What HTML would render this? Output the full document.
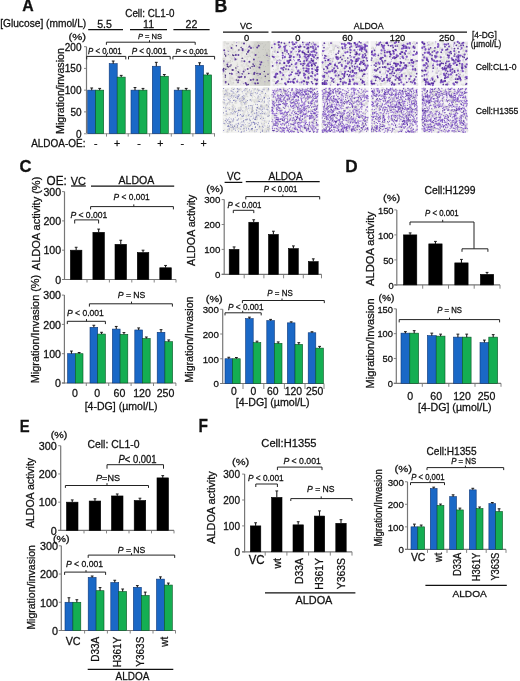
<!DOCTYPE html>
<html><head><meta charset="utf-8"><title>ALDOA figure</title>
<style>
html,body{margin:0;padding:0;background:#fff;}
body{width:520px;height:681px;overflow:hidden;}
svg{display:block;font-family:"Liberation Sans",Arial,sans-serif;filter:blur(0.3px);}
text{stroke:#111;stroke-width:0.28px;}
</style></head><body>
<svg width="520" height="681" viewBox="0 0 520 681" fill="#111">
<rect x="222.6" y="41.2" width="47.8" height="44.6" fill="#ecebe9"/>
<defs><linearGradient id="gvc" x1="0" x2="1" y1="0" y2="0"><stop offset="0" stop-color="#c9cac2" stop-opacity="0"/><stop offset="0.35" stop-color="#c9cac2" stop-opacity="0.7"/><stop offset="1" stop-color="#c9cac2" stop-opacity="0.8"/></linearGradient></defs>
<rect x="248.9" y="41.2" width="21.5" height="44.6" fill="url(#gvc)"/>
<path d="M230.1 61.6h0M259.1 72.4h0M257.3 60.6h0M260.4 64.9h0M227.0 61.6h0M225.5 82.2h0M267.2 56.4h0M237.7 75.1h0M232.8 49.6h0M232.1 56.9h0M252.4 83.5h0M233.1 83.2h0M249.1 80.8h0M261.3 48.8h0M253.4 47.3h0M223.6 59.0h0M259.2 66.4h0M232.2 78.2h0M265.7 52.1h0M244.1 69.5h0M265.2 47.4h0M249.0 83.7h0M251.6 72.9h0M259.3 63.8h0M236.7 67.4h0M247.8 56.7h0M262.9 57.6h0M245.7 74.8h0M261.1 80.4h0M253.5 52.8h0M262.6 81.2h0M256.5 75.0h0M247.1 63.2h0M250.3 48.3h0M254.7 79.1h0M230.9 74.5h0M256.1 47.1h0M225.7 67.6h0M233.5 55.3h0M252.1 70.0h0M258.0 66.4h0M238.8 42.4h0M228.6 50.2h0M247.7 73.0h0M233.0 58.7h0M266.7 59.2h0M256.4 68.6h0M253.9 62.5h0M248.6 72.2h0M230.8 76.4h0M263.8 43.9h0M232.5 52.6h0M227.7 47.9h0M253.1 47.2h0M226.4 82.8h0M242.0 65.3h0M245.3 56.7h0M244.4 50.3h0M250.2 52.8h0M230.0 50.9h0M242.5 82.1h0M251.0 84.3h0M241.9 53.2h0M256.3 50.1h0M269.6 58.8h0M235.9 53.6h0M237.4 82.4h0M269.3 66.0h0M234.1 42.3h0M227.0 54.8h0M253.1 69.0h0M262.9 77.4h0M239.7 71.0h0M243.9 73.4h0M231.9 84.1h0M224.4 68.6h0M239.7 76.5h0M230.0 80.4h0M223.4 73.7h0M255.9 63.8h0M231.4 58.4h0M244.0 51.1h0M230.8 78.3h0M248.8 53.6h0M252.3 69.2h0M229.6 67.2h0M250.4 46.7h0M237.3 79.2h0M250.2 51.5h0M241.6 61.7h0M256.2 79.1h0M227.4 43.9h0M243.8 42.8h0M230.5 46.5h0M227.4 68.9h0M227.7 66.4h0M268.1 48.0h0M258.5 67.1h0M231.2 82.9h0M257.5 58.3h0M264.5 46.4h0M262.0 78.3h0M228.7 81.4h0M259.7 81.4h0M236.4 73.8h0M259.5 56.9h0M224.9 42.5h0M246.8 65.6h0M229.1 69.2h0M225.7 62.6h0M247.0 50.7h0M225.5 80.9h0M262.9 67.3h0M224.7 64.6h0M268.0 75.0h0M255.2 43.6h0M250.1 52.0h0M269.1 42.4h0M233.6 79.9h0M228.9 54.9h0M237.5 80.0h0M255.6 82.2h0M232.2 45.7h0M239.2 75.0h0M252.0 82.3h0M256.4 45.4h0M237.9 50.7h0M235.7 70.7h0M243.9 74.6h0M224.0 81.2h0M230.8 74.0h0M262.5 43.7h0M248.5 84.0h0" stroke="#d0d0cc" stroke-width="2.8" stroke-linecap="round" stroke-opacity="0.45" fill="none"/>
<path d="M223.6 63.4h0M243.0 58.4h0M232.3 49.7h0M235.6 51.3h0M236.9 80.9h0M267.3 53.1h0M224.6 53.4h0M263.0 49.5h0M254.0 45.9h0M239.7 49.2h0M251.9 57.9h0M259.2 64.3h0M242.0 42.8h0M262.2 43.6h0M246.4 84.6h0M260.0 57.3h0M266.4 53.1h0M250.3 66.8h0M256.8 54.4h0M241.8 55.9h0M265.9 73.8h0M239.1 75.3h0M252.0 52.6h0M246.5 46.1h0M233.1 45.2h0M227.0 68.5h0M261.8 78.0h0M233.5 82.8h0M238.8 71.8h0M250.9 62.5h0M255.3 80.4h0M255.6 63.9h0M263.3 74.1h0M240.7 84.2h0M242.0 43.6h0M268.0 82.6h0M248.1 74.3h0M255.6 46.2h0M260.2 69.0h0M268.1 62.6h0M236.2 75.2h0M249.0 79.6h0M225.3 71.5h0M265.5 49.8h0M227.5 63.1h0M253.6 69.2h0M247.9 56.5h0M256.3 84.6h0M246.8 59.0h0M268.3 49.6h0M249.4 78.2h0M260.0 74.2h0M254.9 61.3h0M268.1 42.0h0M243.0 61.4h0M256.6 54.3h0M232.5 61.2h0M252.8 64.7h0M263.9 62.3h0M232.8 69.6h0M241.4 43.0h0M241.9 46.7h0M253.0 80.9h0M257.3 83.3h0M229.9 78.0h0M258.7 52.3h0M245.3 49.4h0M237.7 64.6h0M241.3 58.7h0M256.3 71.2h0M228.7 66.6h0M259.4 43.3h0M258.0 42.8h0M243.2 58.4h0M224.2 45.1h0M254.4 53.4h0M247.4 48.9h0M251.9 82.3h0M258.2 57.7h0M267.7 57.0h0M236.2 60.1h0M269.0 58.6h0M236.8 65.4h0M252.8 74.7h0M256.2 71.0h0M242.4 60.8h0M268.8 63.3h0M258.6 57.4h0M223.8 58.8h0M247.5 59.1h0M233.0 48.9h0M225.6 72.4h0M247.8 77.1h0M263.4 74.4h0M260.2 80.9h0M265.7 77.3h0M264.9 56.9h0M269.5 80.5h0M261.0 78.6h0M257.9 66.7h0M247.3 82.1h0M236.6 69.8h0M266.6 53.4h0M230.6 55.3h0M243.8 63.8h0M234.1 52.3h0M230.1 62.2h0M229.9 57.1h0M231.3 69.2h0M252.1 51.8h0M269.7 54.2h0M265.4 54.8h0M249.3 67.4h0M250.1 56.5h0M260.0 68.8h0M249.3 62.7h0M236.4 59.5h0M257.4 72.6h0M269.5 73.3h0M269.3 56.1h0M236.1 85.0h0M243.1 67.0h0M263.6 47.3h0M228.8 62.1h0M232.6 44.6h0M256.3 65.7h0M244.4 69.5h0M237.5 59.0h0M238.8 69.7h0M244.6 66.9h0M248.8 66.5h0M225.4 75.6h0M265.5 44.9h0M257.8 66.6h0M257.7 42.6h0M224.9 65.4h0M249.0 46.4h0M259.3 46.1h0M264.7 76.3h0M256.9 78.9h0M236.8 68.3h0M224.3 74.3h0M231.7 44.1h0M258.6 44.5h0M253.1 83.4h0M248.4 65.6h0M258.6 74.0h0M246.5 44.1h0M269.0 73.4h0M245.5 70.7h0M235.0 52.0h0M225.1 59.0h0M249.6 46.3h0M231.9 58.7h0M223.3 76.9h0M230.8 81.1h0M249.8 55.3h0M226.6 69.1h0M226.0 56.3h0M269.6 77.7h0M256.2 67.1h0M252.0 74.1h0M264.0 46.1h0M264.9 84.1h0M250.3 56.2h0M225.7 56.8h0M225.0 71.2h0M250.9 73.5h0M263.6 55.5h0M258.1 73.8h0M249.2 44.6h0M263.4 65.7h0M244.9 78.7h0M228.7 43.4h0M254.2 72.8h0M247.9 66.0h0M259.1 77.5h0M253.4 73.6h0M246.9 49.0h0M260.4 44.0h0M231.1 66.6h0M240.3 80.3h0M237.2 63.1h0M232.1 78.3h0M240.0 72.9h0M257.4 61.3h0M228.6 83.6h0M225.0 77.6h0M230.6 60.5h0M243.9 60.3h0M250.6 71.1h0M254.8 44.8h0M240.5 50.1h0M268.2 65.2h0M269.2 51.0h0M255.1 64.4h0M238.6 50.1h0M251.3 80.3h0M246.2 64.2h0M267.2 53.1h0M239.7 80.0h0M227.0 43.5h0M254.1 62.7h0M265.4 66.5h0M236.2 70.5h0M243.9 69.0h0M232.5 44.7h0M265.5 78.3h0M230.3 46.5h0M261.7 72.5h0M244.1 78.6h0M261.2 77.5h0M265.7 76.9h0" stroke="#a8a8a4" stroke-width="0.9" stroke-linecap="round" stroke-opacity="0.5" fill="none"/>
<path d="M223.4 69.5h0M243.6 71.6h0M255.3 83.5h0M241.4 76.7h0M239.6 77.2h0M235.5 59.2h0M246.9 84.8h0M238.3 80.4h0M253.3 79.4h0M231.5 48.0h0M257.9 83.2h0M257.2 47.4h0M247.7 69.0h0M242.4 49.1h0M238.4 54.9h0M244.4 61.3h0M242.6 50.3h0M245.8 83.5h0M225.7 82.0h0M254.1 73.9h0M254.5 72.8h0M250.8 80.1h0M235.8 55.0h0M247.9 52.1h0M251.0 48.1h0M244.9 77.0h0M260.4 64.6h0M254.2 65.9h0M258.7 45.8h0M249.4 61.7h0M249.5 46.6h0M223.5 70.7h0M224.2 50.2h0M260.1 74.1h0M255.5 55.1h0M244.0 43.4h0M259.4 67.6h0M245.6 83.0h0M261.4 62.3h0M248.8 50.5h0M227.3 64.6h0M257.2 80.0h0M231.7 73.7h0M232.9 70.1h0M253.9 59.4h0" stroke="#4e2a90" stroke-width="2.0" stroke-linecap="round" stroke-opacity="0.9" fill="none"/>
<path d="M225.4 75.2h0M238.6 72.5h0M224.8 54.2h0M223.9 60.9h0M229.9 66.2h0M241.1 47.4h0M227.4 66.3h0M267.0 55.2h0M242.1 73.7h0M228.3 66.9h0M246.6 54.1h0M248.3 84.6h0M225.6 56.1h0M236.3 80.0h0M250.3 67.9h0M232.6 54.9h0M268.0 74.2h0M229.8 73.5h0M238.2 77.1h0M236.4 45.8h0M264.3 71.6h0M235.8 68.1h0M253.2 64.2h0M257.0 73.5h0M233.7 55.6h0M238.0 82.4h0M225.7 69.2h0M232.1 69.9h0M238.1 71.8h0M265.3 76.2h0M225.4 76.9h0M242.2 58.3h0M228.6 84.3h0M252.1 66.4h0M238.9 50.1h0M223.8 68.6h0M231.0 65.1h0M225.6 55.7h0M269.0 80.7h0M248.7 73.6h0" stroke="#3a1f70" stroke-width="1.5" stroke-linecap="round" stroke-opacity="0.9" fill="none"/>
<path d="M258.1 75.2h0M228.5 51.5h0M228.5 54.5h0M243.5 49.0h0M254.3 82.8h0M234.9 60.1h0M225.4 83.2h0M237.8 82.0h0M231.6 73.3h0M234.6 57.9h0M259.8 61.4h0M252.8 63.6h0M236.2 54.9h0M268.0 60.8h0M249.4 73.6h0M253.2 47.8h0M239.8 73.7h0M223.6 71.9h0M259.9 61.6h0M242.6 74.4h0M237.9 66.4h0M227.9 51.0h0M232.6 74.3h0M248.3 47.4h0M237.0 73.2h0M228.1 62.7h0M223.8 61.9h0M258.5 73.3h0M243.4 83.6h0M241.7 60.9h0M264.9 81.8h0M245.6 69.9h0M269.2 56.4h0M236.7 42.6h0M224.8 52.4h0" stroke="#7a58b8" stroke-width="1.1" stroke-linecap="round" stroke-opacity="0.7" fill="none"/>
<rect x="271.0" y="41.2" width="47.8" height="44.6" fill="#f3f2f4"/>
<path d="M298.7 50.3h0M316.5 81.8h0M293.4 70.6h0M281.7 51.5h0M285.1 71.8h0M281.6 83.9h0M275.0 50.2h0M275.8 75.2h0M288.7 62.3h0M286.8 69.4h0M290.4 50.9h0M291.7 55.0h0M276.8 77.5h0M303.3 70.6h0M312.6 58.9h0M289.3 60.2h0M290.5 70.8h0M272.0 61.9h0M296.5 56.8h0M272.7 72.3h0M272.1 66.3h0M278.8 43.4h0M280.1 44.7h0M278.7 71.5h0M305.5 57.6h0M302.0 62.4h0M294.8 79.7h0M286.1 79.5h0M303.8 71.4h0M272.0 45.5h0M273.2 56.8h0M315.6 79.7h0M310.6 47.0h0M304.4 75.4h0M309.2 76.1h0M278.2 49.6h0M308.5 73.8h0M313.1 61.2h0M313.0 47.9h0M316.1 80.1h0M287.4 44.8h0M297.2 71.7h0M288.0 44.4h0M284.6 77.5h0M275.9 82.4h0M283.3 50.7h0M276.9 84.3h0M313.5 55.7h0M276.1 70.1h0M312.9 42.4h0M301.1 78.9h0M293.0 66.5h0M309.0 52.2h0M284.4 70.4h0M297.3 65.0h0M287.2 82.4h0M285.1 71.2h0M313.2 59.2h0M274.2 51.4h0M274.8 48.3h0M277.3 56.7h0M288.9 61.2h0M302.6 71.1h0M303.6 57.6h0M302.5 65.7h0M277.6 65.5h0M286.5 71.1h0M305.8 52.3h0M291.9 61.6h0M285.5 43.6h0M274.0 84.8h0M306.0 60.9h0M302.6 53.5h0M304.7 83.0h0M307.6 62.0h0M317.3 81.7h0M274.4 59.7h0M292.7 53.7h0M300.3 48.1h0M306.4 79.0h0M274.6 71.8h0M284.0 69.5h0M303.8 84.1h0M308.7 56.5h0M305.6 48.2h0M304.8 59.9h0M284.0 52.2h0M281.8 76.3h0M276.2 51.9h0M280.6 48.7h0M305.6 67.3h0M302.5 80.8h0M292.5 43.5h0M280.5 64.2h0M304.9 81.6h0M295.4 51.7h0M299.2 82.3h0M287.2 82.1h0M313.6 66.8h0M294.0 47.5h0M276.8 43.7h0M300.1 72.7h0M317.8 67.9h0M317.8 59.3h0M277.9 44.5h0M285.1 64.8h0M317.5 54.7h0M282.6 73.1h0M289.7 66.0h0M278.7 78.8h0M314.4 74.5h0M315.1 56.3h0M273.2 55.1h0M313.4 62.2h0M281.0 48.4h0M279.3 60.9h0M314.7 80.1h0M306.9 74.6h0M280.6 75.5h0M282.1 64.6h0M273.3 80.5h0M277.7 67.5h0M302.4 69.7h0M303.4 57.9h0M308.5 82.4h0M300.3 84.2h0M311.1 44.3h0M302.9 45.9h0M302.4 57.9h0M311.3 43.8h0M315.6 43.8h0M274.3 42.0h0M277.5 84.5h0" stroke="#d0d0cc" stroke-width="2.8" stroke-linecap="round" stroke-opacity="0.45" fill="none"/>
<path d="M310.5 81.5h0M280.3 71.6h0M308.6 73.3h0M284.2 83.8h0M305.5 71.5h0M284.9 59.1h0M306.9 64.2h0M294.3 81.6h0M291.2 79.0h0M273.9 64.8h0M304.8 42.4h0M304.0 54.3h0M300.7 68.8h0M278.0 82.7h0M283.0 47.8h0M292.2 44.7h0M276.4 74.8h0M276.2 65.3h0M312.8 61.5h0M309.5 77.8h0M279.3 45.2h0M308.1 79.3h0M311.3 72.8h0M295.4 83.3h0M306.0 74.9h0M314.0 44.3h0M306.1 67.1h0M272.3 52.9h0M304.9 64.8h0M297.8 54.3h0M298.0 79.9h0M317.2 65.8h0M305.6 45.7h0M278.2 66.1h0M310.0 47.1h0M278.5 63.5h0M285.9 48.0h0M279.1 60.2h0M308.5 49.3h0M309.1 45.1h0M283.3 70.8h0M272.0 55.8h0M278.9 51.9h0M312.8 48.8h0M305.1 81.2h0M283.1 79.2h0M286.6 75.3h0M298.7 57.0h0M312.8 72.0h0M286.5 66.7h0M285.4 54.2h0M315.2 84.0h0M279.0 81.5h0M304.8 42.4h0M276.7 60.7h0M312.9 79.6h0M283.3 61.1h0M314.6 51.0h0M276.6 59.8h0M303.3 79.6h0M312.4 42.4h0M279.8 47.4h0M299.3 59.4h0M314.5 68.5h0M300.2 71.6h0M281.2 80.6h0M311.7 77.4h0M308.0 49.4h0M274.2 57.7h0M305.0 50.6h0M312.0 78.9h0M304.0 62.8h0M278.7 76.9h0M279.7 63.3h0M306.9 69.4h0M282.6 79.9h0M286.6 60.1h0M292.0 72.2h0M273.5 69.5h0M294.3 76.5h0M288.7 66.6h0M316.6 44.4h0M308.5 62.1h0M285.6 53.8h0M281.8 78.3h0M281.1 83.5h0M295.7 54.2h0M308.0 67.0h0M312.7 48.1h0M303.8 43.1h0M280.2 59.8h0M286.2 54.1h0M298.1 74.2h0M291.0 63.9h0M308.0 51.7h0M318.0 42.9h0M288.9 77.6h0M282.6 56.2h0M279.6 84.0h0M312.4 45.4h0M296.7 48.5h0M272.5 51.4h0M304.3 64.7h0M285.0 67.0h0M275.5 56.7h0M276.3 77.5h0M289.5 72.8h0M287.3 59.8h0M298.4 53.1h0M297.1 75.3h0M275.1 50.5h0M272.6 63.0h0M276.8 64.4h0M279.2 64.6h0M284.8 74.3h0M309.5 83.3h0M293.2 80.3h0M311.7 56.4h0M317.2 83.3h0M279.0 74.4h0M303.6 68.5h0M304.7 53.9h0M310.4 73.1h0M280.2 83.6h0M305.7 44.3h0M273.2 49.2h0M302.4 73.1h0M314.9 80.1h0M281.2 50.3h0M275.6 58.7h0M291.3 58.3h0M309.8 68.4h0M309.0 79.2h0M307.2 64.1h0M290.7 65.1h0M293.0 70.8h0M311.2 71.1h0M283.5 66.3h0M292.8 47.2h0M276.6 61.4h0M315.4 72.3h0M274.3 81.5h0M305.3 68.0h0M272.0 55.3h0M287.2 62.7h0M277.4 69.1h0M300.1 69.6h0M294.6 66.0h0M276.9 77.6h0M312.0 78.7h0M307.3 52.4h0M285.3 44.1h0M308.1 79.0h0M315.2 67.8h0M308.8 78.4h0M277.3 44.9h0M312.4 83.8h0M304.9 68.7h0M290.1 79.0h0M284.9 44.2h0M309.0 44.5h0M304.9 70.0h0M276.8 60.8h0M284.3 76.8h0M307.8 56.1h0M278.9 56.7h0M292.1 68.1h0M315.7 55.8h0M278.6 69.0h0M291.4 73.9h0M302.4 65.5h0M309.6 50.4h0M308.0 49.8h0M293.9 65.9h0M296.9 46.7h0M293.0 54.0h0M284.5 60.1h0M290.9 50.8h0M303.5 82.1h0M315.7 49.7h0M282.5 59.5h0M299.3 71.8h0M299.0 63.2h0M318.0 83.4h0M309.0 52.8h0M307.3 43.5h0M315.7 72.2h0M314.6 60.2h0M304.7 52.7h0M314.6 49.6h0M272.1 54.0h0M302.5 65.1h0M309.2 71.4h0M307.9 82.6h0M274.8 46.5h0M285.1 47.7h0M297.3 73.0h0M280.1 63.3h0M283.2 42.6h0M284.0 53.4h0M303.6 83.8h0M274.8 63.1h0M293.2 69.0h0M278.6 83.2h0M284.5 66.9h0M290.6 66.2h0M312.6 68.6h0M287.5 83.0h0M279.9 83.3h0M303.0 52.5h0M317.4 79.3h0M295.3 76.8h0M276.1 53.8h0" stroke="#a8a8a4" stroke-width="0.9" stroke-linecap="round" stroke-opacity="0.5" fill="none"/>
<path d="M293.9 82.7h0M317.7 67.0h0M308.0 47.6h0M299.2 47.2h0M308.8 66.2h0M311.6 65.6h0M307.1 84.1h0M295.8 47.0h0M293.2 44.4h0M298.0 71.4h0M284.9 49.1h0M289.9 55.7h0M306.7 68.5h0M290.4 81.9h0M286.8 50.5h0M308.2 44.4h0M316.5 52.8h0M312.7 60.8h0M310.6 62.6h0M312.1 68.8h0M281.3 68.3h0M291.2 52.0h0M312.5 54.8h0M301.6 82.3h0M284.3 62.9h0M292.4 42.3h0M308.7 69.0h0M316.2 84.3h0M282.3 68.3h0M300.9 64.1h0M313.5 63.6h0M308.5 78.2h0M279.1 47.5h0M273.8 57.1h0M313.0 51.4h0M276.8 62.7h0M284.8 57.2h0M304.2 61.2h0M306.1 57.5h0M300.1 46.4h0M276.6 73.5h0M317.3 74.0h0M314.9 44.7h0M304.4 47.0h0M291.0 74.5h0M308.3 63.9h0M305.0 74.5h0M316.9 69.3h0M318.1 46.5h0M303.5 68.3h0M288.1 81.7h0M275.9 74.2h0M289.6 66.1h0M309.7 62.3h0M292.6 81.5h0M305.5 54.5h0M306.5 44.6h0M275.6 76.0h0M282.8 55.5h0M299.9 57.0h0M289.3 75.5h0M296.3 67.3h0M308.2 69.0h0M302.4 51.8h0M312.3 71.8h0M297.6 54.7h0M312.8 46.7h0M296.3 42.6h0M283.2 75.2h0M307.3 71.7h0M310.3 55.0h0M274.7 44.2h0M308.7 56.5h0M293.4 48.9h0M304.5 63.6h0M295.4 47.0h0M278.4 42.3h0M307.9 64.8h0M295.8 73.5h0M308.4 71.1h0M298.4 70.6h0M312.7 55.9h0M276.9 82.2h0M304.1 75.2h0M303.6 81.0h0M284.2 46.8h0M305.1 77.7h0M304.7 56.4h0M296.4 63.0h0M280.2 46.6h0M299.5 73.3h0M299.7 50.9h0M317.2 79.6h0M287.5 61.2h0M314.0 57.2h0M286.6 65.8h0M295.6 64.2h0M297.2 81.7h0M293.8 57.1h0M313.4 48.1h0M305.8 71.1h0M289.1 62.2h0M285.1 83.4h0M315.2 75.4h0M306.9 65.5h0M298.2 60.0h0M307.2 59.3h0M284.7 47.5h0M311.4 51.8h0M280.5 72.7h0" stroke="#6a38b8" stroke-width="2.2" stroke-linecap="round" stroke-opacity="0.85" fill="none"/>
<path d="M309.0 73.0h0M308.3 51.2h0M306.6 82.1h0M316.8 71.2h0M293.4 79.4h0M308.3 52.2h0M315.6 55.1h0M311.3 58.8h0M316.0 62.9h0M312.6 83.5h0M313.0 61.5h0M282.6 52.9h0M279.2 42.0h0M317.3 71.5h0M304.7 53.7h0M291.3 56.0h0M308.6 55.0h0M288.5 69.4h0M288.5 53.8h0M314.7 51.8h0M311.8 64.5h0M285.4 46.0h0M280.1 71.5h0M289.4 42.4h0M310.9 46.9h0M310.8 76.0h0M306.6 60.6h0M317.9 57.7h0M306.9 54.5h0M279.9 63.0h0M300.2 61.3h0M283.9 67.4h0M317.0 83.7h0M303.8 52.6h0M308.0 82.3h0M285.9 69.0h0M284.3 63.2h0M291.7 64.3h0M315.9 49.5h0M300.7 46.5h0M271.8 47.6h0M299.2 59.5h0M302.6 52.3h0M293.4 82.3h0M317.0 69.7h0M317.2 57.9h0M304.0 73.3h0M282.7 57.8h0M288.2 63.1h0M315.6 70.2h0M283.2 69.8h0M315.9 48.1h0M292.1 48.0h0M275.4 77.4h0M284.4 43.3h0M311.8 76.2h0M310.1 54.0h0M290.3 57.4h0M289.1 60.5h0M278.8 44.9h0M307.1 48.7h0M306.6 70.9h0M278.0 80.9h0M277.5 73.8h0M316.8 80.5h0M307.3 48.6h0M315.2 65.5h0M289.4 57.3h0M302.8 42.4h0M303.2 63.7h0M288.3 81.9h0M316.1 83.5h0M297.1 73.6h0M274.3 76.8h0M315.1 79.4h0M311.3 60.5h0M317.9 69.8h0M303.0 65.5h0M294.9 78.7h0M275.8 83.3h0M309.5 42.6h0M307.9 56.6h0M298.9 51.7h0M298.7 47.1h0M289.2 79.0h0M281.4 42.7h0M304.3 81.3h0M313.1 60.3h0M281.8 79.1h0M294.7 44.2h0M277.8 52.2h0M308.2 77.0h0M290.5 60.2h0M317.0 67.5h0M290.5 59.9h0M272.6 56.5h0M284.9 50.9h0M308.7 47.9h0M272.7 65.9h0M312.5 73.3h0M311.7 81.9h0M298.5 75.3h0M314.7 64.2h0M311.9 65.6h0M299.7 55.1h0M285.9 84.4h0M292.0 72.2h0M314.1 50.1h0M287.1 52.0h0M300.0 72.3h0" stroke="#4c2496" stroke-width="1.7" stroke-linecap="round" stroke-opacity="0.9" fill="none"/>
<path d="M314.1 69.4h0M300.0 44.7h0M311.2 72.4h0M298.1 61.7h0M303.1 44.4h0M293.7 59.5h0M309.3 61.2h0M298.3 71.6h0M314.1 62.4h0M294.4 60.7h0M314.6 78.5h0M286.5 45.4h0M309.7 62.4h0M317.4 66.4h0M292.7 50.8h0M314.1 51.9h0M305.2 58.8h0M313.6 44.1h0M296.3 51.5h0M316.5 59.5h0M316.7 69.4h0M291.9 69.3h0M307.0 46.8h0M299.7 82.7h0M307.3 58.7h0M311.2 72.3h0M277.7 60.4h0M316.7 45.1h0M303.1 50.4h0M307.9 60.7h0M308.6 58.3h0M300.5 56.5h0M311.9 63.5h0M307.6 71.8h0M309.0 45.9h0M311.5 76.2h0M298.7 49.4h0M282.3 73.2h0M315.2 58.5h0M313.7 46.6h0M312.9 77.6h0M290.7 53.1h0M304.3 61.3h0M291.0 57.5h0M297.4 80.2h0M297.6 45.8h0M312.1 51.8h0M274.8 51.8h0M307.2 42.6h0M311.8 43.6h0M308.7 49.7h0M314.3 54.7h0M313.0 47.8h0M300.6 50.4h0M285.3 56.2h0M303.6 84.2h0M280.9 60.7h0M303.6 70.3h0M279.3 59.9h0M315.9 70.3h0M313.5 42.7h0M315.2 46.4h0M313.3 46.7h0M296.7 69.0h0M289.7 46.3h0M289.6 59.3h0M292.5 42.7h0M308.1 79.1h0M311.7 44.0h0M303.8 75.9h0" stroke="#8a66c8" stroke-width="1.2" stroke-linecap="round" stroke-opacity="0.75" fill="none"/>
<rect x="321.5" y="41.2" width="47.3" height="44.6" fill="#f3f2f4"/>
<path d="M329.0 68.5h0M330.0 72.7h0M350.1 58.5h0M350.5 66.4h0M324.2 64.8h0M350.6 64.3h0M362.6 73.7h0M339.5 51.7h0M328.1 76.9h0M353.9 68.2h0M342.5 63.5h0M332.4 64.8h0M328.9 68.7h0M351.1 70.9h0M333.5 45.9h0M337.5 71.6h0M345.6 74.2h0M342.0 59.1h0M363.9 49.1h0M331.7 67.3h0M351.2 60.6h0M347.8 60.9h0M352.9 80.3h0M360.1 69.5h0M343.8 82.8h0M342.7 68.9h0M362.1 71.4h0M340.1 74.0h0M349.8 81.4h0M350.8 65.0h0M366.9 64.7h0M340.5 82.4h0M365.5 49.3h0M325.5 79.0h0M362.7 58.5h0M333.9 71.5h0M365.4 51.1h0M342.8 70.5h0M332.3 59.8h0M328.8 62.6h0M332.8 45.4h0M340.1 48.4h0M327.7 48.4h0M341.4 55.6h0M355.6 59.8h0M333.4 50.0h0M335.8 74.0h0M331.5 62.0h0M359.2 77.7h0M343.4 78.3h0M351.7 51.7h0M326.5 49.2h0M358.5 58.7h0M360.6 83.7h0M364.4 62.2h0M322.5 53.8h0M332.2 69.9h0M354.4 81.7h0M354.6 83.4h0M351.5 62.4h0M360.6 53.7h0M357.9 73.3h0M362.0 44.5h0M330.9 82.9h0M328.7 61.4h0M349.8 62.7h0M362.6 83.2h0M337.9 47.7h0M364.2 61.5h0M333.6 47.9h0M322.6 67.1h0M335.1 65.9h0M364.6 62.8h0M366.0 44.8h0M357.0 74.5h0M366.2 43.2h0M345.5 65.9h0M349.7 62.3h0M334.7 80.9h0M362.5 72.2h0M366.2 65.8h0M325.8 71.9h0M327.0 74.3h0M352.0 50.8h0M329.2 44.8h0M330.3 84.2h0M332.7 80.1h0M328.4 56.5h0M343.9 57.4h0M366.5 52.3h0M344.4 50.8h0M327.2 71.7h0M337.8 62.9h0M354.0 45.7h0M324.7 71.6h0M367.8 42.7h0M343.0 84.9h0M360.4 84.6h0M346.5 83.9h0M324.8 62.3h0M361.1 58.8h0M342.4 61.3h0M339.6 77.0h0M366.9 51.9h0M337.0 76.6h0M356.3 77.1h0M353.5 81.4h0M361.0 69.3h0M335.2 45.6h0M361.7 79.0h0M363.1 53.3h0M356.1 82.1h0M331.7 42.9h0M330.2 51.4h0M353.4 77.4h0M359.8 71.7h0M367.1 83.9h0M342.4 81.7h0M355.2 52.5h0M349.1 49.3h0M340.6 77.0h0M322.7 65.1h0M342.2 54.1h0M325.2 64.5h0M337.5 46.1h0M340.6 71.2h0M325.9 75.8h0M326.0 62.2h0M339.0 78.9h0M363.2 73.7h0M335.7 55.9h0" stroke="#d0d0cc" stroke-width="2.8" stroke-linecap="round" stroke-opacity="0.45" fill="none"/>
<path d="M360.1 63.9h0M351.4 73.2h0M331.0 58.5h0M366.0 56.2h0M361.1 48.6h0M322.8 63.6h0M335.2 67.6h0M357.5 43.6h0M345.1 58.0h0M363.8 78.4h0M362.8 73.9h0M338.1 68.7h0M347.2 57.8h0M335.5 69.9h0M363.3 52.3h0M338.5 48.7h0M339.0 58.7h0M326.5 69.8h0M338.0 76.8h0M333.3 73.6h0M367.2 49.2h0M339.2 83.9h0M340.7 56.1h0M329.2 77.7h0M337.2 79.9h0M347.8 49.7h0M367.8 80.8h0M356.6 67.9h0M356.8 82.8h0M331.3 52.3h0M357.2 59.9h0M367.4 77.9h0M346.1 48.8h0M350.3 67.9h0M348.8 75.5h0M344.1 80.5h0M349.5 48.8h0M359.9 49.2h0M363.8 81.9h0M331.2 50.6h0M354.4 61.6h0M339.4 74.3h0M337.6 47.5h0M347.5 79.8h0M366.3 46.5h0M356.4 55.9h0M366.8 58.8h0M326.9 56.2h0M345.9 49.5h0M357.5 56.1h0M356.3 51.9h0M344.7 70.4h0M331.7 54.4h0M360.7 58.9h0M338.2 68.6h0M353.9 79.2h0M348.1 78.8h0M363.2 81.9h0M364.4 71.9h0M354.1 58.7h0M327.1 81.8h0M341.2 56.5h0M347.4 74.6h0M360.3 46.8h0M358.2 82.6h0M367.1 82.6h0M348.5 80.3h0M349.3 78.6h0M367.6 58.1h0M327.9 74.3h0M365.3 81.0h0M343.4 61.3h0M327.9 78.7h0M334.7 47.2h0M326.9 82.1h0M341.3 76.2h0M325.4 62.7h0M356.4 75.2h0M330.9 62.7h0M359.5 81.4h0M326.5 67.3h0M363.0 68.7h0M358.2 54.7h0M344.8 42.5h0M358.8 66.2h0M330.5 82.6h0M331.9 43.4h0M355.5 45.4h0M352.4 47.8h0M323.2 73.7h0M350.4 70.4h0M354.7 72.9h0M330.3 60.2h0M349.4 79.3h0M351.8 63.0h0M359.8 78.4h0M333.7 49.8h0M322.5 79.6h0M331.9 66.9h0M346.3 70.3h0M365.3 70.3h0M330.1 60.5h0M330.7 58.4h0M356.2 70.1h0M351.0 79.2h0M368.0 52.8h0M354.4 69.8h0M323.4 84.7h0M340.5 71.0h0M332.7 60.2h0M327.6 83.7h0M324.1 45.0h0M355.6 66.8h0M337.0 82.5h0M354.3 61.3h0M354.9 82.4h0M362.2 57.6h0M357.7 51.4h0M339.9 84.8h0M355.9 59.2h0M347.2 60.8h0M354.7 64.5h0M343.0 60.0h0M362.6 76.9h0M333.3 59.1h0M363.5 73.4h0M349.8 69.1h0M331.4 66.4h0M356.5 61.0h0M341.0 60.5h0M349.7 51.4h0M359.9 44.7h0M357.7 64.6h0M333.7 52.8h0M334.6 48.9h0M367.8 53.9h0M326.1 70.3h0M367.0 54.3h0M332.8 67.2h0M337.2 61.8h0M348.5 85.0h0M339.5 57.6h0M354.7 66.5h0M362.4 60.7h0M351.4 63.9h0M349.9 63.0h0M329.7 47.2h0M340.4 85.1h0M345.6 63.5h0M342.8 75.4h0M338.5 58.8h0M337.6 66.6h0M344.2 68.0h0M365.2 56.7h0M350.9 84.8h0M356.3 78.3h0M359.5 50.4h0M351.3 56.8h0M338.5 47.4h0M358.1 81.8h0M361.8 60.7h0M364.4 76.6h0M350.5 76.6h0M357.9 42.4h0M350.7 70.0h0M338.7 76.8h0M356.1 45.8h0M340.0 42.3h0M339.4 46.7h0M322.3 54.8h0M355.1 49.5h0M366.7 50.0h0M360.3 53.6h0M362.4 63.8h0M360.8 61.1h0M335.0 80.2h0M323.1 47.4h0M328.6 66.1h0M357.1 52.5h0M348.9 78.7h0M322.4 74.9h0M328.5 43.1h0M344.8 58.6h0M340.3 69.4h0M322.9 68.0h0M328.9 82.7h0M343.9 51.1h0M346.3 59.7h0M325.5 74.8h0M342.0 78.3h0M357.0 77.6h0M365.9 54.7h0M348.1 66.6h0M350.6 74.1h0M357.3 70.0h0M349.9 65.3h0M328.7 53.6h0M327.7 67.7h0M350.0 51.6h0M339.6 79.3h0M329.4 65.1h0M345.7 62.2h0M335.3 83.0h0M348.0 63.6h0M325.7 43.5h0M343.8 53.3h0M353.6 72.5h0M325.0 58.3h0M336.5 69.9h0M348.2 79.1h0" stroke="#a8a8a4" stroke-width="0.9" stroke-linecap="round" stroke-opacity="0.5" fill="none"/>
<path d="M355.9 61.0h0M351.1 60.0h0M367.0 46.0h0M347.7 63.3h0M328.4 65.2h0M326.9 73.1h0M364.6 44.5h0M328.1 60.2h0M365.3 45.2h0M360.7 47.3h0M336.7 58.3h0M362.5 56.6h0M365.2 65.4h0M344.5 82.3h0M332.3 71.1h0M345.0 46.1h0M361.3 49.5h0M366.4 58.0h0M350.1 81.4h0M334.8 72.3h0M367.7 65.7h0M357.1 60.9h0M350.4 49.9h0M323.2 76.6h0M354.7 83.4h0M326.0 83.1h0M349.4 43.2h0M360.5 48.6h0M359.9 49.8h0M358.1 58.7h0M354.7 73.1h0M349.8 68.5h0M344.2 44.1h0M360.7 63.4h0M354.1 57.3h0M351.6 76.4h0M333.0 79.4h0M332.6 70.0h0M362.8 47.3h0M364.9 70.2h0M345.7 44.8h0M357.3 84.0h0M353.6 75.7h0M359.8 46.2h0M366.2 50.7h0M347.5 51.9h0M358.9 58.5h0M341.9 43.8h0M345.4 52.6h0M362.7 57.5h0M351.3 46.3h0M336.9 66.3h0M348.2 43.2h0M345.6 66.3h0M323.3 83.3h0M335.0 64.7h0M326.5 84.0h0M356.9 83.7h0M359.9 70.8h0M352.8 79.5h0M337.6 59.2h0M364.1 63.5h0M344.7 68.3h0M350.4 72.1h0M338.3 58.5h0M342.3 47.4h0M362.1 70.9h0M344.1 74.8h0M345.1 71.9h0M337.9 84.6h0M355.0 43.2h0M325.1 83.9h0M341.6 64.8h0M358.2 46.4h0M364.7 49.4h0M355.8 44.7h0M347.9 63.6h0M340.8 79.4h0M357.8 60.4h0M357.2 66.7h0M361.4 47.3h0M354.2 84.1h0M355.2 68.5h0M330.1 71.5h0M328.9 71.7h0M354.4 50.3h0M359.3 54.3h0M357.3 44.5h0M335.7 75.6h0M334.1 68.3h0M364.8 47.9h0M362.9 55.0h0M345.9 82.8h0M361.0 61.9h0M324.6 58.2h0M349.8 84.0h0M331.2 78.1h0M353.1 70.8h0M330.5 64.1h0M357.0 53.7h0M344.2 75.6h0M322.6 62.3h0M353.2 79.6h0M366.6 67.7h0M363.9 82.0h0M352.3 61.2h0M343.0 84.0h0M324.2 77.0h0M323.0 51.1h0M362.4 82.8h0" stroke="#6a38b8" stroke-width="2.2" stroke-linecap="round" stroke-opacity="0.85" fill="none"/>
<path d="M323.9 69.2h0M361.7 51.0h0M337.7 84.5h0M340.3 78.8h0M352.3 70.4h0M354.6 66.5h0M345.3 60.8h0M336.1 54.3h0M344.4 76.4h0M338.2 53.1h0M367.2 60.7h0M348.3 71.2h0M349.9 47.4h0M337.7 68.0h0M336.2 56.9h0M356.7 53.3h0M342.7 48.6h0M359.7 64.2h0M356.3 59.2h0M336.4 57.3h0M337.8 57.1h0M324.1 75.7h0M349.7 74.9h0M364.6 84.4h0M338.5 75.2h0M349.5 81.7h0M366.6 51.9h0M366.3 68.8h0M325.9 56.1h0M363.9 69.9h0M364.4 57.2h0M356.1 52.0h0M338.8 63.0h0M343.0 82.3h0M327.3 67.0h0M365.0 53.8h0M342.2 73.9h0M324.2 75.5h0M352.7 72.1h0M333.7 82.1h0M351.7 63.0h0M335.1 65.4h0M363.7 74.5h0M340.5 57.3h0M327.1 80.5h0M328.7 59.6h0M361.9 48.3h0M351.2 43.8h0M359.4 67.8h0M360.9 42.8h0M362.5 81.6h0M322.4 82.9h0M340.1 62.3h0M324.3 43.2h0M365.1 46.4h0M335.2 70.8h0M331.0 43.1h0M356.3 61.6h0M344.6 73.6h0M363.4 64.2h0M362.3 48.6h0M362.6 80.6h0M336.0 71.1h0M361.5 70.2h0M326.1 66.5h0M355.5 63.4h0M325.0 80.9h0M342.0 59.3h0M360.8 79.4h0M324.9 72.5h0M355.3 54.3h0M363.4 60.7h0M348.8 76.4h0M343.0 78.1h0M327.5 68.4h0M342.0 66.1h0M354.3 42.9h0M345.1 48.1h0M324.4 84.2h0M356.5 47.2h0M347.4 74.5h0M324.4 82.1h0M359.3 41.9h0M349.7 79.8h0M356.4 72.9h0M349.2 62.0h0M350.1 55.6h0M362.4 48.9h0M362.6 76.0h0M332.0 81.0h0M324.0 47.6h0M348.7 84.1h0M325.4 60.5h0M322.5 84.1h0M329.8 63.5h0M343.3 55.5h0M349.7 67.7h0M362.5 62.3h0M347.8 58.0h0M338.8 51.1h0M359.1 69.3h0M346.5 66.4h0M365.6 55.4h0M364.7 74.2h0M352.2 66.1h0M356.5 54.4h0M350.4 52.6h0M324.9 55.7h0M340.6 81.5h0M349.8 43.8h0" stroke="#4c2496" stroke-width="1.7" stroke-linecap="round" stroke-opacity="0.9" fill="none"/>
<path d="M324.7 72.4h0M346.5 66.9h0M364.5 60.9h0M338.1 59.0h0M367.2 73.8h0M353.9 64.9h0M330.0 60.8h0M341.5 72.0h0M346.2 71.3h0M343.9 55.7h0M322.8 45.2h0M322.4 80.3h0M350.2 63.0h0M344.5 77.4h0M349.9 61.1h0M326.8 58.3h0M338.0 76.7h0M357.7 49.7h0M366.4 59.4h0M343.2 73.6h0M323.4 79.1h0M322.5 55.4h0M351.8 56.7h0M339.5 75.3h0M363.8 58.1h0M332.8 61.6h0M364.0 73.5h0M352.5 67.2h0M350.9 57.4h0M355.3 56.2h0M366.6 45.5h0M335.5 63.0h0M339.6 84.4h0M330.8 63.2h0M351.5 75.6h0M335.9 46.0h0M324.6 50.7h0M367.2 42.1h0M363.9 47.8h0M334.5 78.3h0M351.4 64.8h0M326.7 67.0h0M355.6 47.0h0M323.5 71.0h0M356.0 72.7h0M337.3 73.1h0M360.3 47.2h0M359.3 55.2h0M346.9 47.6h0M357.8 43.3h0M360.9 45.6h0M326.3 82.3h0M360.7 65.0h0M335.1 64.7h0M329.9 58.5h0M337.0 58.1h0M351.5 50.1h0M359.0 67.6h0M358.8 55.0h0M322.2 75.7h0M337.8 47.5h0M355.8 74.5h0M330.5 84.9h0M328.6 76.1h0M333.1 58.1h0M343.4 82.6h0M361.8 45.4h0M339.9 71.8h0M322.4 63.1h0M347.7 61.2h0" stroke="#8a66c8" stroke-width="1.2" stroke-linecap="round" stroke-opacity="0.75" fill="none"/>
<rect x="370.5" y="41.2" width="47.5" height="44.6" fill="#f3f2f4"/>
<path d="M416.3 61.6h0M404.3 73.6h0M381.1 45.3h0M399.0 47.2h0M388.8 80.3h0M411.4 47.0h0M375.0 51.5h0M409.4 43.0h0M381.6 46.5h0M377.1 64.5h0M379.7 59.6h0M405.0 73.1h0M390.3 75.9h0M397.6 77.6h0M382.7 57.8h0M398.0 82.8h0M399.7 62.4h0M382.8 54.1h0M381.1 84.5h0M412.1 80.5h0M395.6 72.5h0M384.9 62.7h0M377.9 60.1h0M382.8 46.2h0M413.6 46.1h0M408.7 72.1h0M375.4 62.9h0M417.1 84.5h0M397.2 75.2h0M403.9 54.5h0M396.6 67.7h0M389.4 77.3h0M391.7 74.3h0M374.2 61.1h0M373.2 69.8h0M411.4 65.4h0M397.3 68.8h0M381.8 58.6h0M397.9 69.8h0M388.7 62.5h0M386.4 65.8h0M402.4 56.1h0M402.8 78.6h0M395.9 84.3h0M385.5 81.6h0M379.6 57.6h0M408.9 43.3h0M399.5 79.5h0M414.7 71.4h0M387.1 56.3h0M400.3 44.8h0M372.5 80.0h0M400.1 48.9h0M391.0 54.4h0M411.3 54.3h0M404.6 74.0h0M385.9 52.8h0M395.2 59.2h0M398.6 56.1h0M407.8 60.1h0M377.5 75.4h0M412.5 71.3h0M396.4 79.6h0M414.2 42.3h0M393.7 42.7h0M386.6 52.3h0M392.5 71.2h0M410.9 53.2h0M371.7 85.1h0M407.3 65.7h0M376.4 44.2h0M414.3 64.8h0M410.8 75.8h0M405.8 76.7h0M382.9 52.5h0M391.2 75.1h0M407.8 74.6h0M397.9 62.5h0M380.2 70.7h0M401.3 64.1h0M404.7 84.2h0M414.7 46.5h0M384.5 68.4h0M403.0 54.2h0M414.1 61.8h0M406.5 44.2h0M384.1 42.9h0M407.7 64.4h0M415.1 68.1h0M386.2 57.3h0M388.5 50.5h0M376.2 70.0h0M385.7 61.5h0M403.9 53.7h0M391.5 55.9h0M386.1 70.7h0M375.7 59.2h0M376.3 70.8h0M384.9 83.6h0M393.5 70.5h0M395.3 77.3h0M403.5 69.6h0M372.7 48.0h0M405.8 59.7h0M416.2 69.4h0M409.2 74.1h0M415.6 70.3h0M414.4 60.3h0M383.5 46.7h0M382.8 80.5h0M401.5 43.8h0M372.5 61.8h0M396.3 57.5h0M372.1 53.2h0M411.6 73.2h0M408.9 53.5h0M402.0 50.4h0M385.1 83.2h0M381.0 54.5h0M381.2 79.4h0M402.9 67.4h0M410.4 61.9h0M413.4 75.5h0M385.0 52.1h0M396.0 61.2h0M407.6 70.1h0M405.4 68.0h0M383.4 74.0h0M416.4 69.4h0M404.0 52.0h0M376.6 61.3h0M398.6 73.3h0" stroke="#d0d0cc" stroke-width="2.8" stroke-linecap="round" stroke-opacity="0.45" fill="none"/>
<path d="M393.1 65.4h0M375.3 44.0h0M376.8 55.7h0M382.4 48.1h0M386.8 56.5h0M409.2 82.3h0M417.0 73.8h0M371.7 52.2h0M417.3 72.0h0M410.7 50.5h0M382.3 46.1h0M395.4 57.7h0M392.9 47.9h0M372.4 58.6h0M413.9 70.1h0M397.6 44.6h0M391.2 57.8h0M400.3 59.3h0M408.2 53.8h0M404.8 42.1h0M377.9 76.3h0M410.5 55.0h0M380.3 83.4h0M398.5 45.8h0M416.8 66.4h0M385.0 63.8h0M388.2 66.8h0M390.3 58.1h0M404.9 55.1h0M409.5 74.2h0M414.7 48.6h0M410.9 72.7h0M379.6 81.3h0M394.4 49.6h0M380.9 85.1h0M408.2 52.0h0M412.3 43.5h0M403.3 69.2h0M411.3 81.1h0M404.9 78.3h0M392.6 82.2h0M391.0 73.3h0M405.8 59.4h0M409.0 72.9h0M378.5 67.3h0M393.6 67.6h0M372.5 72.2h0M389.5 73.7h0M382.3 42.8h0M392.7 69.5h0M407.1 65.3h0M411.8 49.0h0M376.9 59.3h0M401.5 75.0h0M374.2 67.7h0M387.3 64.7h0M375.7 48.9h0M400.6 56.6h0M416.2 63.8h0M387.3 50.0h0M395.5 64.0h0M383.0 83.8h0M394.6 75.3h0M402.7 77.9h0M376.0 83.5h0M398.8 49.0h0M398.6 44.4h0M390.7 46.1h0M373.4 61.4h0M409.9 74.7h0M414.3 75.6h0M399.7 67.9h0M415.4 47.5h0M395.2 65.4h0M371.9 79.7h0M402.5 56.6h0M407.8 62.5h0M404.7 65.6h0M410.9 63.7h0M375.4 74.9h0M381.8 66.6h0M414.2 73.2h0M374.4 78.1h0M415.7 62.0h0M382.9 61.9h0M395.7 43.9h0M410.3 69.7h0M389.7 77.1h0M379.2 80.3h0M410.8 62.4h0M376.4 61.3h0M376.1 65.6h0M377.8 64.4h0M390.1 55.9h0M398.1 65.0h0M411.9 61.2h0M397.7 73.3h0M378.8 65.1h0M379.5 63.3h0M394.7 81.0h0M415.6 55.1h0M410.6 58.0h0M382.7 67.7h0M385.1 82.8h0M412.8 43.3h0M416.6 80.3h0M377.5 70.4h0M396.9 48.8h0M403.7 42.3h0M387.1 63.8h0M408.2 59.5h0M384.5 62.2h0M396.1 59.2h0M375.7 78.2h0M380.7 50.0h0M381.2 83.6h0M374.8 68.8h0M397.6 51.7h0M407.3 49.6h0M376.5 43.1h0M401.7 44.2h0M399.6 70.3h0M375.9 83.7h0M377.5 56.0h0M408.1 53.4h0M407.1 72.0h0M406.2 58.1h0M383.9 62.2h0M399.9 42.9h0M375.4 53.7h0M373.6 74.5h0M416.0 64.2h0M386.5 60.3h0M411.6 73.1h0M396.9 69.4h0M413.3 68.7h0M380.9 80.3h0M373.2 47.9h0M380.1 58.4h0M397.7 77.6h0M382.9 79.7h0M417.1 79.6h0M408.7 66.4h0M392.1 48.7h0M388.9 51.6h0M387.8 44.9h0M415.6 60.0h0M375.5 47.4h0M391.8 45.3h0M402.2 55.2h0M400.7 56.6h0M389.1 80.0h0M392.3 81.3h0M402.4 74.2h0M405.0 66.1h0M385.7 71.3h0M372.9 52.6h0M408.3 78.4h0M372.2 75.7h0M391.9 51.1h0M413.5 66.8h0M382.6 81.5h0M374.2 72.4h0M404.7 73.8h0M393.0 54.9h0M381.3 74.7h0M394.3 43.1h0M403.2 73.4h0M407.7 62.5h0M402.6 68.1h0M407.7 53.5h0M381.3 78.2h0M383.2 42.8h0M402.6 75.8h0M411.1 84.4h0M374.7 82.7h0M384.3 47.7h0M384.2 45.8h0M371.5 48.3h0M396.9 44.6h0M406.2 42.0h0M381.3 49.1h0M376.6 41.9h0M394.7 44.9h0M376.6 42.0h0M409.6 48.8h0M390.1 75.3h0M377.9 57.5h0M409.6 69.3h0M377.4 64.4h0M409.7 65.2h0M383.8 51.1h0M412.9 58.8h0M380.2 53.8h0M398.7 78.9h0M401.6 68.2h0M387.4 52.0h0M402.3 57.4h0M385.0 74.0h0M413.6 78.5h0M376.8 74.8h0M396.1 44.8h0M408.5 65.4h0M393.4 44.8h0M396.8 62.7h0M409.3 81.1h0M377.3 81.1h0M389.4 42.6h0M405.9 76.9h0M407.8 48.5h0M405.2 82.1h0" stroke="#a8a8a4" stroke-width="0.9" stroke-linecap="round" stroke-opacity="0.5" fill="none"/>
<path d="M401.7 74.9h0M394.1 84.8h0M415.2 83.6h0M404.9 65.6h0M391.4 73.3h0M392.3 45.6h0M399.6 69.1h0M387.0 75.3h0M372.1 54.4h0M397.8 55.9h0M412.4 82.5h0M416.8 53.6h0M413.5 47.4h0M379.3 43.3h0M398.2 70.0h0M372.2 83.9h0M402.0 48.6h0M385.1 56.0h0M403.4 48.2h0M412.8 69.4h0M392.9 58.0h0M410.7 76.3h0M382.5 46.2h0M401.3 70.5h0M405.6 46.3h0M388.5 79.2h0M413.8 80.8h0M402.4 69.3h0M383.1 47.2h0M406.7 56.7h0M388.1 71.4h0M399.3 69.8h0M384.2 45.6h0M398.1 64.2h0M403.6 45.4h0M411.9 60.0h0M400.9 63.0h0M415.4 70.1h0M391.3 67.0h0M389.2 51.8h0M398.5 70.1h0M373.9 55.4h0M406.8 56.8h0M412.8 66.3h0M378.5 62.7h0M406.0 50.9h0M413.1 63.0h0M409.3 48.1h0M387.2 52.2h0M393.8 53.7h0M392.6 69.6h0M397.2 64.2h0M383.7 48.4h0M400.5 79.9h0M396.1 63.8h0M386.4 43.1h0M384.6 50.6h0M403.6 84.6h0M384.8 55.3h0M379.5 63.8h0M384.0 78.8h0M400.5 54.0h0M409.3 63.0h0M382.3 81.0h0M396.6 65.7h0M374.7 54.3h0M413.6 55.0h0M401.3 82.3h0M401.4 76.1h0M374.4 76.5h0M390.7 54.6h0M409.9 43.1h0M396.3 70.5h0M412.0 62.5h0M376.0 63.4h0M395.8 76.3h0M393.3 67.9h0M387.1 42.5h0M381.6 50.4h0M411.2 60.2h0M385.6 67.3h0M387.8 63.8h0M405.5 48.0h0M389.1 68.6h0M400.1 65.7h0M402.5 56.9h0M381.1 57.9h0M393.6 53.4h0M395.9 50.2h0M407.6 43.8h0M403.3 58.1h0M404.7 53.1h0M380.4 58.9h0M405.7 68.1h0M389.6 80.8h0M416.0 54.0h0M393.1 50.8h0M394.1 57.0h0M375.2 54.3h0M374.8 70.1h0M394.9 43.0h0M403.6 67.9h0M396.1 42.2h0M371.4 81.4h0M397.2 78.0h0M396.7 55.4h0M372.1 51.3h0M401.4 52.1h0M409.4 78.9h0M402.6 56.6h0" stroke="#6a38b8" stroke-width="2.2" stroke-linecap="round" stroke-opacity="0.85" fill="none"/>
<path d="M381.1 58.8h0M379.6 67.5h0M403.8 46.5h0M413.6 46.4h0M376.2 77.6h0M400.1 53.7h0M393.3 75.5h0M412.0 60.2h0M398.7 42.1h0M413.7 61.8h0M373.3 83.7h0M371.7 52.2h0M381.7 44.7h0M402.4 52.2h0M400.5 61.8h0M384.7 52.6h0M374.5 50.3h0M382.8 57.5h0M382.9 63.8h0M410.8 81.8h0M384.7 66.9h0M375.6 80.3h0M403.9 62.9h0M394.8 58.3h0M416.6 73.7h0M395.5 57.6h0M386.5 77.4h0M416.0 76.8h0M385.1 60.7h0M395.9 66.2h0M371.8 58.0h0M415.2 68.8h0M393.2 47.4h0M377.1 44.7h0M392.4 71.7h0M414.1 51.3h0M397.7 68.9h0M380.0 78.9h0M396.3 70.3h0M394.7 84.0h0M390.0 51.6h0M406.8 82.3h0M377.4 76.9h0M399.1 83.7h0M375.8 76.3h0M390.1 78.4h0M371.5 83.2h0M377.8 68.9h0M376.1 70.8h0M382.0 60.7h0M382.8 62.1h0M405.3 54.1h0M386.9 77.2h0M414.8 82.8h0M399.5 76.8h0M405.6 65.2h0M391.7 84.7h0M392.0 82.4h0M392.8 83.4h0M374.4 83.7h0M384.0 80.2h0M394.2 73.2h0M406.2 75.9h0M399.1 80.1h0M402.4 45.5h0M380.4 42.3h0M398.8 78.7h0M390.6 54.2h0M387.4 43.3h0M378.7 77.6h0M393.9 63.3h0M390.1 64.3h0M388.4 45.3h0M414.7 79.7h0M393.8 51.6h0M406.5 66.4h0M386.3 43.1h0M396.6 57.1h0M375.9 66.2h0M389.8 52.7h0M389.9 73.5h0M374.3 65.0h0M386.8 43.2h0M395.4 46.0h0M395.4 63.9h0M416.9 43.0h0M382.8 67.2h0M389.9 56.6h0M406.8 47.9h0M416.8 52.2h0M397.3 46.0h0M417.0 60.9h0M387.5 80.6h0M389.9 69.7h0M376.5 70.3h0M371.5 60.0h0M395.2 49.5h0M414.7 79.0h0M390.6 45.8h0M406.4 65.4h0M395.5 79.8h0M394.8 63.1h0M414.7 48.0h0M378.8 44.8h0M380.0 72.1h0M378.4 55.3h0M387.9 64.5h0M401.6 62.6h0M399.5 77.4h0M406.8 47.1h0" stroke="#4c2496" stroke-width="1.7" stroke-linecap="round" stroke-opacity="0.9" fill="none"/>
<path d="M392.7 65.8h0M392.4 75.1h0M375.5 56.2h0M394.5 72.6h0M381.6 53.7h0M408.3 47.5h0M375.4 70.8h0M405.7 59.1h0M387.4 68.3h0M384.4 62.0h0M384.4 60.7h0M376.5 45.7h0M390.1 83.0h0M400.5 58.5h0M391.1 61.5h0M387.1 82.0h0M410.5 44.6h0M400.6 71.9h0M379.8 77.7h0M399.9 58.1h0M396.7 54.2h0M378.3 54.0h0M374.8 54.5h0M396.7 74.6h0M395.0 79.3h0M402.2 76.4h0M415.0 46.9h0M399.8 72.6h0M414.2 84.4h0M385.5 72.8h0M405.6 76.0h0M387.0 74.7h0M377.7 85.0h0M408.6 81.0h0M380.9 78.6h0M408.8 46.7h0M398.5 77.1h0M405.7 79.0h0M415.2 44.1h0M391.4 59.7h0M394.0 62.4h0M399.0 74.9h0M412.6 54.9h0M410.9 65.2h0M381.4 76.7h0M400.7 78.0h0M384.7 56.3h0M375.7 69.5h0M410.1 51.8h0M394.0 68.4h0M381.5 53.7h0M391.1 42.1h0M380.8 42.4h0M404.9 64.8h0M391.3 77.0h0M409.8 44.2h0M400.8 65.8h0M380.8 53.2h0M390.2 62.7h0M415.6 61.2h0M387.5 79.0h0M409.3 53.5h0M380.2 73.0h0M415.5 83.4h0M373.9 49.0h0M380.5 62.0h0M380.5 67.0h0M403.8 44.2h0M371.3 65.4h0M386.8 70.6h0" stroke="#8a66c8" stroke-width="1.2" stroke-linecap="round" stroke-opacity="0.75" fill="none"/>
<rect x="421.2" y="41.2" width="46.8" height="44.6" fill="#f3f2f4"/>
<path d="M465.5 79.6h0M455.1 51.7h0M436.9 72.7h0M458.5 42.6h0M429.5 80.6h0M427.3 70.2h0M436.9 69.8h0M461.0 67.0h0M439.7 55.8h0M450.1 69.0h0M440.5 62.0h0M446.2 53.1h0M430.1 66.5h0M426.5 67.7h0M458.3 77.7h0M433.4 59.8h0M463.8 57.0h0M466.9 50.5h0M460.1 43.7h0M452.2 76.7h0M446.8 69.2h0M463.4 84.9h0M430.0 64.5h0M423.7 58.3h0M428.5 48.8h0M450.3 45.5h0M428.9 42.3h0M458.8 52.4h0M425.2 68.7h0M454.5 69.1h0M446.8 65.0h0M454.6 55.3h0M460.2 71.9h0M460.9 80.4h0M460.0 64.3h0M445.6 73.6h0M448.2 43.1h0M463.5 50.5h0M443.9 61.4h0M426.1 66.9h0M448.7 77.0h0M449.7 55.1h0M447.5 83.3h0M450.8 78.4h0M422.4 71.7h0M431.5 48.9h0M436.9 49.6h0M425.8 51.0h0M432.4 52.7h0M458.2 45.5h0M431.0 44.3h0M444.9 51.8h0M446.0 52.2h0M430.8 63.0h0M425.2 80.1h0M447.4 59.0h0M446.9 82.8h0M444.3 58.9h0M431.7 58.3h0M457.0 68.4h0M434.4 80.7h0M428.0 57.3h0M457.1 81.4h0M442.7 42.4h0M447.4 60.3h0M423.2 57.0h0M461.9 43.5h0M430.0 49.1h0M458.1 55.2h0M453.0 71.1h0M422.4 60.8h0M427.3 76.4h0M444.1 57.8h0M458.8 77.4h0M425.0 46.0h0M436.6 55.4h0M441.9 60.4h0M466.0 70.9h0M465.5 68.6h0M432.5 66.4h0M429.2 67.1h0M428.4 82.1h0M435.7 80.5h0M431.9 50.9h0M433.1 77.5h0M459.5 74.1h0M448.0 48.2h0M432.7 43.3h0M464.1 47.4h0M454.4 41.9h0M434.8 68.0h0M430.2 44.9h0M462.6 54.3h0M422.2 72.3h0M466.8 65.5h0M423.5 59.9h0M449.6 52.5h0M440.8 73.9h0M451.8 77.8h0M465.0 64.3h0M466.4 47.0h0M445.4 71.1h0M464.1 62.2h0M441.7 80.4h0M443.3 44.4h0M442.4 53.6h0M451.7 77.2h0M424.0 55.6h0M462.7 76.9h0M457.5 58.7h0M465.2 78.5h0M459.1 65.4h0M451.0 47.6h0M423.5 42.5h0M424.4 63.9h0M464.8 66.8h0M457.7 74.5h0M464.8 53.8h0M444.5 81.8h0M436.9 72.1h0M440.6 48.5h0M431.1 57.4h0M423.2 80.0h0M438.0 52.3h0M458.2 42.1h0M456.5 61.3h0M426.0 59.1h0M466.7 43.6h0M434.8 49.6h0M448.8 50.5h0" stroke="#d0d0cc" stroke-width="2.8" stroke-linecap="round" stroke-opacity="0.45" fill="none"/>
<path d="M460.4 57.6h0M465.0 47.1h0M432.3 43.1h0M423.9 49.8h0M448.6 65.7h0M454.9 52.0h0M449.1 84.4h0M436.5 52.1h0M430.3 83.6h0M450.8 63.2h0M444.4 45.3h0M432.1 72.1h0M433.3 64.1h0M463.0 49.8h0M443.3 74.8h0M455.7 77.6h0M463.2 66.8h0M432.1 63.9h0M464.0 50.5h0M435.2 50.4h0M461.8 46.1h0M428.8 68.2h0M455.0 60.1h0M455.9 72.4h0M439.6 45.1h0M453.3 68.7h0M465.4 72.2h0M424.7 50.3h0M435.9 73.3h0M435.9 52.0h0M430.4 53.6h0M444.5 72.5h0M460.4 46.2h0M447.0 83.9h0M439.9 47.3h0M451.6 77.5h0M423.7 45.6h0M435.8 57.6h0M427.1 45.6h0M441.0 83.2h0M447.6 53.9h0M465.4 54.1h0M428.3 47.3h0M423.0 81.5h0M446.1 84.3h0M446.4 45.0h0M438.7 56.8h0M429.1 45.4h0M453.2 79.5h0M464.3 52.2h0M449.9 52.9h0M460.2 81.3h0M422.4 50.1h0M461.3 84.3h0M460.4 44.7h0M449.1 75.2h0M447.8 65.4h0M457.1 44.5h0M447.7 83.9h0M446.9 57.5h0M428.1 80.4h0M452.3 83.2h0M465.7 71.8h0M460.7 77.2h0M455.6 59.9h0M452.6 75.7h0M434.0 75.9h0M449.3 58.3h0M441.6 81.6h0M424.9 43.8h0M444.5 46.5h0M460.7 81.6h0M438.1 57.1h0M451.9 80.1h0M450.9 80.5h0M437.4 62.1h0M453.1 74.0h0M439.3 57.2h0M460.3 70.7h0M446.1 52.8h0M438.5 45.6h0M433.0 45.8h0M432.1 68.8h0M447.2 78.6h0M447.6 56.6h0M437.7 77.8h0M422.8 48.9h0M442.1 48.2h0M440.0 48.7h0M449.9 79.3h0M439.7 75.3h0M422.0 46.6h0M428.6 75.8h0M434.4 66.6h0M461.2 66.3h0M440.3 65.6h0M451.8 67.6h0M446.6 47.8h0M466.0 73.3h0M461.8 76.0h0M431.9 61.1h0M449.0 49.5h0M459.0 63.1h0M448.4 81.5h0M436.3 56.5h0M448.9 46.3h0M433.5 50.9h0M466.0 69.5h0M458.1 69.4h0M436.4 57.9h0M465.0 68.4h0M449.5 60.4h0M462.9 51.7h0M461.7 72.1h0M455.1 84.8h0M444.1 64.9h0M440.8 71.0h0M460.5 75.0h0M432.4 76.9h0M423.4 69.8h0M429.8 55.7h0M447.7 48.0h0M454.6 70.5h0M457.2 62.6h0M460.1 74.1h0M446.7 70.3h0M433.5 67.6h0M434.8 48.0h0M449.3 81.9h0M443.2 49.0h0M451.0 50.3h0M451.3 73.8h0M431.4 54.8h0M442.1 70.5h0M453.4 83.1h0M449.2 82.1h0M431.6 52.8h0M466.0 75.9h0M439.7 44.6h0M433.4 59.5h0M422.8 68.0h0M463.4 56.5h0M437.6 54.0h0M440.1 68.1h0M435.3 43.9h0M424.9 81.8h0M451.8 47.5h0M440.8 74.4h0M439.2 70.3h0M467.2 57.5h0M442.4 48.3h0M453.7 62.6h0M446.3 55.2h0M450.2 67.8h0M463.5 75.0h0M425.6 47.3h0M439.4 50.2h0M430.1 49.6h0M460.1 46.3h0M457.7 62.2h0M455.3 61.8h0M432.2 59.0h0M463.2 75.2h0M451.5 59.7h0M455.7 48.4h0M443.0 57.4h0M440.9 77.1h0M429.2 54.1h0M447.5 54.7h0M462.9 61.0h0M422.1 53.9h0M434.5 59.7h0M421.9 82.1h0M441.1 72.3h0M442.8 61.8h0M435.7 80.8h0M428.6 64.2h0M434.4 55.3h0M426.4 83.1h0M436.0 72.3h0M455.7 81.5h0M442.2 62.9h0M459.4 65.7h0M432.5 57.4h0M463.1 55.4h0M449.3 75.3h0M458.3 68.7h0M457.1 84.3h0M444.0 56.7h0M439.9 74.1h0M430.7 78.6h0M433.9 48.6h0M455.0 55.7h0M456.3 50.6h0M434.1 62.2h0M454.3 65.4h0M465.3 82.2h0M427.7 78.2h0M467.3 54.4h0M440.7 66.0h0M466.6 52.8h0M435.4 79.3h0M435.1 82.0h0M442.8 84.9h0M436.0 57.2h0M456.6 76.6h0M454.1 53.2h0M445.9 73.6h0" stroke="#a8a8a4" stroke-width="0.9" stroke-linecap="round" stroke-opacity="0.5" fill="none"/>
<path d="M452.3 72.6h0M459.7 60.8h0M446.4 44.6h0M435.3 57.1h0M460.2 55.7h0M450.9 74.6h0M465.9 67.2h0M425.9 82.7h0M437.6 52.1h0M437.5 64.7h0M462.4 67.7h0M436.6 56.6h0M443.9 73.8h0M455.3 62.7h0M428.9 49.4h0M466.3 51.2h0M455.9 59.7h0M428.3 84.1h0M438.1 44.1h0M424.1 65.2h0M466.7 64.3h0M462.4 43.5h0M436.6 52.8h0M426.2 63.1h0M450.9 74.4h0M458.4 59.1h0M424.2 57.4h0M434.4 51.0h0M424.3 46.8h0M466.7 77.0h0M422.3 47.9h0M464.6 54.6h0M462.2 64.2h0M424.0 43.9h0M436.3 61.5h0M448.7 57.2h0M430.3 84.5h0M458.1 57.3h0M426.4 74.5h0M458.2 79.1h0M454.2 84.6h0M425.0 65.3h0M432.8 85.1h0M432.4 59.8h0M429.9 54.0h0M453.5 83.7h0M424.5 79.7h0M465.6 77.3h0M451.8 58.3h0M443.4 81.5h0M448.3 65.9h0M450.3 71.1h0M437.9 46.9h0M446.9 61.6h0M456.6 56.6h0M442.8 81.9h0M448.6 74.5h0M449.5 52.5h0M440.6 63.8h0M438.3 46.0h0M442.2 49.9h0M430.3 54.4h0M443.0 69.3h0M458.4 55.3h0M462.8 71.2h0M434.2 60.9h0M461.6 48.1h0M444.7 67.4h0M424.9 70.3h0M428.0 82.3h0M427.6 52.7h0M445.7 70.3h0M450.7 69.6h0M428.6 52.9h0M425.5 49.2h0M459.1 76.7h0M460.6 79.8h0M453.6 63.7h0M457.9 70.7h0M449.6 64.0h0M445.7 77.6h0M444.6 44.3h0M433.0 65.5h0M449.1 46.5h0M457.7 41.9h0M445.0 69.0h0M440.8 82.3h0M422.8 60.3h0M422.3 42.2h0M426.8 58.4h0M450.3 67.1h0M432.4 78.7h0M444.3 74.9h0M457.0 64.9h0M459.9 77.7h0M441.4 81.1h0M427.6 60.2h0M427.0 79.3h0M426.5 67.9h0M447.9 77.1h0M423.6 65.4h0M454.2 51.0h0M457.8 60.9h0M447.3 84.6h0M440.8 57.3h0M444.6 81.0h0M433.1 83.4h0M424.8 52.8h0M437.5 61.2h0M429.6 83.9h0" stroke="#6a38b8" stroke-width="2.2" stroke-linecap="round" stroke-opacity="0.85" fill="none"/>
<path d="M432.1 55.4h0M465.9 84.3h0M439.9 65.8h0M456.3 45.3h0M445.8 77.3h0M458.6 56.9h0M445.3 80.9h0M458.9 51.9h0M467.2 58.3h0M454.0 60.9h0M424.5 79.1h0M444.4 68.5h0M447.7 55.2h0M432.4 52.0h0M446.4 68.6h0M454.8 54.1h0M465.9 59.6h0M424.7 80.2h0M443.3 63.5h0M450.9 65.5h0M422.6 42.8h0M446.0 49.9h0M424.5 43.7h0M448.3 43.8h0M457.2 82.6h0M450.8 51.6h0M445.8 65.3h0M457.3 79.2h0M433.2 83.3h0M452.5 69.2h0M459.3 43.2h0M466.5 83.7h0M454.5 43.0h0M459.7 63.4h0M429.1 84.2h0M451.2 53.4h0M441.4 79.8h0M454.2 56.0h0M449.3 67.4h0M456.5 65.1h0M466.2 59.3h0M435.0 47.8h0M449.3 65.0h0M449.1 55.4h0M460.3 78.5h0M445.2 77.1h0M430.6 47.8h0M422.8 70.9h0M461.0 45.4h0M426.9 59.9h0M443.3 84.4h0M425.7 70.8h0M424.3 74.9h0M453.2 59.6h0M446.5 73.4h0M454.7 72.1h0M455.6 82.2h0M454.4 48.7h0M462.1 65.9h0M425.6 84.6h0M461.9 67.9h0M422.9 54.8h0M454.6 70.8h0M466.8 46.7h0M446.0 84.6h0M447.5 49.2h0M465.1 66.1h0M422.7 70.6h0M439.5 64.7h0M445.0 46.7h0M442.4 67.9h0M448.6 66.8h0M427.0 64.0h0M456.7 74.9h0M431.8 58.7h0M445.8 63.2h0M441.2 52.2h0M432.6 79.8h0M458.0 48.4h0M441.7 63.2h0M466.8 78.5h0M455.5 79.1h0M448.9 61.4h0M435.0 55.8h0M452.3 59.9h0M434.4 81.4h0M447.7 71.4h0M437.4 76.0h0M445.4 75.3h0M462.2 68.8h0M421.9 70.4h0M462.6 56.6h0M444.8 78.4h0M431.7 83.2h0M437.8 77.4h0M427.9 66.1h0M426.0 81.2h0M447.2 67.0h0M441.2 80.7h0M433.2 68.2h0M463.2 42.6h0M428.3 61.6h0M422.1 76.0h0M456.9 82.7h0M464.2 57.4h0M440.1 61.1h0M463.3 45.4h0M429.1 52.1h0M440.0 64.7h0M458.3 61.3h0" stroke="#4c2496" stroke-width="1.7" stroke-linecap="round" stroke-opacity="0.9" fill="none"/>
<path d="M430.7 80.2h0M453.6 46.0h0M464.7 42.8h0M450.1 52.4h0M436.9 61.0h0M436.2 55.1h0M440.7 56.8h0M426.0 57.0h0M454.1 83.8h0M431.5 78.1h0M453.9 44.6h0M428.8 44.6h0M463.7 71.5h0M429.3 53.8h0M463.9 68.3h0M422.0 59.6h0M456.2 78.2h0M448.0 68.1h0M422.9 46.8h0M449.2 67.2h0M447.7 52.0h0M435.6 58.2h0M436.1 53.7h0M447.8 83.0h0M448.6 58.4h0M463.1 59.9h0M451.9 48.8h0M435.7 41.9h0M459.0 58.2h0M460.3 49.6h0M441.5 68.6h0M461.0 49.5h0M432.7 71.2h0M446.0 54.1h0M463.1 65.1h0M459.8 43.4h0M465.9 50.0h0M430.4 80.3h0M428.3 72.0h0M455.7 75.1h0M424.1 76.6h0M447.1 50.4h0M453.2 71.2h0M460.0 74.5h0M433.5 63.9h0M438.8 71.1h0M458.5 73.4h0M437.1 73.0h0M461.5 43.6h0M427.4 42.8h0M454.8 62.0h0M448.2 57.4h0M456.4 53.0h0M461.5 55.3h0M445.9 75.5h0M437.3 68.0h0M448.4 75.4h0M459.1 46.3h0M461.1 70.3h0M430.4 83.1h0M452.0 70.0h0M461.7 48.1h0M445.6 77.3h0M431.7 77.9h0M427.9 45.0h0M425.4 50.4h0M427.7 73.1h0M457.0 81.5h0M465.2 79.4h0M457.8 82.2h0" stroke="#8a66c8" stroke-width="1.2" stroke-linecap="round" stroke-opacity="0.75" fill="none"/>
<rect x="222.6" y="87.5" width="47.8" height="45.5" fill="#f3f3f1"/>
<path d="M266.6 105.3h0M261.4 99.1h0M245.7 100.3h0M248.4 91.5h0M242.6 102.1h0M225.2 124.2h0M265.6 94.8h0M252.6 111.5h0M243.0 114.2h0M254.0 100.4h0M240.1 110.6h0M269.4 129.2h0M259.4 108.4h0M265.5 131.4h0M264.3 96.8h0M242.4 98.2h0M244.2 125.9h0M246.3 102.7h0M230.9 94.4h0M261.5 130.2h0M264.5 88.4h0M235.7 94.4h0M244.8 97.1h0M245.9 108.1h0M252.6 110.9h0M246.6 90.2h0M267.0 107.0h0M263.7 102.5h0M227.5 131.9h0M246.2 95.7h0M268.0 129.1h0M228.4 130.1h0M229.4 93.9h0M230.2 126.8h0M251.4 112.7h0M255.7 101.2h0M226.1 91.7h0M234.3 114.0h0M226.7 90.2h0M232.6 88.7h0M225.9 94.2h0M228.9 102.9h0M262.7 117.7h0M223.6 91.3h0M238.9 108.5h0M244.4 112.0h0M256.8 116.2h0M234.8 100.2h0M269.4 111.3h0M265.8 129.1h0M260.9 115.8h0M257.6 101.0h0M232.9 105.4h0M232.0 96.2h0M228.5 96.0h0M224.1 94.2h0M257.4 90.4h0M256.1 119.4h0M231.1 109.2h0M251.3 129.7h0M251.6 94.2h0M225.9 95.9h0M229.7 124.2h0M262.6 92.9h0M259.1 128.0h0M233.6 110.4h0M234.1 106.9h0M258.8 97.1h0M246.6 115.9h0M263.6 130.6h0M265.2 105.9h0M239.4 128.3h0M263.3 123.8h0M251.6 130.3h0M229.4 96.4h0M258.6 100.3h0M252.6 113.8h0M251.9 99.9h0M268.0 113.0h0M223.5 102.2h0M247.4 126.4h0M251.6 130.0h0M238.5 90.6h0M244.2 128.5h0M248.4 125.7h0M262.0 127.8h0M246.5 89.3h0M249.8 92.5h0M240.8 98.5h0M240.0 109.2h0M255.1 130.4h0M262.7 124.4h0M230.6 113.7h0M241.0 107.5h0M227.3 108.3h0M267.9 126.9h0M261.7 92.5h0M262.4 106.0h0M239.2 110.1h0M238.2 99.5h0M265.2 114.1h0M244.6 111.6h0M226.6 92.3h0M224.8 103.9h0M264.0 89.9h0M236.9 126.9h0M232.5 110.6h0M265.1 121.8h0M241.5 101.5h0M236.0 102.7h0M269.0 113.8h0M243.7 129.5h0M241.5 98.5h0M247.2 93.2h0M266.9 88.3h0M240.7 89.6h0M233.3 126.6h0M230.4 122.4h0M253.9 90.4h0M267.9 90.4h0M261.8 130.3h0M242.0 104.9h0M240.9 118.7h0M252.5 95.3h0M229.5 95.1h0M227.1 92.4h0M246.2 94.0h0M254.8 101.9h0M267.3 91.1h0M252.1 108.2h0M257.8 89.4h0M231.9 129.5h0M245.0 104.0h0M227.3 114.0h0M268.2 115.6h0" stroke="#d0d0cc" stroke-width="2.8" stroke-linecap="round" stroke-opacity="0.45" fill="none"/>
<path d="M267.7 116.3h0M224.1 115.4h0M249.2 131.5h0M260.1 119.2h0M229.5 107.5h0M258.5 112.0h0M250.4 91.9h0M248.0 92.1h0M224.3 120.5h0M242.4 97.2h0M244.9 91.7h0M252.4 130.8h0M260.4 126.8h0M254.6 130.4h0M242.8 93.2h0M231.6 88.6h0M232.9 93.3h0M230.9 121.6h0M240.7 102.9h0M228.8 122.0h0M235.2 127.4h0M227.9 88.8h0M261.5 109.7h0M262.7 119.3h0M256.0 99.7h0M253.6 92.7h0M265.6 126.0h0M252.7 93.3h0M233.3 108.3h0M229.2 130.8h0M266.2 109.5h0M234.4 110.6h0M269.3 108.0h0M257.7 108.2h0M229.5 101.5h0M243.1 118.4h0M241.3 98.0h0M227.3 129.5h0M262.4 107.0h0M258.2 106.4h0M235.8 91.5h0M252.4 88.5h0M265.1 95.0h0M266.2 105.6h0M254.7 96.5h0M232.8 122.2h0M248.6 112.8h0M240.0 115.3h0M268.8 130.7h0M263.9 112.3h0M243.5 125.7h0M261.6 105.2h0M247.3 88.4h0M252.6 110.7h0M229.3 129.9h0M256.4 110.2h0M261.8 112.9h0M246.9 89.0h0M256.0 109.7h0M247.7 113.8h0M257.5 119.1h0M254.9 132.2h0M241.9 131.3h0M227.6 125.9h0M251.1 109.2h0M235.3 94.9h0M241.0 109.6h0M223.6 119.2h0M263.7 113.7h0M256.0 93.1h0M239.0 89.3h0M268.8 129.7h0M244.3 98.3h0M252.1 121.9h0M232.4 98.6h0M260.7 118.5h0M230.3 102.5h0M261.0 114.8h0M269.6 128.8h0M243.7 129.1h0M225.3 115.4h0M268.2 96.4h0M260.5 105.8h0M225.0 108.7h0M261.4 107.1h0M226.6 100.2h0M245.2 120.7h0M227.9 114.6h0M237.7 110.7h0M267.4 125.4h0M225.8 120.6h0M247.7 110.0h0M267.0 121.1h0M226.1 116.1h0M265.1 96.1h0M246.1 89.4h0M258.1 98.9h0M251.3 110.9h0M261.9 105.3h0M225.9 106.5h0M267.0 109.4h0M229.8 104.4h0M233.6 109.0h0M264.1 132.2h0M257.7 122.4h0M239.8 124.4h0M252.2 109.1h0M252.6 97.3h0M223.5 112.5h0M261.9 101.4h0M260.3 99.2h0M242.5 110.5h0M250.1 108.1h0M234.3 125.3h0M255.6 97.8h0M266.1 132.1h0M234.0 119.4h0M243.2 107.7h0M268.1 95.4h0M233.3 97.6h0M231.9 130.7h0M230.0 114.7h0M252.6 126.9h0M257.3 113.1h0M265.3 118.0h0M257.6 88.9h0M240.0 94.6h0M232.7 127.1h0M246.2 115.7h0M227.4 114.4h0M237.6 129.3h0M246.2 104.1h0M227.2 104.6h0M257.0 98.8h0M266.4 122.6h0M224.7 95.3h0M242.7 100.1h0M257.7 89.6h0M230.2 122.1h0M257.1 117.9h0M249.9 126.2h0M264.6 121.2h0M257.9 125.9h0M257.3 124.5h0M261.0 126.4h0M262.8 113.2h0M267.7 108.1h0M227.5 103.0h0M264.5 100.2h0M238.2 97.9h0M232.7 111.2h0M241.7 100.9h0M247.7 109.0h0M240.7 88.8h0M261.6 119.7h0M233.8 97.4h0M234.5 129.1h0M233.1 105.3h0M243.4 98.2h0M228.9 108.3h0M247.3 122.7h0M243.1 101.3h0M249.1 118.8h0M262.0 93.3h0M261.6 96.9h0M247.8 96.7h0M250.3 105.5h0M223.4 88.5h0M229.4 110.1h0M223.7 121.4h0M249.2 116.9h0M224.8 129.3h0M269.4 115.8h0M261.4 109.1h0M233.6 93.4h0M253.2 110.5h0M259.5 112.0h0M233.9 128.4h0M255.3 116.3h0M232.8 93.7h0M268.3 130.0h0M246.2 110.0h0M246.3 101.5h0M260.1 129.1h0M245.4 106.9h0M226.9 92.5h0M241.3 102.5h0M246.2 117.9h0M269.3 98.4h0M255.7 124.5h0M243.2 121.4h0M229.3 93.6h0M263.8 125.1h0M238.2 111.6h0M238.8 128.5h0M252.5 105.7h0M253.6 104.9h0M250.0 126.0h0M225.7 89.6h0M269.1 127.4h0M259.6 127.1h0M266.5 97.0h0M267.8 128.1h0M231.8 131.2h0M246.6 108.2h0M250.2 121.6h0M227.0 95.4h0M249.4 110.1h0M254.5 101.9h0M269.0 128.3h0M234.9 102.9h0M267.6 129.5h0M267.8 105.7h0M253.8 88.8h0M261.2 122.2h0M247.0 119.8h0M228.1 89.7h0" stroke="#a8a8a4" stroke-width="0.9" stroke-linecap="round" stroke-opacity="0.5" fill="none"/>
<path d="M258.8 115.3h0M234.4 126.4h0M250.2 99.9h0M255.4 127.4h0M246.6 119.8h0M239.2 95.2h0M262.6 126.3h0M256.6 116.8h0M244.0 131.6h0M232.6 126.8h0M257.4 107.5h0M226.5 111.1h0M223.7 130.5h0M232.3 121.0h0M251.3 95.7h0M234.0 95.8h0M263.9 98.0h0M226.5 121.9h0M237.1 96.0h0M252.5 128.5h0M252.2 129.1h0M237.4 127.0h0M249.7 119.2h0M249.2 126.1h0M228.5 126.4h0M250.7 125.1h0M257.9 97.9h0M243.2 115.6h0M255.6 119.3h0M247.2 119.1h0M224.1 102.8h0M223.5 112.9h0M237.5 113.9h0M237.8 92.0h0M250.3 95.1h0M251.2 116.3h0M230.7 122.2h0M262.0 91.2h0M244.3 98.8h0M237.2 88.8h0M268.2 89.7h0M254.7 123.3h0M227.1 103.9h0M232.9 91.8h0M254.5 124.4h0M234.7 111.6h0M260.2 109.1h0M241.1 132.3h0M242.2 96.5h0M244.0 128.4h0M237.4 91.4h0M264.4 102.0h0M227.9 123.5h0M251.1 93.5h0M263.2 127.2h0M246.4 130.2h0M255.8 119.5h0M256.8 107.7h0M245.3 102.1h0M242.0 124.8h0M236.1 111.4h0M238.7 96.5h0M225.9 111.2h0M255.1 89.0h0M253.4 122.4h0M254.6 119.4h0M269.7 126.0h0M260.9 106.2h0M262.3 111.4h0M259.5 101.5h0M249.1 123.4h0M238.0 96.9h0M252.5 107.1h0M259.6 126.7h0M256.2 123.3h0M237.5 88.8h0M256.2 113.2h0M257.0 115.0h0M234.9 125.9h0M224.0 97.0h0M249.6 89.9h0M248.7 115.6h0M238.3 94.9h0M250.2 105.7h0M245.8 88.5h0M245.3 119.6h0M248.6 128.4h0M267.9 98.8h0M263.1 89.3h0M267.5 109.8h0M240.8 129.2h0M243.7 116.1h0M269.3 98.2h0M237.0 120.2h0M260.7 118.4h0M259.1 108.8h0M248.4 105.9h0M232.1 102.7h0M232.1 124.9h0M241.3 126.7h0M243.3 121.8h0M225.8 93.9h0M269.2 121.2h0M268.0 127.4h0M231.8 91.1h0M237.1 97.1h0M262.6 100.1h0M251.6 128.5h0M231.0 90.9h0M225.7 107.9h0M242.6 116.6h0M237.8 120.0h0M266.8 131.1h0M262.6 130.7h0M228.4 125.4h0M229.0 126.7h0M233.7 129.1h0M254.3 113.2h0M229.2 121.5h0M251.4 112.1h0M244.0 95.9h0M237.7 125.6h0M229.3 123.0h0M248.9 129.3h0M233.3 120.9h0M256.6 110.2h0M233.8 89.5h0M262.4 109.2h0M235.6 108.9h0M264.3 113.7h0M235.7 101.2h0M263.7 118.4h0M254.3 122.6h0M238.5 118.9h0M243.7 120.5h0M242.2 91.7h0M252.3 109.0h0M239.0 89.2h0M251.8 105.7h0M241.7 131.8h0M241.7 116.0h0M253.6 118.1h0M262.2 91.7h0M227.6 126.3h0M225.6 120.7h0M255.2 118.1h0M240.2 101.0h0M250.4 120.4h0M264.4 97.4h0M233.6 100.5h0M243.7 99.7h0M233.4 118.9h0M255.8 117.3h0M257.9 124.7h0M237.3 115.6h0M264.1 108.0h0M244.0 102.5h0M266.8 104.9h0M237.5 98.4h0M260.7 113.6h0M230.5 124.8h0M228.5 99.3h0M232.3 113.9h0M251.3 122.8h0M238.7 110.5h0M247.4 100.5h0M223.7 88.5h0M256.7 112.3h0M251.3 129.6h0M255.5 126.8h0M258.2 96.1h0M237.6 115.3h0M235.5 97.3h0M268.1 116.4h0M223.9 99.5h0M265.6 93.4h0M229.4 128.9h0M232.9 109.2h0M230.3 100.9h0M224.1 123.5h0M269.2 100.9h0M239.3 110.3h0M226.2 119.0h0M255.2 92.6h0M238.6 131.2h0M238.1 123.7h0M231.1 112.8h0M231.1 127.4h0M256.9 129.7h0M235.5 112.2h0M252.3 111.2h0M246.1 106.9h0M262.3 113.7h0M255.8 104.3h0M223.7 107.4h0M244.9 90.2h0M236.1 124.2h0M250.2 99.9h0M231.7 95.7h0M268.5 106.2h0M234.1 100.4h0M258.3 101.2h0M268.5 88.4h0M258.7 90.8h0M257.7 108.0h0M261.0 106.9h0M264.3 98.0h0M238.3 123.9h0M257.5 93.1h0M238.4 110.2h0M258.5 122.8h0M262.3 131.4h0M226.2 114.0h0M233.2 127.6h0M240.8 126.3h0M227.4 120.3h0M240.5 114.5h0M249.0 114.6h0M224.8 94.5h0M246.4 128.2h0M268.4 123.3h0M244.8 103.8h0M253.0 122.6h0M257.6 104.7h0M260.6 132.3h0M260.0 94.4h0M241.9 122.0h0M229.2 109.5h0M243.2 97.9h0M235.4 130.2h0" stroke="#5a5aa8" stroke-width="1.0" stroke-linecap="round" stroke-opacity="0.8" fill="none"/>
<path d="M247.2 119.4h0M246.6 106.5h0M236.8 98.1h0M233.8 112.7h0M254.5 113.7h0M240.6 110.7h0M260.9 102.0h0M259.6 126.0h0M244.6 89.2h0M244.6 130.6h0M236.9 127.9h0M268.9 89.6h0M226.2 91.2h0M230.1 96.5h0M229.1 119.8h0M233.9 96.5h0M226.2 105.5h0M224.9 123.2h0M247.6 111.8h0M236.6 100.7h0M232.9 107.6h0M244.4 122.8h0M262.6 129.4h0M251.4 124.3h0M227.8 98.2h0M239.0 89.4h0M225.0 100.5h0M244.0 114.3h0M242.0 125.4h0M236.7 92.5h0M233.8 92.5h0M243.0 110.9h0M249.8 130.9h0M267.9 101.9h0M264.7 109.1h0M233.2 89.6h0M240.0 98.6h0M252.3 119.0h0M257.9 89.6h0M245.8 93.7h0M227.8 95.1h0M268.3 115.2h0M256.1 113.9h0M239.0 115.1h0M268.5 103.0h0M238.1 112.5h0M252.8 93.3h0M266.3 109.2h0M251.9 123.9h0M249.4 120.4h0M252.3 114.9h0M257.5 129.6h0M253.6 121.8h0M259.1 113.7h0M227.8 93.0h0M226.4 90.9h0M251.3 90.7h0M227.2 94.3h0M264.4 123.7h0M259.6 90.1h0M257.0 113.0h0M261.4 123.6h0M242.2 111.1h0M229.6 99.4h0M240.2 123.1h0M223.7 123.0h0M261.5 113.0h0M246.8 101.8h0M254.2 131.4h0M231.4 119.3h0M238.4 91.0h0M233.2 113.0h0M243.0 124.4h0M261.8 101.8h0M256.9 116.9h0M268.4 109.8h0M263.0 120.6h0M260.8 95.9h0M262.9 107.1h0M257.5 124.7h0M229.6 117.5h0M247.5 91.6h0M259.1 101.5h0M254.5 123.8h0M263.0 109.1h0M233.2 119.5h0M242.9 98.5h0M265.2 112.2h0M228.5 118.9h0M256.6 131.4h0M243.7 90.4h0M240.7 107.9h0M256.3 93.9h0M268.2 130.2h0M241.8 100.1h0M245.9 109.8h0M229.6 93.8h0M224.3 100.1h0M230.2 98.5h0M235.3 117.3h0M251.6 101.1h0M255.1 127.4h0M261.4 117.1h0M223.4 88.6h0M269.4 115.5h0M257.2 110.3h0M227.9 119.6h0M257.9 115.2h0M250.6 116.7h0M225.4 90.5h0M250.8 125.4h0M259.2 116.8h0M241.2 109.2h0M248.9 107.9h0M268.6 107.2h0M259.8 99.3h0M235.2 128.3h0M229.7 100.4h0M242.5 100.5h0M229.0 102.7h0M258.9 111.6h0M248.7 108.4h0M250.6 94.3h0M266.1 114.0h0M232.2 106.5h0M253.3 116.1h0M242.9 124.7h0M264.8 120.3h0M238.6 123.0h0M237.4 116.0h0M264.3 101.2h0M240.0 110.4h0M232.2 94.9h0M245.5 124.5h0M255.6 123.3h0M255.1 88.8h0M234.1 93.3h0M264.6 125.8h0M239.6 99.2h0M243.6 125.1h0M228.3 128.9h0M260.8 104.9h0M234.4 88.4h0M261.2 110.5h0M268.8 131.6h0M227.3 131.2h0M264.5 89.3h0M251.6 91.8h0M245.2 127.0h0M231.2 125.3h0M239.5 101.3h0M257.1 101.9h0M269.1 104.3h0M231.0 118.7h0M246.4 94.2h0M269.5 112.0h0M260.0 90.5h0M231.3 97.3h0M243.3 95.4h0M241.1 103.9h0" stroke="#8a88c8" stroke-width="0.8" stroke-linecap="round" stroke-opacity="0.7" fill="none"/>
<rect x="271.0" y="87.5" width="47.8" height="45.5" fill="#f6f4f7"/>
<path d="M310.1 97.6h0M315.4 110.0h0M290.1 115.4h0M279.6 96.7h0M291.3 98.3h0M302.8 106.6h0M289.5 100.4h0M281.9 119.8h0M313.6 103.6h0M309.0 102.0h0M307.0 98.7h0M298.1 106.2h0M312.1 121.8h0M276.7 92.6h0M293.0 97.7h0M282.7 130.1h0M315.3 89.0h0M272.7 115.8h0M315.7 127.4h0M303.9 120.8h0M294.1 109.8h0M311.5 92.9h0M303.4 119.9h0M278.9 122.2h0M279.5 130.9h0M307.1 108.3h0M298.8 131.1h0M288.7 97.2h0M303.7 128.0h0M278.9 121.9h0M289.7 118.5h0M293.8 130.1h0M298.4 130.8h0M316.4 93.9h0M315.2 121.6h0M278.4 113.7h0M284.3 90.3h0M274.4 104.2h0M312.3 91.4h0M298.9 126.7h0M288.5 119.9h0M299.2 121.8h0M294.0 131.5h0M290.2 97.6h0M277.3 99.5h0M277.2 129.7h0M277.9 125.3h0M307.4 108.9h0M274.1 97.1h0M315.1 106.5h0M308.0 93.7h0M273.9 104.1h0M288.0 97.3h0M301.4 113.7h0M297.7 102.1h0M290.8 100.0h0M297.3 105.3h0M301.9 130.7h0M286.7 114.3h0M276.1 124.8h0M296.4 114.4h0M297.7 93.3h0M312.4 88.7h0M280.7 109.5h0M314.5 119.0h0M313.6 103.2h0M297.3 114.7h0M282.6 92.3h0M287.5 92.0h0M272.0 96.0h0M311.6 115.3h0M306.5 113.5h0M294.1 127.4h0M287.7 99.7h0M285.1 91.5h0M272.5 100.2h0M301.1 96.8h0M293.8 101.0h0M306.6 98.7h0M292.6 121.2h0M305.1 127.7h0M272.4 108.8h0M280.6 127.5h0M283.3 123.7h0M295.7 122.1h0M308.7 126.2h0M312.9 106.0h0M303.0 128.7h0M308.7 107.7h0M310.2 122.7h0M292.3 107.7h0M292.0 129.5h0M282.4 130.3h0M278.0 99.4h0M305.9 119.4h0M285.9 101.4h0M298.0 121.6h0M289.5 108.9h0M291.7 124.8h0M313.6 115.9h0M283.4 106.9h0M291.1 115.8h0M286.3 115.0h0M296.0 112.1h0M316.6 106.5h0M283.4 88.5h0M272.1 118.5h0M313.1 117.5h0M281.4 89.6h0M292.6 91.2h0M275.2 116.1h0M278.8 109.5h0M311.0 109.7h0M289.5 110.6h0M314.3 96.2h0M304.7 98.6h0M300.2 89.8h0M274.0 97.3h0M304.7 98.6h0M305.4 101.8h0M311.2 127.7h0M306.4 97.3h0M274.6 108.3h0M284.1 89.2h0M305.5 124.7h0M311.1 128.3h0M298.4 110.7h0M317.7 105.0h0M307.1 100.9h0M315.4 115.4h0M318.0 125.7h0M300.4 110.7h0M279.4 97.0h0M275.2 115.1h0M281.6 89.0h0" stroke="#d0d0cc" stroke-width="2.8" stroke-linecap="round" stroke-opacity="0.45" fill="none"/>
<path d="M299.2 117.6h0M275.6 98.9h0M313.0 118.9h0M308.2 99.4h0M273.9 117.3h0M298.3 114.1h0M274.5 115.6h0M310.7 109.6h0M295.6 95.4h0M289.3 97.6h0M275.0 130.8h0M284.6 93.6h0M298.7 96.8h0M309.6 97.4h0M287.4 101.1h0M273.6 123.8h0M299.4 115.3h0M316.1 93.5h0M308.8 101.5h0M312.7 130.9h0M290.4 125.4h0M290.0 92.7h0M291.2 115.8h0M295.5 109.1h0M276.6 115.7h0M304.7 115.6h0M282.3 119.7h0M308.2 102.6h0M285.8 107.2h0M298.8 130.3h0M307.4 88.7h0M284.8 114.1h0M314.8 116.8h0M310.7 96.2h0M283.7 101.7h0M276.5 119.9h0M301.0 118.8h0M304.2 118.6h0M273.3 111.4h0M297.0 98.4h0M283.0 125.5h0M275.4 89.0h0M312.4 127.3h0M290.6 105.1h0M309.3 115.6h0M291.9 104.4h0M300.5 108.4h0M283.8 132.3h0M296.7 103.6h0M304.5 96.7h0M282.3 109.4h0M273.2 106.7h0M275.5 121.1h0M298.8 125.4h0M278.7 94.2h0M299.2 114.8h0M286.3 90.7h0M294.4 131.6h0M306.7 92.7h0M302.7 121.8h0M284.7 92.4h0M307.2 89.3h0M297.6 89.8h0M312.1 101.4h0M298.0 117.3h0M299.0 118.3h0M278.3 91.6h0M305.3 90.0h0M277.5 111.7h0M307.3 92.7h0M286.0 89.0h0M308.1 95.6h0M292.2 102.8h0M274.7 129.4h0M278.2 89.2h0M301.3 90.1h0M285.6 103.8h0M287.9 128.4h0M313.0 115.9h0M297.4 116.0h0M314.0 104.3h0M290.0 119.8h0M290.0 104.5h0M304.3 114.2h0M277.9 102.1h0M279.9 110.2h0M312.6 115.7h0M298.0 90.7h0M287.6 128.2h0M301.6 125.9h0M281.1 90.3h0M274.6 100.3h0M288.6 107.5h0M286.3 125.0h0M300.7 116.7h0M273.7 131.9h0M295.1 103.5h0M304.9 129.1h0M284.5 113.4h0M301.5 101.4h0M279.6 95.5h0M281.2 131.3h0M304.6 104.1h0M317.2 101.9h0M308.0 112.3h0M275.4 128.1h0M272.3 128.1h0M288.9 116.0h0M271.9 103.2h0M312.1 128.2h0M306.8 115.2h0M297.7 92.6h0M298.0 123.8h0M313.0 91.4h0M302.1 91.0h0M277.5 119.1h0M286.0 109.1h0M315.6 123.7h0M311.4 122.2h0M310.6 104.5h0M293.5 100.0h0M315.9 120.1h0M271.8 100.3h0M302.3 89.6h0M309.4 89.3h0M306.1 101.0h0M296.8 96.1h0M289.6 112.9h0M291.6 123.6h0M293.6 115.9h0M304.2 115.2h0M308.6 88.4h0M272.3 123.9h0M297.9 109.3h0M311.8 126.2h0M281.8 111.0h0M287.6 103.7h0M281.3 109.1h0M294.7 113.6h0M299.9 121.4h0M277.7 92.4h0M279.4 131.4h0M305.3 119.7h0M307.3 93.7h0M318.0 120.0h0M277.1 93.6h0M316.0 116.7h0M295.0 102.4h0M292.0 114.1h0M307.8 106.6h0M316.0 121.3h0M273.1 123.2h0M298.1 109.9h0M280.6 94.2h0M283.3 92.6h0M292.6 130.1h0M309.6 98.5h0M298.9 91.5h0M296.5 105.8h0M284.8 91.0h0M310.1 103.5h0M314.5 121.3h0M280.4 113.2h0M304.5 108.4h0M296.8 101.5h0M316.2 94.2h0M292.3 93.6h0M302.6 121.9h0M274.7 125.3h0M316.5 98.5h0M283.4 88.3h0M288.2 115.6h0M281.3 91.2h0M305.3 98.3h0M317.8 120.3h0M289.2 123.8h0M291.2 117.5h0M285.3 108.4h0M302.3 122.2h0M293.6 124.9h0M287.3 128.8h0M306.0 130.5h0M314.4 125.7h0M309.2 103.5h0M314.4 88.9h0M312.9 102.7h0M275.7 120.5h0M273.3 115.2h0M313.6 132.2h0M285.1 99.8h0M273.5 107.2h0M310.0 98.3h0M279.2 129.6h0M278.8 104.0h0M316.5 94.7h0M286.1 118.2h0M276.3 122.4h0M308.5 98.6h0M285.5 124.5h0M316.5 131.0h0M286.2 94.3h0M295.4 103.5h0M303.1 118.5h0M302.1 103.3h0M303.0 88.4h0M288.1 129.3h0M301.6 106.6h0M274.7 105.2h0M299.6 91.1h0M282.0 116.5h0M281.7 130.1h0M275.5 119.6h0M276.6 131.3h0M313.2 97.4h0M313.6 119.5h0M307.5 102.0h0M277.2 115.4h0" stroke="#a8a8a4" stroke-width="0.9" stroke-linecap="round" stroke-opacity="0.5" fill="none"/>
<path d="M295.2 94.0h0M304.1 126.0h0M294.2 124.3h0M276.3 123.3h0M293.8 97.8h0M311.5 103.6h0M300.4 129.9h0M280.3 104.6h0M297.9 132.2h0M296.4 117.6h0M298.3 126.4h0M296.1 103.8h0M284.6 104.7h0M293.3 92.4h0M311.3 115.4h0M316.5 115.6h0M292.9 96.8h0M314.7 89.3h0M305.8 124.5h0M303.8 113.6h0M274.5 90.2h0M282.5 96.8h0M294.0 96.9h0M273.2 97.2h0M291.9 99.9h0M280.5 113.8h0M280.7 131.6h0M314.2 119.7h0M279.0 127.7h0M272.8 113.4h0M294.9 121.7h0M298.0 124.9h0M277.2 99.1h0M296.4 100.1h0M275.5 124.7h0M280.2 100.7h0M317.6 114.4h0M305.7 94.6h0M280.9 111.0h0M291.6 90.6h0M305.9 120.9h0M291.7 132.1h0M305.4 101.4h0M280.1 98.2h0M296.9 95.8h0M315.6 106.1h0M274.5 128.6h0M278.9 105.0h0M291.3 103.2h0M292.9 94.2h0M292.9 127.9h0M312.4 117.5h0M304.6 92.4h0M294.8 129.1h0M305.2 114.0h0M303.3 97.7h0M297.4 130.7h0M307.7 99.3h0M285.5 90.8h0M304.5 107.3h0M307.2 129.6h0M278.7 97.2h0M307.8 97.4h0M312.4 129.6h0M281.3 101.7h0M286.2 103.6h0M299.6 89.2h0M306.4 113.2h0M292.8 120.6h0M298.4 111.4h0M293.9 93.7h0M317.9 124.8h0M302.9 104.7h0M316.7 111.7h0M307.2 106.4h0M316.2 100.7h0M316.2 96.8h0M314.1 94.1h0M301.4 120.6h0M293.7 131.8h0M311.4 104.0h0M287.1 118.5h0M317.3 132.0h0M273.7 95.2h0M301.3 105.2h0M311.8 101.7h0M300.8 116.5h0M287.2 99.3h0M295.8 94.7h0M314.6 131.6h0M278.2 98.6h0M285.3 111.2h0M301.2 90.8h0M279.7 110.7h0M296.5 113.6h0M311.6 117.8h0M272.8 102.7h0M281.6 125.0h0M279.8 108.0h0M309.4 131.5h0M294.9 107.4h0M291.3 107.0h0M294.8 97.3h0M300.4 117.7h0M308.4 97.9h0M278.4 102.4h0M310.9 103.3h0M277.5 121.9h0M282.6 130.0h0M280.1 96.0h0M305.4 122.9h0M288.7 125.5h0M300.0 91.1h0M284.3 124.3h0M277.2 129.2h0M284.2 116.4h0M286.9 130.8h0M316.4 117.2h0M310.0 115.8h0M297.5 123.5h0M277.4 117.5h0M317.2 106.9h0M289.2 97.4h0M283.7 103.5h0M287.2 112.3h0M280.4 128.2h0M272.4 107.7h0M306.3 97.9h0M300.8 112.6h0M298.8 122.4h0M300.7 126.3h0M310.1 88.8h0M305.9 100.8h0M316.7 98.6h0M277.8 119.5h0M298.9 106.2h0M276.5 100.4h0M295.6 129.2h0M281.9 110.6h0M289.2 98.7h0M310.7 102.1h0M298.6 111.8h0M309.5 122.3h0M295.3 103.6h0M299.4 119.2h0M309.8 131.4h0M292.8 106.1h0M295.9 96.0h0M280.1 119.2h0M274.9 121.1h0M287.0 127.6h0M272.4 109.4h0M290.5 92.7h0M299.8 120.3h0M298.5 107.6h0M275.5 123.4h0M312.5 99.0h0M272.1 111.6h0M297.8 117.3h0M300.2 128.6h0M305.7 117.3h0M277.4 126.5h0M287.7 100.0h0M308.4 111.9h0M315.0 96.6h0M315.5 95.5h0M309.3 123.0h0M313.9 128.1h0M308.5 126.1h0M294.1 102.7h0M285.6 100.7h0M291.9 102.8h0M288.2 94.7h0M296.6 129.0h0M295.1 111.7h0M311.5 115.4h0M308.7 107.4h0M301.6 122.1h0M273.0 121.9h0M275.8 121.5h0M278.9 102.7h0M272.5 113.2h0M277.4 88.9h0M309.0 90.9h0M306.7 131.1h0M281.1 91.4h0M301.4 99.5h0M315.6 95.9h0M313.5 127.0h0M285.2 116.0h0M300.1 127.4h0M293.5 108.1h0M314.0 126.5h0M314.5 109.5h0M297.6 108.4h0M315.0 118.3h0M286.0 112.4h0M314.8 104.5h0M305.0 91.1h0M313.1 118.0h0M309.4 118.3h0M287.0 122.3h0M280.7 113.8h0M274.1 114.1h0M276.6 107.7h0M278.6 119.0h0M307.7 96.1h0M276.0 91.4h0M288.2 130.7h0M272.2 113.4h0M292.4 131.3h0M305.6 127.7h0M293.7 117.7h0M286.3 91.3h0M305.2 92.8h0M296.1 100.7h0M313.5 126.0h0M315.8 113.0h0M273.5 104.6h0M287.7 89.7h0M285.3 94.3h0M298.5 97.5h0M276.1 119.5h0M300.4 122.8h0M275.0 115.6h0M283.6 128.6h0M287.6 130.1h0M294.3 104.7h0M303.3 113.1h0M287.5 121.6h0M278.6 95.5h0M304.4 109.7h0M303.6 103.3h0M298.6 127.2h0M287.4 116.7h0M280.9 89.7h0M293.7 95.9h0M275.0 113.8h0M293.8 114.7h0M295.6 121.9h0M299.0 118.5h0M294.9 125.8h0M285.2 90.8h0M314.4 112.9h0M298.4 97.0h0M302.9 93.9h0M288.9 121.7h0M273.6 91.2h0M318.0 95.2h0M304.1 104.8h0M303.9 122.6h0M272.0 111.6h0M277.7 90.6h0M287.4 93.1h0M289.7 114.8h0M300.0 123.4h0M275.5 97.2h0M303.5 108.8h0M296.7 91.3h0M279.7 121.4h0M301.7 122.4h0M301.2 109.9h0M298.7 104.7h0M311.9 113.5h0M311.9 128.3h0M305.1 116.8h0M306.8 130.6h0M300.0 110.7h0M291.7 131.0h0M298.6 111.3h0M309.7 97.3h0M305.5 106.5h0M292.1 89.1h0M272.4 110.4h0M302.7 111.8h0M312.7 96.0h0M284.8 116.7h0M276.0 99.1h0M281.1 92.1h0M308.4 93.5h0M304.5 103.2h0M301.3 112.7h0M304.1 105.9h0M311.5 115.6h0M293.7 105.4h0M284.0 90.9h0M285.0 118.5h0M279.9 108.8h0M281.7 128.7h0M304.4 125.6h0M281.8 113.2h0M308.1 116.3h0M312.1 100.2h0M281.9 100.1h0M304.5 108.1h0M312.0 106.7h0M317.5 96.5h0M297.7 89.6h0M285.1 103.6h0M311.2 118.5h0M302.3 92.4h0M317.0 107.4h0M311.9 92.7h0M272.5 127.1h0M274.3 106.1h0M313.3 121.0h0M282.3 116.3h0M294.9 93.2h0M298.7 100.5h0M304.3 102.6h0M316.8 97.4h0M286.9 112.8h0M297.9 114.5h0M316.5 124.0h0M304.8 104.3h0M316.7 117.0h0M282.0 119.6h0M282.0 124.1h0M312.3 101.6h0M317.5 131.8h0M289.6 127.8h0M313.4 90.1h0M300.5 90.7h0M286.2 93.9h0M302.2 127.1h0M274.1 91.1h0M312.0 125.1h0M317.6 125.2h0M288.6 95.0h0M308.1 112.1h0M312.8 125.9h0M286.4 127.5h0M304.8 94.9h0M300.4 125.6h0M304.8 92.4h0M313.5 112.5h0M307.8 98.1h0M283.7 128.8h0M312.9 125.2h0M304.9 120.9h0M273.0 108.2h0M305.8 89.2h0M304.3 127.6h0M302.7 93.8h0M281.4 110.7h0M317.0 108.4h0M302.4 119.0h0M304.6 91.5h0M294.4 123.4h0M286.1 95.4h0M291.5 113.0h0M317.5 130.3h0M277.0 110.9h0M291.3 100.3h0M281.6 132.0h0M305.5 99.1h0M295.0 101.3h0M279.2 108.3h0M312.6 95.3h0M312.5 111.3h0" stroke="#8c62d0" stroke-width="1.5" stroke-linecap="round" stroke-opacity="0.75" fill="none"/>
<path d="M290.8 115.5h0M276.8 109.8h0M293.9 122.9h0M312.5 96.7h0M315.2 113.4h0M286.9 95.0h0M292.2 113.0h0M287.9 128.7h0M273.1 92.7h0M278.7 130.1h0M308.4 91.1h0M290.4 118.9h0M312.0 88.3h0M276.7 104.6h0M301.7 95.9h0M314.8 102.8h0M304.0 108.1h0M310.5 91.9h0M311.4 91.5h0M315.4 98.4h0M316.8 120.2h0M281.1 97.5h0M290.2 94.7h0M317.4 96.6h0M307.9 88.3h0M284.6 98.8h0M304.1 114.6h0M288.5 123.8h0M310.4 105.6h0M310.2 89.8h0M280.2 121.7h0M283.0 130.7h0M302.0 101.4h0M297.0 95.8h0M297.5 107.3h0M290.0 101.8h0M306.7 94.6h0M285.5 102.1h0M300.8 115.3h0M305.4 123.4h0M315.8 94.0h0M289.4 120.2h0M276.8 113.5h0M286.8 95.5h0M310.7 88.2h0M298.2 114.5h0M305.5 93.9h0M309.4 124.4h0M311.4 101.1h0M272.9 105.0h0M317.6 116.8h0M283.8 89.0h0M285.0 112.1h0M308.5 103.3h0M276.4 108.8h0M302.9 94.8h0M302.8 132.2h0M276.6 128.3h0M296.7 117.0h0M273.8 104.8h0M284.5 132.2h0M301.6 92.7h0M313.0 130.6h0M310.6 92.7h0M286.6 113.0h0M276.9 109.7h0M304.7 110.7h0M315.7 127.5h0M305.9 127.0h0M296.9 89.8h0M275.0 115.4h0M306.3 110.9h0M276.7 119.1h0M290.9 97.1h0M278.0 120.6h0M312.0 115.6h0M311.8 103.3h0M314.8 106.4h0M311.6 91.5h0M316.9 92.0h0M286.1 123.3h0M308.9 129.1h0M302.8 89.7h0M310.5 118.1h0M312.1 92.1h0M287.2 103.7h0M272.7 119.9h0M278.7 119.6h0M283.4 107.7h0M301.6 125.9h0M295.4 116.3h0M285.9 101.3h0M289.4 132.2h0M307.7 90.2h0M296.4 113.4h0M318.0 112.1h0M302.8 109.3h0M312.3 122.8h0M284.1 130.3h0M287.8 95.3h0M275.0 93.1h0M283.0 113.2h0M275.0 118.1h0M272.6 110.4h0M312.7 90.1h0M293.1 108.5h0M282.1 112.8h0M276.1 122.6h0M284.4 119.4h0M272.8 103.6h0M290.6 131.4h0M285.3 96.9h0M311.7 116.5h0M283.8 95.7h0M280.7 127.5h0M299.3 127.3h0M292.2 103.0h0M283.7 117.3h0M292.6 88.9h0M277.2 125.3h0M308.3 105.7h0M290.6 123.9h0M298.7 92.3h0M303.9 110.4h0M280.6 124.2h0M301.5 100.2h0M291.9 89.1h0M299.2 103.2h0M297.5 129.4h0M312.9 94.2h0M272.9 90.3h0M304.2 125.0h0M285.1 128.7h0M304.3 95.7h0M290.9 95.7h0M295.7 123.1h0M277.3 95.9h0M272.8 113.0h0M297.8 96.3h0M289.1 99.5h0M301.7 131.4h0M275.0 117.6h0M307.8 96.4h0M277.7 106.9h0M303.8 107.3h0M277.7 106.8h0M298.9 90.8h0M280.3 89.1h0M272.4 128.7h0M279.4 98.9h0M278.8 110.5h0M274.1 93.8h0M302.6 119.3h0M299.7 119.7h0M275.0 94.5h0M282.8 118.2h0M288.0 96.5h0M306.7 91.2h0M296.3 119.7h0M297.8 100.5h0M310.6 103.0h0M307.5 124.6h0M298.0 111.6h0M300.7 90.3h0M313.0 100.6h0M274.7 123.8h0M290.7 126.8h0M313.7 131.5h0M289.3 88.5h0M284.0 100.4h0M302.0 102.4h0M310.9 127.5h0M306.8 116.0h0M284.0 128.7h0M314.9 110.6h0M313.4 116.8h0M290.7 106.1h0M280.6 99.4h0M300.8 108.5h0M278.0 120.0h0M305.7 109.1h0M297.8 103.3h0M277.0 125.0h0M293.4 105.9h0M312.7 111.4h0M298.4 132.3h0M316.2 125.5h0M272.7 101.2h0M276.3 115.8h0M295.7 129.2h0M309.0 103.1h0M289.9 109.9h0M294.5 97.2h0M310.5 126.0h0M276.5 117.5h0M295.4 113.7h0M283.9 127.8h0M280.8 110.7h0M292.0 124.2h0M302.3 105.3h0M293.6 110.8h0M301.2 94.3h0M294.8 128.7h0M288.1 106.2h0M316.7 109.2h0M318.0 93.6h0M297.9 92.7h0M292.3 106.3h0M314.9 112.8h0M309.6 115.7h0M277.4 109.2h0M316.6 101.9h0M306.3 128.9h0M275.8 122.1h0M298.2 93.6h0M286.4 127.2h0M307.1 105.8h0M315.7 128.2h0M286.0 104.8h0M273.8 96.5h0M315.0 114.1h0M301.8 107.0h0M277.7 94.9h0M300.1 95.2h0M300.1 111.3h0M298.9 124.5h0M284.5 119.7h0M281.8 95.4h0M314.1 94.0h0M301.9 98.3h0M284.0 119.8h0M295.9 90.1h0M274.7 105.9h0M290.5 105.3h0M281.1 113.7h0M280.6 104.4h0M290.7 101.9h0M310.0 95.5h0M302.2 116.4h0M310.5 131.2h0M275.9 125.5h0M299.3 92.7h0M309.7 119.1h0M315.5 110.2h0M310.2 116.7h0M294.5 128.2h0M311.5 107.3h0M283.1 114.3h0M307.3 115.9h0M287.8 112.4h0M271.9 110.2h0M275.0 117.6h0M301.3 106.5h0M306.6 130.2h0M290.9 120.1h0M282.7 127.7h0M316.0 97.6h0M315.4 93.9h0M316.1 108.7h0M284.4 128.5h0M296.1 88.6h0M306.4 122.5h0M312.0 115.2h0M298.0 109.2h0M296.2 101.5h0M274.5 103.1h0M279.4 104.4h0M280.7 98.3h0M272.0 107.3h0M306.8 89.8h0M294.5 94.9h0M284.5 97.3h0M286.1 115.2h0M305.7 114.2h0M278.2 117.8h0M299.7 118.6h0M307.4 124.5h0M285.3 123.0h0M302.4 115.3h0M302.3 90.9h0M306.3 93.4h0M284.3 112.8h0M304.9 92.2h0M288.2 130.4h0M288.6 111.7h0M314.1 129.2h0M295.7 94.9h0M279.3 89.2h0M282.9 123.4h0M312.1 122.2h0M310.6 113.1h0M273.0 130.4h0M316.0 115.5h0M288.7 91.6h0M280.4 89.4h0M314.2 113.4h0M305.6 91.2h0M297.0 118.7h0M299.8 94.1h0M295.9 99.6h0M309.9 111.4h0M298.9 126.8h0M294.1 102.9h0M276.3 131.6h0M317.5 91.4h0M293.3 99.2h0M276.3 113.2h0M295.0 106.0h0M285.7 106.6h0M286.9 103.4h0M278.4 101.1h0M283.0 131.6h0M300.4 105.3h0M316.9 129.3h0M303.2 114.7h0M288.5 96.1h0M292.9 120.1h0M301.8 110.4h0M300.8 120.0h0M275.0 125.5h0M295.7 127.2h0M280.1 112.1h0M273.3 111.7h0M284.8 90.3h0M314.4 89.2h0M286.2 122.1h0M273.9 101.3h0M308.5 127.9h0M315.3 101.2h0M277.9 104.8h0M316.4 122.3h0M281.1 118.3h0M310.3 91.8h0M274.4 130.5h0M305.3 114.7h0M279.0 121.5h0M298.2 99.3h0M300.8 98.1h0M284.4 121.0h0M284.1 130.6h0" stroke="#6a3cbc" stroke-width="1.2" stroke-linecap="round" stroke-opacity="0.85" fill="none"/>
<path d="M313.2 100.0h0M312.1 128.9h0M304.0 91.4h0M316.7 109.2h0M297.8 122.7h0M291.0 103.0h0M308.8 94.5h0M279.0 108.0h0M302.3 116.3h0M276.2 90.6h0M303.6 94.6h0M292.1 124.5h0M295.5 120.4h0M286.8 115.1h0M308.5 129.9h0M297.5 116.5h0M287.2 99.1h0M273.2 125.7h0M278.3 124.0h0M304.7 128.2h0M279.0 104.4h0M280.7 119.3h0M272.1 94.7h0M308.0 128.3h0M309.3 107.1h0M316.4 122.6h0M284.1 104.3h0M277.5 131.3h0M308.4 111.1h0M287.4 119.9h0M290.9 130.2h0M282.5 120.3h0M312.0 89.7h0M310.8 88.6h0M293.3 125.0h0M313.8 113.6h0M295.0 92.1h0M311.2 113.4h0M272.7 130.6h0M299.7 113.1h0M276.9 100.2h0M296.1 95.2h0M292.8 102.5h0M300.8 131.1h0M298.6 96.7h0M316.9 106.2h0M313.5 106.9h0M313.1 122.7h0M284.5 108.3h0M280.1 101.1h0M293.4 101.9h0M285.2 91.8h0M314.7 119.6h0M286.9 125.9h0M282.0 101.2h0M290.3 92.9h0M300.6 113.2h0M317.0 124.0h0M283.8 102.8h0M316.5 115.1h0M311.2 97.4h0M276.3 105.6h0M309.8 118.2h0M273.3 92.5h0M294.0 131.5h0M289.5 129.3h0M308.3 102.1h0M306.7 108.3h0M309.9 117.4h0M284.5 125.1h0M307.0 94.4h0M313.1 109.7h0M313.4 98.0h0M304.3 117.9h0M297.4 91.9h0M283.4 99.3h0M297.0 107.0h0M292.3 99.3h0M297.4 102.2h0M282.0 101.7h0M312.0 103.8h0M317.6 105.4h0M299.9 109.6h0M287.7 122.3h0M286.0 105.1h0M277.9 105.9h0M283.9 98.2h0M288.7 131.7h0M304.4 127.2h0M296.6 119.5h0M305.3 128.3h0M273.7 102.0h0M314.5 92.5h0M282.7 103.6h0M277.9 96.9h0M304.3 97.0h0M279.1 90.9h0M308.1 128.5h0M310.1 91.5h0M277.2 119.4h0M292.3 111.1h0M294.6 112.4h0M273.5 124.1h0M280.5 94.5h0M296.5 106.2h0M309.2 91.2h0M317.4 101.8h0M285.2 93.2h0M302.9 95.0h0M313.7 132.3h0M294.7 96.7h0M304.1 89.9h0M296.8 93.8h0M283.6 89.9h0M311.2 111.0h0M309.3 125.9h0M297.5 117.8h0M299.3 108.3h0M274.2 125.0h0M316.8 132.2h0M271.9 121.6h0M301.1 112.1h0M280.3 94.9h0M300.3 93.7h0M292.2 90.2h0M313.9 123.7h0M314.5 109.1h0M309.3 131.5h0M314.8 93.7h0M287.1 122.1h0M310.1 96.6h0M279.2 100.3h0M275.9 102.7h0M308.8 97.1h0M294.8 120.3h0M317.6 100.2h0M289.2 98.5h0M317.1 94.3h0M294.2 119.3h0M283.6 120.8h0M298.2 97.2h0M282.2 94.0h0M273.8 130.8h0M276.3 101.1h0M272.2 107.2h0M302.1 88.8h0M298.9 122.5h0M318.1 129.4h0M273.4 130.6h0M295.6 104.9h0M281.5 95.9h0M283.1 95.8h0M293.4 118.0h0M284.0 114.9h0M287.6 114.2h0M276.8 119.4h0M292.2 118.1h0M305.1 109.0h0M278.5 107.1h0M296.5 93.5h0M300.0 92.1h0M282.5 120.1h0M285.9 105.3h0M293.3 124.5h0M316.9 88.4h0M277.2 123.3h0M296.7 92.4h0M301.8 111.3h0M313.7 94.6h0M314.4 98.7h0" stroke="#48288e" stroke-width="1.0" stroke-linecap="round" stroke-opacity="0.9" fill="none"/>
<rect x="321.5" y="87.5" width="47.3" height="45.5" fill="#f6f4f7"/>
<path d="M344.3 117.6h0M350.7 119.0h0M363.6 121.4h0M329.7 97.9h0M343.1 105.4h0M366.4 120.3h0M343.7 103.7h0M332.6 114.8h0M364.6 95.6h0M343.0 103.4h0M350.2 99.4h0M325.2 118.0h0M336.3 116.7h0M363.8 113.9h0M364.1 123.6h0M325.1 99.0h0M352.6 109.3h0M322.4 124.4h0M352.0 107.4h0M346.1 95.7h0M347.4 94.5h0M352.7 129.7h0M332.1 99.9h0M348.6 126.8h0M330.0 105.5h0M350.0 95.5h0M325.4 121.2h0M350.8 113.8h0M347.2 92.7h0M344.3 109.7h0M345.8 95.4h0M325.3 111.0h0M354.1 117.6h0M365.2 104.6h0M340.2 102.8h0M345.4 117.7h0M361.9 92.3h0M348.6 122.0h0M356.6 107.2h0M325.5 102.4h0M349.6 122.5h0M332.2 102.5h0M339.1 90.5h0M366.8 103.7h0M342.5 130.9h0M358.1 100.3h0M365.4 124.6h0M348.1 107.7h0M361.2 128.8h0M353.0 102.3h0M362.2 117.3h0M364.9 124.2h0M354.0 127.7h0M342.5 114.9h0M356.5 107.6h0M328.1 124.7h0M346.8 108.3h0M346.7 101.0h0M360.9 100.8h0M333.5 115.9h0M344.6 102.0h0M326.0 107.7h0M341.2 112.4h0M351.8 100.3h0M325.2 90.9h0M347.5 129.5h0M356.2 129.2h0M329.2 97.3h0M355.0 106.2h0M341.5 124.9h0M325.9 129.7h0M330.8 114.1h0M352.3 112.9h0M354.6 101.7h0M332.8 117.3h0M365.6 91.0h0M327.0 131.8h0M324.6 93.9h0M345.3 102.4h0M354.5 108.7h0M358.8 93.1h0M332.3 96.7h0M359.0 132.3h0M339.5 98.0h0M325.5 96.3h0M367.3 130.2h0M364.6 96.1h0M325.7 132.0h0M355.4 127.1h0M363.3 126.6h0M322.8 126.6h0M348.3 131.5h0M331.2 105.5h0M327.9 121.9h0M349.2 126.4h0M347.8 123.0h0M339.0 90.9h0M325.4 91.4h0M323.5 120.6h0M355.7 131.8h0M358.2 97.0h0M330.3 104.3h0M337.9 94.0h0M357.6 120.2h0M341.5 113.4h0M349.8 113.1h0M350.1 116.0h0M367.4 101.5h0M326.0 94.2h0M349.8 109.6h0M364.9 112.2h0M363.9 125.2h0M338.4 98.6h0M352.9 106.4h0M329.4 90.3h0M360.3 131.3h0M355.7 93.7h0M322.8 115.4h0M340.5 129.3h0M343.0 118.8h0M323.7 90.1h0M356.9 115.7h0M362.8 104.6h0M347.6 109.1h0M357.6 114.9h0M361.0 94.9h0M352.0 104.6h0M358.4 106.3h0M329.5 88.7h0M345.3 93.9h0M357.0 127.1h0M337.1 121.2h0M353.1 112.4h0M326.1 131.1h0" stroke="#d0d0cc" stroke-width="2.8" stroke-linecap="round" stroke-opacity="0.45" fill="none"/>
<path d="M336.4 91.3h0M357.4 130.4h0M359.2 117.5h0M337.3 131.1h0M343.9 119.9h0M358.3 105.9h0M367.5 106.2h0M353.6 97.7h0M333.2 109.7h0M329.0 118.8h0M330.8 102.1h0M363.5 126.3h0M365.4 122.3h0M337.1 102.7h0M358.0 112.6h0M364.6 128.9h0M342.4 95.1h0M362.9 124.0h0M346.2 116.3h0M353.0 110.5h0M335.6 105.7h0M363.2 126.6h0M363.9 129.1h0M344.9 103.3h0M362.1 88.3h0M361.7 90.0h0M353.2 91.3h0M336.9 92.3h0M345.4 107.9h0M362.3 106.1h0M358.6 128.9h0M365.6 102.8h0M364.6 98.3h0M341.8 128.2h0M348.1 97.5h0M340.9 102.1h0M364.1 118.5h0M366.8 117.0h0M367.7 96.2h0M342.1 95.7h0M343.7 110.5h0M362.4 115.8h0M351.0 113.6h0M362.5 125.7h0M336.6 109.7h0M337.9 89.5h0M333.7 100.7h0M363.0 131.8h0M327.9 103.4h0M352.8 93.1h0M342.5 105.5h0M352.2 130.6h0M360.1 98.3h0M330.7 108.5h0M345.2 118.9h0M355.5 122.4h0M333.0 102.4h0M356.7 110.6h0M362.7 118.6h0M339.8 131.4h0M346.5 97.4h0M333.7 129.6h0M331.9 100.4h0M338.8 126.5h0M354.6 114.1h0M354.1 126.8h0M340.5 126.6h0M323.6 108.2h0M360.7 96.8h0M346.8 107.5h0M340.6 92.4h0M358.1 131.0h0M367.2 127.6h0M347.8 114.2h0M365.1 89.6h0M323.2 111.5h0M358.0 115.7h0M324.6 113.2h0M347.5 120.4h0M323.5 115.2h0M341.3 111.1h0M357.5 102.0h0M331.8 93.3h0M357.5 120.4h0M336.5 114.0h0M357.8 120.6h0M336.7 108.4h0M340.9 92.3h0M352.2 99.2h0M353.1 114.5h0M338.3 103.0h0M358.5 111.2h0M362.7 128.9h0M351.1 121.7h0M351.7 112.3h0M340.8 117.0h0M356.1 93.7h0M357.0 127.5h0M368.0 116.8h0M366.4 112.4h0M323.2 112.4h0M354.2 103.1h0M340.9 114.4h0M349.5 114.8h0M350.6 111.8h0M357.9 96.9h0M322.5 104.9h0M322.7 96.6h0M343.5 103.4h0M356.5 88.6h0M353.5 130.6h0M328.5 127.4h0M342.9 90.2h0M346.5 128.7h0M362.4 103.1h0M349.0 117.0h0M327.1 99.8h0M330.3 117.9h0M367.3 98.9h0M323.5 121.2h0M366.1 110.8h0M325.3 127.0h0M346.1 95.7h0M327.9 92.0h0M333.7 111.3h0M349.9 103.0h0M361.9 123.1h0M322.3 116.6h0M326.5 105.8h0M341.5 102.6h0M327.8 107.2h0M322.5 93.2h0M341.7 107.4h0M330.3 98.6h0M327.6 110.8h0M343.2 114.9h0M365.8 124.9h0M325.2 90.4h0M330.9 88.7h0M354.8 108.2h0M347.3 106.7h0M351.0 122.8h0M339.7 115.6h0M344.8 131.0h0M352.9 104.6h0M345.7 128.0h0M367.5 120.1h0M366.9 120.5h0M340.7 100.8h0M329.4 116.5h0M354.6 92.7h0M365.3 115.2h0M356.4 129.3h0M333.1 99.8h0M329.9 114.3h0M362.3 106.7h0M332.9 101.0h0M332.6 123.3h0M352.3 112.2h0M364.0 103.8h0M347.9 127.7h0M332.6 131.0h0M364.6 94.6h0M335.5 127.9h0M363.0 112.4h0M322.6 127.0h0M358.8 99.7h0M326.1 97.6h0M367.7 106.6h0M360.3 131.3h0M338.3 89.1h0M323.0 122.2h0M329.9 103.9h0M343.2 102.1h0M352.4 113.6h0M349.8 95.3h0M349.0 98.1h0M351.0 100.3h0M344.0 115.9h0M323.6 128.5h0M332.7 95.6h0M352.5 121.4h0M324.4 123.8h0M341.5 107.8h0M366.4 103.1h0M332.9 124.2h0M328.7 113.8h0M359.2 100.9h0M349.0 115.2h0M356.7 129.2h0M326.5 106.2h0M326.3 127.7h0M361.9 104.3h0M358.1 111.1h0M351.9 124.3h0M336.2 110.8h0M339.5 92.6h0M365.9 108.9h0M364.9 106.2h0M364.0 117.8h0M344.7 114.7h0M353.4 116.7h0M322.7 99.1h0M354.1 98.9h0M333.7 128.2h0M322.7 106.7h0M355.3 105.5h0M353.0 106.9h0M358.6 95.0h0M366.0 96.3h0M348.9 103.8h0M334.4 106.9h0M338.0 113.3h0M351.6 94.0h0M326.0 109.6h0" stroke="#a8a8a4" stroke-width="0.9" stroke-linecap="round" stroke-opacity="0.5" fill="none"/>
<path d="M360.6 97.8h0M343.2 97.1h0M364.0 105.2h0M363.8 100.7h0M331.9 130.3h0M341.0 105.9h0M340.9 130.0h0M340.4 100.3h0M342.7 117.2h0M347.2 102.2h0M322.9 122.5h0M352.2 118.9h0M353.7 89.3h0M350.2 122.9h0M341.7 131.6h0M365.4 92.3h0M357.8 121.6h0M327.6 118.1h0M337.6 89.2h0M349.4 119.2h0M323.4 95.0h0M368.0 129.8h0M345.2 110.4h0M344.7 125.6h0M359.1 116.6h0M366.9 98.8h0M329.4 117.4h0M332.3 114.8h0M361.2 102.6h0M351.3 89.4h0M341.5 126.6h0M330.6 119.7h0M328.5 114.3h0M353.3 118.7h0M329.9 89.3h0M330.9 122.8h0M366.4 91.3h0M324.8 105.1h0M335.4 114.2h0M323.8 106.4h0M341.5 116.6h0M355.2 121.3h0M334.7 106.3h0M344.4 125.8h0M356.8 94.3h0M336.9 104.9h0M354.3 114.3h0M343.6 114.3h0M362.6 122.6h0M341.5 122.0h0M333.7 110.4h0M327.3 99.3h0M330.1 116.7h0M348.8 101.3h0M326.5 109.8h0M322.5 94.5h0M331.7 106.5h0M350.5 126.1h0M325.8 96.4h0M337.2 128.4h0M342.0 102.9h0M339.0 109.2h0M341.1 99.5h0M342.6 101.1h0M336.2 104.3h0M326.4 116.6h0M361.4 127.8h0M328.3 116.1h0M322.9 115.1h0M355.6 127.8h0M322.2 130.3h0M336.3 91.2h0M324.6 103.5h0M368.0 117.8h0M346.1 129.6h0M352.6 118.6h0M327.1 124.4h0M366.9 122.3h0M351.8 89.2h0M333.2 131.9h0M343.4 96.3h0M339.0 106.1h0M363.6 116.3h0M362.6 123.9h0M354.0 92.6h0M349.8 115.3h0M358.4 120.9h0M336.9 105.6h0M359.8 104.2h0M330.0 91.3h0M338.2 130.4h0M361.3 111.8h0M344.7 128.0h0M327.7 96.5h0M344.2 113.7h0M324.0 124.6h0M325.9 127.8h0M332.7 112.7h0M346.5 107.5h0M329.8 102.6h0M344.6 128.3h0M353.2 127.2h0M328.0 111.3h0M335.1 106.5h0M367.6 117.9h0M350.2 121.2h0M324.9 93.3h0M358.7 115.2h0M329.6 105.8h0M344.3 126.6h0M325.4 130.7h0M323.0 97.3h0M333.2 126.0h0M355.1 90.2h0M341.5 95.3h0M336.4 102.1h0M324.9 114.2h0M329.1 93.0h0M326.6 92.5h0M331.3 125.5h0M330.0 128.1h0M355.2 110.1h0M352.1 106.2h0M325.1 102.2h0M353.8 88.3h0M326.9 108.7h0M325.3 92.6h0M367.6 91.2h0M341.4 113.9h0M351.8 92.6h0M365.7 128.0h0M361.3 99.6h0M353.6 90.7h0M346.4 126.6h0M330.5 116.6h0M332.9 117.4h0M353.0 111.2h0M351.3 112.8h0M351.5 88.5h0M351.6 131.1h0M354.9 125.3h0M354.2 94.7h0M359.5 117.6h0M338.0 109.6h0M364.7 97.0h0M334.8 110.0h0M356.1 97.6h0M344.9 90.8h0M330.0 100.1h0M333.7 98.2h0M339.8 105.6h0M365.8 97.1h0M358.3 116.6h0M339.7 88.6h0M350.6 118.1h0M362.4 97.2h0M339.4 122.1h0M340.2 119.2h0M335.5 88.4h0M352.9 106.3h0M346.8 113.3h0M346.8 128.4h0M352.9 88.2h0M342.4 93.5h0M347.7 88.4h0M364.1 125.9h0M351.0 104.1h0M324.3 107.8h0M322.3 90.6h0M361.3 103.1h0M362.9 101.6h0M335.1 124.6h0M327.4 104.1h0M323.8 109.4h0M362.1 106.7h0M364.4 130.1h0M355.3 107.3h0M351.8 131.4h0M325.9 88.6h0M343.5 125.9h0M340.2 116.1h0M358.9 109.8h0M330.1 111.9h0M350.0 102.7h0M338.7 129.6h0M328.1 95.2h0M346.0 94.2h0M342.4 128.1h0M347.4 112.4h0M346.2 101.9h0M331.9 115.8h0M356.8 113.3h0M326.9 124.3h0M331.9 111.1h0M346.0 95.6h0M361.5 115.9h0M342.1 129.1h0M357.8 90.4h0M353.7 114.6h0M355.6 130.8h0M345.9 127.2h0M368.1 96.6h0M323.3 113.3h0M329.9 88.6h0M335.6 102.1h0M354.4 102.1h0M355.8 89.6h0M338.0 96.7h0M362.7 127.7h0M324.3 121.9h0M351.1 101.1h0M326.8 101.7h0M366.0 109.8h0M355.3 121.3h0M343.7 111.0h0M355.8 122.4h0M334.1 104.3h0M346.3 127.8h0M333.2 111.6h0M353.0 130.9h0M329.5 100.6h0M351.9 128.4h0M361.5 89.5h0M325.3 113.4h0M322.5 91.7h0M361.5 89.8h0M358.4 115.0h0M351.7 116.7h0M347.6 92.5h0M325.3 91.9h0M353.2 110.4h0M330.4 116.8h0M352.5 122.8h0M330.2 98.6h0M356.2 106.4h0M341.2 101.9h0M358.8 123.6h0M353.8 112.3h0M330.7 106.9h0M325.9 90.7h0M353.6 119.7h0M331.0 93.9h0M347.1 115.5h0M330.3 118.1h0M347.4 130.8h0M363.8 119.4h0M339.4 92.3h0M350.6 98.4h0M329.3 93.8h0M347.3 127.1h0M344.0 126.1h0M326.2 88.5h0M354.7 97.4h0M365.0 118.3h0M367.5 95.8h0M342.2 126.0h0M365.6 109.9h0M341.3 108.7h0M329.9 112.4h0M363.4 91.1h0M355.9 111.9h0M346.4 91.5h0M362.4 104.6h0M343.7 127.6h0M328.8 96.5h0M332.1 105.0h0M330.7 119.7h0M353.5 128.6h0M354.4 125.2h0M335.7 126.9h0M337.9 130.9h0M359.0 92.4h0M337.4 115.3h0M346.9 103.7h0M339.6 131.8h0M352.6 126.7h0M358.4 100.0h0M324.7 112.4h0M367.1 128.8h0M358.7 97.9h0M323.3 102.2h0M347.6 101.9h0M332.3 91.5h0M326.9 99.7h0M334.2 95.7h0M340.0 92.2h0M366.8 107.3h0M357.3 100.4h0M355.1 89.2h0M328.7 94.7h0M363.1 120.2h0M341.8 105.9h0M339.4 119.6h0M337.3 128.5h0M339.1 93.8h0M344.5 127.3h0M351.1 103.7h0M323.7 115.2h0M366.3 95.4h0M323.6 107.1h0M359.8 121.3h0M346.0 124.3h0M334.2 100.1h0M327.8 96.0h0M355.3 119.7h0M328.0 119.8h0M337.6 89.7h0M354.1 109.2h0M348.4 107.1h0M333.4 122.1h0M331.0 119.8h0M357.9 97.6h0M328.9 99.4h0M355.4 110.1h0M352.6 128.9h0M364.3 100.2h0M331.3 99.0h0M327.3 132.1h0M356.9 125.3h0M349.2 125.2h0M355.4 89.3h0M363.0 97.0h0M361.0 120.9h0M355.8 110.5h0M357.8 125.6h0M358.2 126.4h0M330.6 109.6h0M360.7 131.0h0M335.5 123.0h0M341.4 130.4h0M347.0 126.4h0M365.5 116.9h0M338.0 102.0h0M351.3 121.0h0M346.0 131.1h0M335.4 122.9h0M339.0 119.8h0M325.1 121.7h0M349.2 128.1h0M335.5 88.4h0M351.6 100.5h0M367.8 129.8h0M334.7 98.9h0M341.8 104.6h0M347.1 118.3h0M361.0 95.7h0M341.9 99.0h0M366.4 125.3h0M333.3 115.8h0M336.6 100.3h0M356.0 118.3h0M329.5 88.5h0M333.6 115.5h0M327.7 130.8h0M324.7 130.3h0M324.3 110.2h0M331.1 115.8h0M358.8 92.0h0M326.5 91.8h0M338.0 126.8h0" stroke="#8c62d0" stroke-width="1.5" stroke-linecap="round" stroke-opacity="0.75" fill="none"/>
<path d="M340.2 116.1h0M333.9 96.4h0M346.3 129.7h0M342.4 95.1h0M345.5 97.3h0M327.5 98.3h0M353.7 114.2h0M332.7 107.2h0M322.5 130.0h0M353.0 98.1h0M326.6 131.6h0M357.2 129.4h0M351.6 103.9h0M341.4 100.4h0M338.7 130.6h0M340.8 102.6h0M347.6 98.1h0M324.5 118.5h0M361.8 109.1h0M342.6 89.8h0M343.0 89.7h0M357.1 126.3h0M337.0 118.4h0M331.5 96.5h0M363.0 113.2h0M323.4 132.1h0M367.3 95.3h0M354.1 90.9h0M336.0 108.9h0M352.9 95.3h0M331.0 92.9h0M348.3 112.2h0M362.8 95.1h0M331.6 126.1h0M342.4 115.6h0M328.1 119.2h0M355.0 106.9h0M329.2 126.9h0M325.9 129.3h0M347.2 124.6h0M328.8 96.6h0M324.5 105.0h0M338.1 119.8h0M364.0 91.1h0M358.5 101.8h0M342.8 119.4h0M358.2 122.5h0M326.7 101.0h0M360.9 100.0h0M352.2 104.9h0M327.8 122.6h0M362.5 115.7h0M353.6 126.6h0M348.6 117.1h0M346.5 118.0h0M338.8 113.7h0M343.6 129.8h0M347.5 124.8h0M360.9 107.0h0M326.0 130.8h0M351.1 94.0h0M332.1 124.9h0M358.4 97.5h0M328.8 89.0h0M333.8 127.2h0M337.1 108.1h0M334.1 125.1h0M340.0 124.4h0M345.9 102.6h0M331.0 90.4h0M333.7 109.1h0M333.6 89.9h0M359.7 111.7h0M334.8 130.8h0M333.1 92.2h0M323.8 92.8h0M357.3 109.0h0M357.0 114.3h0M326.1 98.1h0M340.3 107.7h0M336.6 121.2h0M326.2 114.1h0M349.3 126.9h0M350.6 122.5h0M365.0 89.0h0M336.4 122.2h0M331.8 112.7h0M341.2 92.1h0M333.8 97.1h0M328.8 129.9h0M367.6 111.0h0M331.3 118.2h0M344.6 113.1h0M336.9 99.1h0M364.1 93.9h0M339.1 120.3h0M340.4 117.9h0M346.3 120.1h0M329.7 124.2h0M338.9 104.3h0M364.7 121.3h0M368.1 101.0h0M356.9 111.0h0M356.9 116.0h0M352.5 119.8h0M365.8 117.6h0M338.3 102.7h0M331.6 129.8h0M335.7 91.9h0M325.4 111.0h0M343.4 106.0h0M344.6 127.3h0M336.5 130.8h0M363.4 126.9h0M363.7 119.9h0M340.5 113.0h0M348.9 115.0h0M335.0 127.6h0M323.1 111.6h0M325.7 114.5h0M333.3 114.6h0M361.3 104.6h0M325.2 89.0h0M364.2 125.9h0M336.0 106.9h0M348.2 126.2h0M348.0 118.8h0M345.2 117.9h0M328.4 111.7h0M335.7 107.3h0M332.6 110.5h0M359.5 129.3h0M328.2 99.8h0M349.9 110.8h0M342.9 108.3h0M341.8 125.5h0M336.0 99.7h0M339.9 112.8h0M360.8 107.8h0M323.9 129.1h0M352.8 95.2h0M336.0 117.3h0M343.5 124.2h0M332.4 111.8h0M327.3 94.3h0M361.2 127.7h0M329.6 129.8h0M338.8 98.9h0M338.4 102.0h0M333.1 90.8h0M347.7 101.7h0M340.0 132.2h0M327.4 97.8h0M342.5 128.1h0M331.1 123.5h0M365.0 100.6h0M324.0 124.0h0M338.0 125.5h0M350.0 102.7h0M356.2 101.5h0M334.7 126.8h0M342.5 123.0h0M337.8 96.4h0M338.8 111.8h0M327.2 127.1h0M358.0 90.6h0M327.8 103.6h0M341.8 116.2h0M329.6 93.0h0M329.4 122.2h0M351.0 99.2h0M324.2 114.2h0M359.2 109.0h0M367.4 106.9h0M356.2 123.2h0M327.4 107.6h0M332.5 101.0h0M329.5 94.1h0M353.7 118.0h0M342.1 112.9h0M331.9 104.2h0M329.4 101.0h0M325.8 124.4h0M365.2 120.7h0M328.1 110.1h0M340.8 123.8h0M348.1 92.2h0M364.4 120.0h0M336.7 104.2h0M326.4 128.6h0M337.8 108.7h0M323.9 108.0h0M339.7 111.6h0M337.3 115.4h0M332.1 100.8h0M342.4 117.7h0M332.4 125.4h0M339.4 98.5h0M323.7 130.2h0M334.7 121.5h0M344.0 93.6h0M337.7 108.7h0M322.3 131.9h0M353.9 103.5h0M343.6 102.8h0M354.3 120.6h0M360.4 97.8h0M358.5 97.7h0M351.3 130.1h0M368.0 98.6h0M343.1 103.0h0M336.0 117.8h0M335.2 100.0h0M364.9 118.0h0M348.6 126.0h0M357.6 114.0h0M330.3 94.2h0M366.7 98.0h0M342.1 125.9h0M365.1 116.5h0M325.3 115.0h0M333.3 101.9h0M346.6 128.2h0M335.1 108.4h0M324.9 93.8h0M331.7 100.2h0M346.5 127.0h0M322.9 120.9h0M350.1 107.5h0M354.2 88.8h0M349.5 96.7h0M353.0 122.7h0M326.2 118.3h0M328.8 123.7h0M343.3 120.2h0M331.6 106.5h0M328.0 115.6h0M330.1 130.7h0M356.4 101.0h0M334.5 120.8h0M337.1 120.6h0M366.3 97.0h0M330.1 93.3h0M344.2 103.3h0M356.9 123.1h0M361.5 106.1h0M330.7 97.3h0M345.6 99.3h0M335.5 99.2h0M344.0 128.3h0M354.5 122.0h0M329.6 88.7h0M367.6 127.9h0M352.5 129.7h0M326.8 126.9h0M342.2 130.0h0M359.2 112.9h0M349.1 116.2h0M334.1 129.3h0M333.6 92.7h0M349.7 127.2h0M340.2 131.8h0M337.0 127.0h0M359.7 117.7h0M340.2 123.4h0M329.8 120.7h0M358.5 117.4h0M326.4 116.9h0M356.0 102.3h0M352.4 105.9h0M335.5 121.4h0M354.6 130.4h0M365.7 129.5h0M333.4 119.9h0M334.4 101.3h0M331.7 130.6h0M361.0 93.5h0M327.8 112.4h0M322.6 114.0h0M361.5 103.8h0M349.9 129.0h0M328.4 130.8h0M344.8 111.3h0M338.1 129.0h0M326.8 107.9h0M337.6 91.7h0M327.6 97.1h0M367.2 97.2h0M343.3 112.9h0M324.0 116.4h0M333.5 96.8h0M335.0 88.9h0M325.9 108.6h0M331.6 127.4h0M354.2 93.6h0M342.9 120.0h0M345.1 120.1h0M332.3 119.9h0M366.7 97.5h0M324.5 130.9h0M327.1 115.7h0M358.1 125.0h0M341.1 97.0h0M330.0 111.6h0M352.5 107.0h0M324.1 96.2h0M357.7 110.9h0M327.1 105.0h0M355.3 123.0h0M364.6 98.0h0M322.3 117.9h0M329.9 94.9h0M328.5 106.2h0M359.6 88.6h0M328.9 123.8h0M354.6 129.1h0M336.4 95.0h0M347.0 120.8h0M340.2 131.7h0M347.0 128.0h0M337.7 102.5h0M323.1 132.0h0M329.8 95.2h0M331.6 105.2h0M340.7 89.0h0M340.3 91.7h0M331.3 124.4h0M339.7 120.2h0M332.1 121.5h0M365.2 113.8h0M323.6 93.2h0M323.1 98.1h0M347.1 107.9h0M357.7 125.4h0M351.2 119.2h0M340.4 116.1h0M343.4 131.1h0M354.6 92.7h0M328.5 106.3h0M365.5 123.3h0" stroke="#6a3cbc" stroke-width="1.2" stroke-linecap="round" stroke-opacity="0.85" fill="none"/>
<path d="M323.1 100.3h0M332.8 92.0h0M344.6 101.4h0M352.2 101.7h0M323.1 96.3h0M342.2 121.6h0M329.9 110.6h0M328.2 92.5h0M363.8 96.0h0M336.9 112.5h0M335.4 122.4h0M352.2 96.4h0M357.8 127.2h0M327.4 103.1h0M354.3 98.6h0M361.8 128.1h0M329.2 115.0h0M330.4 116.9h0M327.9 106.5h0M353.2 121.8h0M360.0 103.0h0M334.6 89.1h0M344.2 110.6h0M329.0 122.6h0M333.3 98.5h0M335.9 107.9h0M339.8 125.7h0M337.7 102.3h0M343.2 99.2h0M337.3 108.9h0M349.7 113.7h0M330.7 106.0h0M367.2 119.9h0M333.0 100.2h0M351.5 116.9h0M324.4 89.5h0M366.5 131.3h0M333.1 93.4h0M328.0 126.5h0M359.3 126.0h0M361.6 99.1h0M362.7 118.0h0M328.8 95.7h0M363.6 126.3h0M359.2 101.7h0M332.9 118.5h0M361.0 117.1h0M326.5 119.6h0M357.3 101.0h0M340.6 117.4h0M335.0 115.2h0M345.8 127.8h0M359.9 116.2h0M349.4 104.5h0M322.9 98.8h0M325.5 125.3h0M331.5 115.5h0M332.7 106.8h0M367.9 128.1h0M340.1 122.0h0M367.1 128.6h0M334.3 114.5h0M324.3 106.4h0M356.5 110.2h0M324.8 125.2h0M364.2 95.1h0M342.3 131.7h0M339.0 88.6h0M341.5 129.6h0M336.7 125.3h0M335.5 121.4h0M330.3 90.8h0M353.3 129.3h0M344.5 103.9h0M324.0 120.8h0M323.6 111.7h0M348.9 100.3h0M326.8 99.5h0M332.3 120.4h0M332.8 89.3h0M359.0 95.8h0M361.0 114.9h0M351.6 130.6h0M337.6 100.9h0M347.1 108.0h0M331.7 110.1h0M347.6 116.8h0M325.1 99.9h0M322.7 132.0h0M327.3 98.3h0M343.6 131.3h0M343.1 131.8h0M327.5 125.3h0M365.6 124.2h0M348.8 120.2h0M338.5 130.1h0M336.2 121.5h0M341.0 116.1h0M330.2 125.6h0M352.5 107.3h0M331.1 118.8h0M338.3 123.9h0M362.6 129.3h0M347.8 96.0h0M338.9 124.6h0M329.3 92.1h0M346.1 101.2h0M353.5 115.0h0M351.5 129.4h0M367.0 117.5h0M358.1 104.8h0M333.8 127.3h0M337.4 113.4h0M357.0 104.1h0M359.9 132.0h0M339.2 93.0h0M327.3 109.2h0M348.8 90.3h0M362.9 92.3h0M331.4 109.3h0M334.5 116.1h0M330.3 131.5h0M338.9 127.2h0M343.6 132.3h0M342.2 123.2h0M342.5 116.8h0M327.0 117.9h0M356.1 107.9h0M323.9 89.6h0M329.8 107.2h0M325.8 116.9h0M335.6 90.8h0M348.2 122.1h0M351.1 96.2h0M363.1 123.7h0M361.8 125.0h0M365.7 121.1h0M328.5 93.2h0M332.1 115.6h0M329.4 131.2h0M328.5 108.2h0M354.8 98.4h0M333.7 111.8h0M339.2 93.7h0M330.5 131.3h0M335.9 93.2h0M351.9 97.2h0M329.5 129.0h0M348.7 100.6h0M334.9 132.1h0M341.2 94.3h0M337.3 101.6h0M327.4 104.2h0M326.0 129.9h0M361.9 130.8h0M327.9 92.2h0M338.3 90.8h0M329.5 129.0h0M359.6 96.4h0M333.7 114.8h0M353.1 103.1h0M359.3 126.7h0M330.2 128.2h0M356.8 122.6h0M333.9 115.2h0M324.3 129.2h0M342.2 118.7h0M331.0 107.4h0M346.4 93.5h0M343.0 115.0h0" stroke="#48288e" stroke-width="1.0" stroke-linecap="round" stroke-opacity="0.9" fill="none"/>
<rect x="370.5" y="87.5" width="47.5" height="45.5" fill="#f6f4f7"/>
<path d="M372.6 126.5h0M404.5 89.0h0M396.6 98.7h0M411.8 125.8h0M385.1 114.6h0M394.0 100.6h0M391.2 105.6h0M392.7 130.2h0M404.9 89.9h0M387.4 130.9h0M406.3 114.9h0M401.0 118.4h0M378.8 106.1h0M384.0 96.7h0M403.0 89.8h0M379.4 119.5h0M412.4 101.6h0M410.5 124.9h0M378.3 128.5h0M378.9 109.0h0M375.1 92.4h0M401.8 125.2h0M376.4 102.6h0M399.4 114.4h0M377.6 118.8h0M376.1 129.4h0M401.9 117.4h0M413.8 98.6h0M380.5 115.8h0M412.4 129.3h0M407.8 114.8h0M387.8 122.9h0M400.5 126.9h0M406.0 109.8h0M401.0 97.2h0M384.3 121.9h0M403.7 89.4h0M380.7 106.7h0M397.5 103.7h0M388.5 129.9h0M389.0 107.8h0M414.5 102.6h0M395.5 95.6h0M410.4 124.5h0M382.1 115.7h0M382.3 125.1h0M394.0 100.8h0M416.0 109.5h0M397.2 130.8h0M384.6 108.2h0M413.0 103.9h0M410.7 115.5h0M415.1 113.9h0M412.1 109.7h0M381.5 103.5h0M393.8 115.3h0M392.3 104.2h0M383.5 110.6h0M403.0 116.3h0M372.8 99.5h0M402.4 109.7h0M384.6 114.1h0M373.2 110.6h0M414.4 103.8h0M378.4 118.5h0M399.1 102.8h0M382.6 88.3h0M375.7 123.3h0M390.3 125.8h0M415.8 120.7h0M387.6 93.2h0M413.1 95.7h0M377.7 106.7h0M383.7 100.5h0M379.2 90.5h0M372.5 129.1h0M375.7 107.0h0M400.8 113.3h0M411.4 130.6h0M399.1 107.2h0M400.6 103.9h0M379.3 109.5h0M394.6 98.9h0M392.1 104.6h0M374.8 130.6h0M395.7 113.2h0M375.1 101.8h0M373.3 126.9h0M400.9 110.3h0M403.3 107.5h0M395.1 132.1h0M376.3 117.9h0M390.2 96.7h0M379.0 113.7h0M375.0 124.1h0M390.5 101.6h0M391.2 106.3h0M391.7 101.6h0M389.9 99.7h0M405.9 114.1h0M387.6 103.0h0M386.9 131.0h0M402.0 129.5h0M412.3 120.1h0M399.5 102.7h0M399.1 93.2h0M393.0 119.1h0M394.5 110.2h0M401.4 114.0h0M397.1 113.1h0M389.2 112.4h0M371.2 115.1h0M381.5 117.5h0M374.4 112.2h0M385.0 109.0h0M410.1 120.3h0M409.7 113.4h0M411.7 131.7h0M411.5 97.9h0M376.9 102.7h0M396.7 98.2h0M417.0 111.0h0M415.8 93.9h0M371.9 110.8h0M408.7 100.8h0M415.8 93.4h0M414.2 132.1h0M404.6 117.3h0M401.7 99.8h0M371.7 117.8h0M405.1 104.3h0M388.1 92.0h0M374.3 122.2h0M389.7 120.0h0M412.0 89.5h0" stroke="#d0d0cc" stroke-width="2.8" stroke-linecap="round" stroke-opacity="0.45" fill="none"/>
<path d="M372.1 128.9h0M381.2 97.1h0M394.4 120.8h0M397.6 125.6h0M416.2 91.4h0M402.0 100.3h0M406.3 120.9h0M414.2 110.8h0M382.9 123.7h0M416.9 119.9h0M400.6 112.3h0M402.3 120.2h0M401.4 99.4h0M393.4 109.5h0M382.7 116.8h0M400.2 127.8h0M392.8 118.2h0M412.9 121.4h0M403.8 112.6h0M374.8 92.6h0M391.6 109.8h0M373.0 111.7h0M374.0 101.5h0M385.7 102.9h0M373.8 93.8h0M409.3 102.0h0M396.4 99.2h0M377.7 99.5h0M373.5 95.5h0M379.7 92.8h0M404.5 126.0h0M385.9 96.2h0M380.3 110.3h0M383.6 125.0h0M380.9 106.6h0M373.6 91.1h0M402.0 91.5h0M387.6 88.9h0M381.5 128.7h0M414.1 96.9h0M410.1 130.2h0M394.4 107.9h0M411.4 95.3h0M379.3 112.1h0M393.4 109.6h0M415.4 122.3h0M371.7 121.1h0M381.6 92.5h0M386.5 111.4h0M387.3 109.1h0M412.0 103.9h0M414.0 108.2h0M411.3 109.3h0M390.0 99.6h0M388.2 128.4h0M385.9 123.4h0M404.5 89.8h0M399.5 101.3h0M372.4 123.9h0M389.0 89.6h0M385.9 102.0h0M382.8 95.4h0M394.3 122.1h0M385.8 101.8h0M416.3 112.2h0M380.1 99.9h0M401.4 105.9h0M393.5 117.2h0M400.6 105.4h0M383.4 89.2h0M377.9 99.4h0M407.0 118.3h0M394.1 89.7h0M411.7 92.6h0M407.3 116.2h0M397.7 119.1h0M394.2 94.1h0M399.7 118.8h0M381.8 90.1h0M407.6 121.8h0M396.5 121.3h0M390.2 127.5h0M407.0 119.9h0M373.5 102.5h0M398.6 99.2h0M394.7 94.2h0M399.7 129.2h0M401.5 101.9h0M411.3 120.6h0M379.3 99.6h0M409.0 95.4h0M396.8 92.6h0M408.8 115.5h0M372.3 120.7h0M394.4 113.2h0M388.0 127.2h0M410.8 129.1h0M402.0 107.3h0M378.2 114.2h0M413.7 114.4h0M392.5 130.7h0M412.9 108.6h0M372.0 125.6h0M389.3 107.5h0M415.1 131.8h0M415.7 94.9h0M396.3 114.7h0M390.7 89.0h0M412.8 121.0h0M398.2 110.3h0M372.3 108.2h0M407.8 113.1h0M412.1 107.8h0M405.3 92.6h0M385.9 93.5h0M408.2 116.4h0M383.7 89.2h0M395.6 130.2h0M389.0 106.4h0M376.5 97.1h0M405.4 94.6h0M415.6 99.6h0M412.1 119.0h0M400.6 100.5h0M393.2 98.3h0M412.9 105.4h0M406.0 117.3h0M386.1 93.7h0M378.5 108.4h0M390.4 112.1h0M402.1 127.4h0M372.4 124.8h0M372.2 99.4h0M413.7 109.4h0M398.1 107.1h0M391.6 108.8h0M380.1 117.0h0M372.6 112.5h0M371.3 109.5h0M392.0 93.0h0M376.6 104.7h0M398.1 131.5h0M409.0 100.8h0M413.4 119.2h0M373.9 114.6h0M374.9 128.7h0M395.9 90.7h0M409.1 93.2h0M373.0 130.8h0M389.4 100.1h0M416.3 128.8h0M406.7 118.2h0M407.1 100.9h0M374.7 107.0h0M386.8 90.3h0M408.7 131.4h0M377.9 110.9h0M391.8 128.9h0M387.3 117.5h0M380.2 104.1h0M374.0 121.2h0M373.1 96.8h0M393.1 119.3h0M413.4 101.1h0M397.3 118.6h0M394.3 102.8h0M390.8 92.7h0M382.4 92.3h0M417.1 126.2h0M395.8 97.3h0M394.6 106.9h0M390.9 119.7h0M416.4 115.2h0M401.7 113.1h0M391.8 104.3h0M409.8 128.5h0M388.4 104.1h0M380.2 129.3h0M404.0 97.9h0M405.9 126.3h0M378.5 97.1h0M380.9 94.6h0M401.8 120.2h0M375.8 127.6h0M374.8 119.8h0M378.6 121.8h0M381.9 127.2h0M401.2 113.4h0M386.7 102.3h0M385.1 100.9h0M372.9 115.1h0M399.2 89.2h0M379.9 126.5h0M380.4 126.4h0M380.6 115.0h0M392.4 93.2h0M409.7 110.9h0M407.5 90.7h0M399.6 123.2h0M417.1 131.9h0M383.1 114.1h0M408.2 99.9h0M412.1 109.3h0M390.3 112.1h0M373.2 128.6h0M381.5 92.1h0M403.5 127.8h0M396.3 104.4h0M411.0 130.9h0M402.2 104.6h0M403.3 100.0h0M373.6 121.5h0M388.1 96.8h0M376.0 119.6h0M403.0 92.6h0M376.0 112.8h0" stroke="#a8a8a4" stroke-width="0.9" stroke-linecap="round" stroke-opacity="0.5" fill="none"/>
<path d="M391.8 106.2h0M376.5 115.0h0M384.6 89.8h0M400.7 111.6h0M395.1 95.3h0M399.4 107.5h0M407.6 102.9h0M399.0 127.0h0M403.5 117.7h0M374.7 127.8h0M395.1 95.4h0M410.7 128.4h0M402.2 124.8h0M382.6 109.2h0M410.9 105.1h0M413.7 90.2h0M373.6 130.0h0M408.9 117.3h0M403.7 92.0h0M371.9 101.7h0M388.6 115.9h0M390.6 110.1h0M393.4 90.8h0M413.4 129.4h0M411.5 103.6h0M384.5 104.4h0M395.7 111.0h0M406.2 115.5h0M373.9 89.1h0M407.1 124.9h0M412.3 109.9h0M384.3 120.5h0M397.0 90.4h0M399.5 100.0h0M383.7 95.0h0M381.2 96.2h0M402.1 125.9h0M392.9 104.1h0M374.3 116.5h0M394.0 115.3h0M388.2 122.4h0M412.1 112.9h0M379.7 116.8h0M416.1 98.1h0M417.2 106.7h0M407.2 119.5h0M375.3 101.9h0M408.8 93.6h0M388.6 98.0h0M384.2 116.8h0M382.6 110.5h0M399.3 90.7h0M372.1 119.8h0M384.5 96.3h0M408.1 108.4h0M407.4 94.9h0M402.6 100.8h0M385.1 99.1h0M414.7 105.7h0M393.9 98.2h0M383.1 108.4h0M376.5 129.5h0M379.1 91.1h0M392.3 131.0h0M390.9 104.8h0M378.5 96.3h0M416.3 124.1h0M416.9 89.6h0M385.1 100.7h0M400.7 110.9h0M372.8 102.3h0M406.7 120.8h0M409.6 104.7h0M393.8 116.0h0M412.3 130.3h0M392.6 128.6h0M394.0 120.6h0M410.5 90.2h0M396.6 111.5h0M376.3 127.2h0M407.8 93.4h0M378.8 118.3h0M394.1 112.0h0M388.4 113.8h0M380.2 116.3h0M396.6 103.3h0M411.6 94.2h0M379.9 95.2h0M376.3 88.8h0M402.1 90.7h0M401.9 93.9h0M398.5 94.9h0M404.3 123.9h0M375.2 101.3h0M373.0 91.1h0M374.6 130.0h0M373.1 117.3h0M397.0 115.9h0M386.2 104.1h0M371.8 95.8h0M392.2 95.1h0M392.2 119.9h0M396.4 120.5h0M405.5 101.6h0M399.4 115.7h0M383.6 101.5h0M415.4 122.2h0M415.4 101.1h0M382.6 121.1h0M407.9 113.9h0M403.8 101.8h0M401.0 119.5h0M416.9 94.0h0M399.3 102.9h0M404.9 121.7h0M394.7 105.1h0M401.2 111.2h0M378.0 119.2h0M388.1 89.7h0M389.1 100.8h0M379.8 123.7h0M409.5 112.0h0M372.9 119.6h0M406.0 99.4h0M384.3 97.7h0M376.1 111.4h0M401.5 127.2h0M387.9 105.4h0M383.5 125.4h0M402.3 107.2h0M377.5 94.7h0M387.6 101.4h0M416.9 108.9h0M377.5 126.7h0M406.7 110.0h0M391.0 106.3h0M417.1 110.7h0M409.1 127.0h0M410.9 105.3h0M410.2 125.8h0M416.6 122.0h0M384.7 119.3h0M388.1 91.1h0M393.5 106.5h0M398.2 98.4h0M377.2 103.2h0M402.3 121.6h0M416.1 96.0h0M414.4 104.3h0M409.4 98.6h0M372.6 112.7h0M380.0 108.9h0M406.4 93.5h0M382.1 96.2h0M412.1 113.0h0M385.7 98.4h0M414.0 103.5h0M385.3 131.1h0M383.4 116.8h0M387.5 102.5h0M388.1 92.3h0M396.8 121.4h0M384.1 117.9h0M387.3 127.9h0M395.6 115.8h0M400.5 119.5h0M413.4 131.7h0M397.5 115.6h0M394.9 90.8h0M400.8 131.2h0M403.9 97.5h0M413.6 120.6h0M403.2 94.3h0M411.5 132.0h0M402.7 109.4h0M405.5 108.9h0M401.1 126.4h0M414.9 99.5h0M405.2 107.7h0M411.1 130.7h0M401.9 116.9h0M404.8 127.2h0M385.6 103.5h0M396.9 103.0h0M391.6 94.9h0M390.3 89.8h0M408.3 118.8h0M412.5 104.1h0M384.3 112.2h0M385.7 107.4h0M380.3 112.8h0M405.6 90.0h0M398.1 100.7h0M386.4 113.6h0M374.2 91.2h0M401.7 91.8h0M396.6 104.8h0M388.3 117.1h0M389.7 110.1h0M410.4 111.0h0M374.9 112.5h0M373.3 92.9h0M406.1 109.1h0M389.2 127.7h0M388.8 93.4h0M375.0 95.0h0M410.4 121.4h0M412.1 132.0h0M388.8 102.2h0M372.8 116.7h0M377.0 94.2h0M386.6 102.4h0M398.4 93.1h0M379.3 92.2h0M372.6 105.0h0M409.4 100.4h0M388.9 124.7h0M377.1 129.2h0M403.5 127.1h0M373.4 103.8h0M372.3 109.5h0M393.4 91.3h0M386.7 89.3h0M410.4 95.3h0M389.3 116.9h0M373.1 116.6h0M384.1 94.9h0M396.2 116.5h0M390.3 106.1h0M373.9 95.0h0M383.1 115.8h0M377.4 128.5h0M416.4 91.8h0M412.6 111.4h0M395.6 93.3h0M403.6 96.9h0M378.5 100.9h0M387.1 102.7h0M415.5 104.4h0M417.2 125.7h0M406.3 94.4h0M414.1 119.5h0M404.0 114.7h0M393.4 106.5h0M396.3 95.3h0M405.6 121.9h0M403.8 128.0h0M394.8 115.9h0M405.1 105.9h0M385.4 100.9h0M372.4 127.5h0M416.5 90.3h0M398.9 106.2h0M410.5 99.5h0M388.4 129.6h0M396.8 94.5h0M398.9 109.6h0M403.9 103.6h0M374.3 123.5h0M403.3 120.3h0M399.6 102.8h0M372.2 120.5h0M411.3 101.2h0M378.7 100.7h0M376.8 99.2h0M403.7 123.8h0M377.6 95.1h0M416.6 118.7h0M409.4 104.5h0M414.2 102.0h0M380.0 121.6h0M416.9 117.7h0M397.7 107.2h0M378.2 120.8h0M382.5 98.4h0M386.1 128.4h0M374.2 116.4h0M394.5 90.9h0M396.1 94.0h0M409.9 120.2h0M399.0 106.8h0M409.0 94.3h0M407.3 124.1h0M378.4 88.9h0M378.9 131.0h0M403.4 104.4h0M378.0 90.8h0M377.2 113.8h0M416.9 114.8h0M373.6 91.9h0M415.5 124.1h0M415.7 96.0h0M403.8 111.5h0M417.1 126.8h0M376.2 100.9h0M382.3 129.8h0M394.4 90.5h0M400.9 96.3h0M409.1 90.2h0M377.5 90.5h0M386.2 97.5h0M411.1 114.5h0M417.3 129.3h0M393.3 107.9h0M389.8 127.9h0M414.4 109.8h0M379.3 105.7h0M380.2 94.9h0M399.9 109.3h0M410.8 120.0h0M386.6 92.0h0M405.3 116.8h0M416.0 130.2h0M372.4 104.9h0M392.5 88.3h0M404.2 120.8h0M398.5 131.9h0M404.4 128.3h0M411.7 111.8h0M384.6 125.5h0M408.1 96.9h0M395.6 124.4h0M404.8 101.4h0M413.5 91.3h0M400.8 105.0h0M402.8 108.6h0M407.3 125.2h0M412.0 123.2h0M403.6 88.6h0M406.6 117.7h0M387.2 109.4h0M396.0 107.3h0M392.9 101.6h0M389.6 108.0h0M377.1 104.4h0M407.7 93.0h0M391.2 112.2h0M385.0 94.1h0M411.1 104.8h0M416.0 90.2h0M391.3 91.9h0M402.6 103.0h0M400.2 126.4h0M400.5 90.5h0M414.6 106.6h0M407.0 129.0h0M385.5 109.8h0M396.4 97.5h0M376.7 131.6h0M373.9 113.0h0M394.9 109.4h0M416.8 107.6h0M377.4 100.0h0M378.6 120.9h0M379.9 125.7h0M395.9 106.3h0M379.6 107.9h0M411.8 112.2h0M393.6 125.3h0M410.8 89.3h0" stroke="#8c62d0" stroke-width="1.5" stroke-linecap="round" stroke-opacity="0.75" fill="none"/>
<path d="M397.7 101.1h0M398.1 94.3h0M414.8 122.4h0M413.7 117.5h0M409.3 107.9h0M382.4 105.1h0M388.1 111.5h0M379.5 129.7h0M384.9 92.9h0M398.5 102.7h0M392.7 128.6h0M412.2 100.8h0M389.4 97.3h0M412.9 88.2h0M390.2 130.5h0M408.7 131.3h0M407.4 105.4h0M415.0 131.8h0M382.5 103.8h0M412.8 119.3h0M377.5 123.5h0M399.1 118.2h0M417.1 113.0h0M373.7 117.1h0M381.3 107.1h0M384.2 106.9h0M394.1 97.0h0M382.6 118.9h0M378.6 115.1h0M400.0 94.5h0M390.3 99.1h0M383.6 115.8h0M416.6 103.2h0M391.9 118.6h0M408.0 88.3h0M395.5 94.7h0M380.1 101.6h0M413.4 129.1h0M385.2 128.7h0M385.7 92.4h0M391.5 110.1h0M399.7 121.0h0M373.1 94.3h0M387.9 92.2h0M395.6 115.3h0M409.4 131.9h0M385.6 96.0h0M391.1 118.1h0M384.6 93.4h0M396.9 111.3h0M382.3 104.0h0M374.6 109.6h0M408.6 108.6h0M402.0 99.3h0M403.1 93.3h0M382.4 89.8h0M412.9 121.7h0M372.0 128.2h0M398.2 108.7h0M396.6 104.9h0M409.7 115.1h0M391.7 116.9h0M404.0 124.4h0M406.7 118.6h0M394.9 101.1h0M405.9 91.5h0M398.4 109.6h0M407.1 117.6h0M384.8 121.8h0M379.9 119.5h0M395.8 107.1h0M392.4 111.9h0M388.4 105.5h0M400.4 97.3h0M390.3 88.3h0M402.0 107.8h0M383.5 117.7h0M396.6 98.3h0M405.2 124.1h0M411.1 112.2h0M388.6 118.8h0M416.7 91.6h0M372.9 92.8h0M376.8 126.2h0M385.8 90.5h0M379.8 98.9h0M413.8 100.5h0M390.1 89.9h0M401.8 95.2h0M408.0 131.4h0M402.1 116.9h0M397.9 106.7h0M372.7 113.2h0M403.1 121.8h0M376.1 96.3h0M403.8 106.1h0M413.9 112.0h0M392.0 95.0h0M396.1 104.3h0M416.5 90.7h0M391.9 123.7h0M371.9 129.2h0M391.9 93.7h0M379.3 110.1h0M408.0 127.8h0M372.8 98.3h0M399.2 116.8h0M392.9 129.6h0M396.0 91.5h0M395.8 89.5h0M409.1 132.2h0M377.0 117.8h0M384.4 120.4h0M379.2 121.3h0M381.9 90.1h0M377.7 88.5h0M406.0 120.3h0M378.8 117.4h0M371.4 130.8h0M376.0 105.0h0M390.9 95.7h0M401.2 102.3h0M391.2 115.8h0M416.1 102.3h0M372.8 106.3h0M393.5 112.8h0M393.9 99.9h0M403.1 124.2h0M406.5 122.0h0M407.5 111.1h0M410.9 95.5h0M379.9 117.2h0M377.0 127.4h0M412.7 103.8h0M413.0 109.5h0M412.3 88.8h0M387.4 131.8h0M371.5 104.8h0M379.8 91.1h0M404.2 120.0h0M379.7 127.9h0M391.5 115.7h0M400.8 97.9h0M402.8 114.6h0M385.6 107.0h0M388.3 106.3h0M410.0 123.1h0M413.1 115.1h0M373.8 105.9h0M404.2 103.0h0M383.0 126.7h0M380.7 124.3h0M397.7 111.9h0M389.7 106.7h0M384.9 109.8h0M386.1 128.5h0M385.2 119.7h0M374.9 113.0h0M378.8 121.6h0M387.8 92.1h0M412.4 109.7h0M398.9 104.1h0M379.5 127.4h0M413.2 132.0h0M397.5 111.1h0M383.9 93.6h0M411.9 96.0h0M401.6 97.9h0M390.9 90.0h0M383.9 122.5h0M405.3 113.8h0M411.7 127.7h0M383.0 117.3h0M394.5 123.1h0M376.9 113.3h0M411.7 115.4h0M408.6 130.3h0M377.6 125.8h0M387.3 94.2h0M413.3 93.7h0M403.3 121.0h0M414.7 105.8h0M380.4 109.3h0M395.2 96.1h0M397.4 119.9h0M388.1 130.5h0M372.2 90.7h0M393.4 121.7h0M390.5 102.4h0M399.9 103.2h0M398.5 96.7h0M410.5 107.7h0M399.0 106.8h0M379.2 130.7h0M416.2 110.2h0M401.6 112.8h0M415.4 112.7h0M411.3 96.4h0M372.1 128.2h0M385.1 94.2h0M409.8 114.1h0M386.1 94.5h0M400.0 99.6h0M397.8 112.6h0M416.0 108.7h0M409.1 96.9h0M417.0 92.1h0M410.7 97.2h0M416.5 101.2h0M399.8 92.5h0M415.0 121.6h0M402.5 96.5h0M402.9 113.0h0M371.5 91.5h0M374.4 121.7h0M415.1 95.1h0M392.1 101.0h0M404.9 91.3h0M405.5 131.9h0M371.9 123.1h0M399.6 103.9h0M384.5 92.5h0M383.2 100.6h0M396.1 101.8h0M404.6 122.3h0M408.6 98.0h0M395.7 120.5h0M373.2 103.4h0M408.2 115.2h0M399.3 102.1h0M399.1 103.9h0M413.8 116.7h0M398.0 97.2h0M407.9 99.2h0M388.7 91.3h0M383.2 113.4h0M391.7 94.3h0M400.5 116.2h0M404.5 109.6h0M376.3 95.2h0M403.2 114.9h0M397.0 98.4h0M417.0 130.0h0M404.1 118.4h0M396.9 111.0h0M376.5 128.2h0M404.3 101.2h0M405.5 99.1h0M377.0 116.4h0M392.4 106.9h0M376.4 105.6h0M408.9 111.8h0M401.3 131.4h0M409.0 99.3h0M373.1 117.7h0M411.4 102.3h0M407.9 109.3h0M380.7 99.7h0M376.7 131.5h0M402.4 130.0h0M407.5 124.7h0M384.6 109.6h0M376.1 119.6h0M403.2 108.6h0M390.2 103.5h0M389.6 94.5h0M392.2 120.6h0M384.2 132.3h0M386.8 107.7h0M416.2 104.2h0M400.1 108.8h0M405.6 96.3h0M409.9 95.6h0M372.4 91.2h0M371.9 96.7h0M382.1 95.0h0M407.4 130.9h0M387.0 111.8h0M398.3 93.9h0M402.1 107.8h0M406.9 96.0h0M377.3 91.6h0M387.8 101.6h0M405.2 107.8h0M413.1 125.4h0M371.7 116.5h0M372.5 104.5h0M371.9 123.0h0M390.3 90.0h0M396.7 98.3h0M407.1 123.1h0M414.5 122.0h0M371.8 126.0h0M381.2 112.9h0M392.0 124.4h0M401.7 110.4h0M394.4 106.2h0M388.5 89.8h0M409.8 93.9h0M403.9 105.3h0M374.6 93.3h0M406.6 132.3h0M384.6 98.6h0M402.6 91.3h0M407.9 120.2h0M391.0 88.3h0M372.8 114.3h0M408.1 98.3h0M392.3 99.1h0M406.8 95.1h0M384.1 120.2h0M399.1 124.1h0M377.1 89.9h0M414.2 118.3h0M383.1 107.3h0M416.2 92.5h0M400.6 93.2h0M406.4 115.5h0M417.2 121.6h0M377.3 106.8h0M407.5 95.4h0M415.2 120.5h0M411.5 108.2h0M389.5 121.3h0M383.0 114.8h0M408.9 112.1h0M410.6 117.2h0M385.0 93.5h0M378.8 93.1h0M397.9 106.1h0M376.1 108.8h0M376.3 122.5h0M407.5 108.9h0M403.5 88.7h0M413.4 97.4h0M411.7 108.3h0M381.3 99.5h0M372.7 102.4h0M395.0 117.7h0M380.7 106.0h0" stroke="#6a3cbc" stroke-width="1.2" stroke-linecap="round" stroke-opacity="0.85" fill="none"/>
<path d="M375.5 130.8h0M402.7 101.3h0M415.0 97.2h0M385.7 100.2h0M409.0 119.9h0M376.0 125.5h0M396.2 92.9h0M401.0 130.1h0M408.0 90.1h0M394.4 119.5h0M409.6 126.8h0M392.1 89.6h0M374.6 112.9h0M378.1 103.4h0M409.3 98.3h0M410.4 91.1h0M374.7 90.1h0M408.8 119.5h0M411.6 91.5h0M396.9 120.6h0M408.3 93.4h0M400.3 107.6h0M410.8 131.8h0M395.8 127.1h0M417.3 95.3h0M402.7 92.1h0M380.6 128.4h0M393.0 109.6h0M395.9 89.1h0M406.2 91.4h0M375.9 128.7h0M384.0 97.9h0M380.8 126.7h0M412.0 88.9h0M406.3 123.3h0M409.2 89.2h0M387.7 121.5h0M409.7 106.8h0M380.6 118.4h0M402.2 108.6h0M413.2 96.2h0M377.6 98.5h0M387.5 129.9h0M407.6 124.6h0M395.8 113.1h0M382.5 91.0h0M399.9 108.6h0M400.7 105.8h0M395.2 107.6h0M406.4 95.3h0M387.7 110.7h0M373.4 129.8h0M392.3 115.1h0M414.1 121.4h0M399.3 131.4h0M395.8 121.1h0M407.9 88.4h0M375.0 95.7h0M384.7 126.8h0M402.0 106.0h0M380.3 131.2h0M382.4 126.5h0M374.1 105.9h0M406.9 112.3h0M376.3 99.4h0M395.4 105.9h0M374.1 95.8h0M401.5 111.9h0M411.6 111.0h0M379.3 98.8h0M402.7 121.5h0M392.0 119.7h0M382.9 126.4h0M415.6 115.9h0M395.8 117.8h0M384.5 91.4h0M399.4 111.8h0M391.7 132.1h0M374.8 126.8h0M415.3 108.9h0M416.6 114.5h0M401.3 105.6h0M398.4 110.9h0M399.9 90.1h0M384.6 111.0h0M381.7 126.4h0M405.4 93.2h0M383.3 129.1h0M407.8 122.0h0M415.2 101.0h0M411.7 92.1h0M388.1 100.5h0M382.9 124.6h0M371.6 129.3h0M409.1 120.7h0M393.6 94.6h0M410.2 109.2h0M409.0 115.7h0M413.7 103.6h0M392.1 107.5h0M412.8 98.4h0M416.8 105.5h0M409.4 92.0h0M401.8 131.7h0M379.2 95.3h0M391.0 108.0h0M414.2 92.4h0M395.6 125.7h0M407.0 108.1h0M376.1 127.4h0M375.9 116.4h0M408.9 121.4h0M372.6 91.3h0M391.9 102.1h0M409.5 102.1h0M375.4 118.5h0M397.5 118.0h0M371.7 88.6h0M409.2 114.1h0M411.0 124.0h0M399.8 92.1h0M406.8 116.5h0M377.1 106.0h0M402.0 123.8h0M394.3 129.2h0M402.4 90.5h0M405.7 126.7h0M386.8 88.4h0M396.8 127.3h0M376.4 94.3h0M409.2 131.5h0M383.8 115.8h0M410.9 106.6h0M414.5 97.8h0M384.3 119.2h0M408.0 120.1h0M377.2 104.4h0M408.7 95.5h0M404.6 121.1h0M383.9 96.5h0M392.2 92.9h0M375.9 96.3h0M379.3 92.4h0M389.5 90.1h0M412.8 124.7h0M403.9 120.6h0M373.2 131.7h0M390.8 110.5h0M395.7 107.4h0M373.0 98.0h0M392.0 97.9h0M412.4 116.3h0M390.1 94.4h0M384.5 94.5h0M414.5 103.2h0M371.8 131.8h0M382.1 122.6h0M372.9 92.6h0M399.7 102.4h0M399.2 115.0h0M408.9 109.3h0M401.3 127.5h0M382.4 121.7h0M393.1 89.9h0M381.5 106.1h0M400.5 104.6h0M403.7 123.6h0M408.4 118.3h0M395.7 125.6h0M385.5 92.3h0" stroke="#48288e" stroke-width="1.0" stroke-linecap="round" stroke-opacity="0.9" fill="none"/>
<rect x="421.2" y="87.5" width="46.8" height="45.5" fill="#f6f4f7"/>
<path d="M432.8 92.5h0M452.1 98.9h0M450.2 95.0h0M466.4 118.0h0M435.3 91.0h0M459.9 127.8h0M437.2 92.9h0M466.3 127.6h0M442.9 93.1h0M456.0 131.0h0M435.6 104.5h0M461.4 121.3h0M463.5 115.6h0M432.4 130.1h0M458.7 126.4h0M437.1 101.6h0M466.1 129.0h0M426.4 91.7h0M428.0 117.4h0M433.3 95.6h0M445.5 130.7h0M443.7 91.8h0M428.2 101.4h0M437.0 97.4h0M425.6 103.2h0M431.8 97.3h0M425.8 113.2h0M456.3 103.7h0M426.9 106.9h0M425.3 94.1h0M433.8 128.0h0M424.5 109.7h0M422.5 103.9h0M466.4 125.3h0M443.2 99.8h0M433.9 112.2h0M441.8 99.9h0M423.5 122.7h0M467.3 130.6h0M444.9 105.9h0M427.2 131.8h0M441.8 91.3h0M465.9 116.9h0M455.6 111.9h0M431.6 123.5h0M455.7 110.7h0M464.6 96.1h0M465.5 113.8h0M426.9 125.1h0M461.0 124.4h0M441.9 114.9h0M449.4 119.8h0M440.8 93.5h0M437.2 103.9h0M423.9 95.9h0M452.3 111.0h0M430.5 125.6h0M424.1 88.2h0M451.7 127.7h0M460.8 116.4h0M442.4 99.5h0M464.5 117.3h0M430.9 127.0h0M455.8 130.9h0M439.1 107.5h0M448.1 101.3h0M435.4 129.2h0M459.3 127.3h0M456.1 117.0h0M423.7 124.3h0M430.9 116.0h0M451.3 97.1h0M454.3 91.7h0M426.8 121.8h0M436.6 110.4h0M450.8 111.9h0M460.7 124.0h0M433.6 92.5h0M443.6 129.3h0M432.8 122.9h0M442.6 130.2h0M424.4 97.0h0M457.0 131.3h0M465.0 126.2h0M434.9 111.8h0M422.1 108.6h0M444.3 92.4h0M430.3 126.7h0M446.1 117.7h0M460.5 129.6h0M465.1 98.7h0M449.7 91.7h0M432.8 104.9h0M423.9 93.7h0M450.9 124.1h0M439.1 95.3h0M451.4 94.8h0M461.9 89.2h0M432.1 128.5h0M454.1 102.0h0M425.1 116.7h0M443.0 90.6h0M463.8 92.7h0M456.4 109.5h0M451.9 92.6h0M461.1 131.5h0M422.2 104.0h0M450.8 112.7h0M461.6 111.7h0M437.5 132.1h0M435.7 115.7h0M436.6 89.0h0M447.6 106.9h0M422.8 124.8h0M452.3 122.0h0M444.6 115.4h0M433.2 109.9h0M449.6 110.2h0M444.5 106.0h0M430.2 97.0h0M434.3 131.2h0M429.5 102.8h0M425.2 103.0h0M453.4 99.9h0M465.9 105.4h0M427.6 126.2h0M436.2 108.5h0M459.9 102.3h0M458.3 91.0h0M442.8 98.2h0M463.5 103.3h0M457.6 119.8h0M428.3 127.8h0" stroke="#d0d0cc" stroke-width="2.8" stroke-linecap="round" stroke-opacity="0.45" fill="none"/>
<path d="M454.8 103.7h0M424.2 129.8h0M445.8 89.9h0M438.5 97.6h0M432.7 117.6h0M449.0 113.7h0M461.1 95.3h0M454.9 110.0h0M441.6 125.7h0M453.5 105.8h0M424.8 123.9h0M455.8 125.0h0M463.5 128.2h0M442.2 113.3h0M451.3 115.5h0M456.4 92.5h0M446.2 106.8h0M439.6 102.4h0M431.3 128.8h0M448.1 131.9h0M440.8 118.5h0M450.0 114.4h0M445.8 88.4h0M436.0 124.4h0M458.9 92.7h0M427.3 111.1h0M461.1 96.3h0M433.2 123.7h0M451.8 89.9h0M432.9 92.2h0M452.3 92.5h0M446.9 93.8h0M431.1 94.4h0M449.5 115.5h0M424.8 108.5h0M438.3 110.2h0M430.9 105.9h0M462.9 120.8h0M453.1 100.9h0M448.5 90.4h0M458.5 100.1h0M433.6 94.0h0M444.4 129.9h0M423.3 113.5h0M450.9 98.9h0M447.1 89.5h0M432.2 121.5h0M441.7 131.9h0M455.6 94.7h0M426.9 94.0h0M461.7 100.9h0M423.0 130.7h0M463.3 115.8h0M453.3 92.8h0M434.5 94.6h0M423.3 96.6h0M437.1 117.4h0M453.1 110.8h0M434.0 101.6h0M435.7 101.7h0M442.4 105.9h0M446.1 122.3h0M427.5 92.9h0M431.6 111.7h0M429.4 124.6h0M455.5 131.2h0M447.9 107.2h0M462.4 130.1h0M430.1 102.8h0M422.1 96.7h0M457.2 108.8h0M451.5 112.2h0M438.1 116.4h0M449.1 90.9h0M463.1 98.4h0M467.1 116.6h0M435.1 103.9h0M440.4 130.6h0M443.5 102.7h0M427.5 123.1h0M422.8 92.2h0M433.4 104.9h0M454.3 113.3h0M436.0 129.0h0M453.3 99.5h0M458.7 125.8h0M450.8 123.4h0M444.5 99.7h0M457.1 125.7h0M422.9 105.1h0M447.0 126.0h0M463.7 110.4h0M434.5 114.4h0M436.8 124.5h0M427.6 108.5h0M439.1 105.5h0M466.5 125.9h0M447.5 117.7h0M449.5 130.3h0M430.0 130.2h0M436.2 123.3h0M463.9 99.0h0M448.3 99.5h0M425.9 116.8h0M457.9 109.0h0M459.3 102.3h0M429.0 115.9h0M427.0 95.8h0M424.8 132.2h0M448.7 105.6h0M465.9 116.4h0M434.8 91.9h0M431.1 102.6h0M433.1 129.4h0M433.5 122.7h0M442.6 110.7h0M431.0 100.0h0M424.8 125.4h0M454.8 111.6h0M465.7 95.5h0M455.8 131.5h0M451.9 99.4h0M426.9 129.0h0M425.6 121.5h0M422.0 123.2h0M460.3 122.0h0M464.9 114.1h0M449.1 116.0h0M437.4 123.9h0M435.1 104.2h0M425.3 116.3h0M449.7 99.8h0M448.0 108.7h0M440.0 131.6h0M443.1 103.0h0M450.9 113.0h0M428.7 97.8h0M454.8 97.7h0M432.2 129.9h0M431.1 109.7h0M446.6 94.1h0M432.7 109.3h0M447.2 116.7h0M432.0 95.0h0M438.8 122.5h0M460.8 103.8h0M453.9 95.7h0M444.3 107.0h0M437.0 111.0h0M454.2 105.6h0M458.8 117.4h0M441.7 105.2h0M435.6 111.8h0M457.8 92.6h0M437.7 110.7h0M424.7 119.8h0M436.3 116.0h0M428.3 112.3h0M429.1 115.0h0M432.1 108.0h0M462.7 129.6h0M426.3 104.8h0M460.5 128.1h0M440.1 109.9h0M432.6 90.0h0M439.6 121.7h0M451.8 126.7h0M437.6 132.0h0M443.8 101.2h0M463.5 113.4h0M427.7 116.0h0M454.5 97.6h0M426.2 90.8h0M450.9 90.8h0M456.1 125.5h0M426.6 102.7h0M423.9 113.6h0M451.3 91.5h0M457.5 125.0h0M435.2 111.4h0M423.3 98.0h0M437.7 110.3h0M464.5 127.1h0M440.2 129.6h0M423.3 100.7h0M442.0 132.0h0M463.6 120.3h0M452.9 100.6h0M441.3 126.2h0M464.0 89.1h0M430.2 95.1h0M458.2 106.6h0M445.9 128.4h0M435.0 94.3h0M441.8 106.8h0M442.9 99.1h0M422.5 92.4h0M422.5 91.2h0M437.8 122.3h0M443.2 90.5h0M451.7 114.0h0M461.1 93.9h0M424.4 120.2h0M461.3 107.9h0M461.5 118.0h0M453.6 122.2h0M435.6 102.8h0M462.1 128.0h0M459.0 129.8h0M440.2 128.3h0M458.6 101.0h0M459.5 129.7h0" stroke="#a8a8a4" stroke-width="0.9" stroke-linecap="round" stroke-opacity="0.5" fill="none"/>
<path d="M429.4 101.3h0M458.5 108.1h0M444.6 117.2h0M454.9 119.3h0M442.3 119.6h0M459.5 118.8h0M451.8 97.0h0M459.6 122.3h0M456.3 110.6h0M441.8 88.4h0M438.7 104.1h0M448.0 109.8h0M422.5 115.7h0M438.9 132.1h0M440.2 124.9h0M466.1 102.7h0M441.6 114.6h0M428.8 115.5h0M459.2 109.8h0M435.1 123.5h0M440.2 114.1h0M427.9 127.5h0M455.6 128.9h0M430.9 126.5h0M444.4 112.7h0M425.6 130.1h0M435.4 94.9h0M447.3 131.6h0M439.0 106.5h0M430.5 98.4h0M452.2 130.5h0M443.8 97.1h0M455.9 98.4h0M463.7 132.2h0M436.1 111.3h0M428.4 100.4h0M450.5 126.2h0M444.8 121.5h0M453.1 99.3h0M438.0 97.7h0M463.7 96.9h0M452.0 107.2h0M451.0 105.7h0M455.1 93.4h0M432.0 113.0h0M423.3 126.6h0M448.3 89.6h0M442.8 119.9h0M448.6 116.5h0M424.5 112.9h0M450.0 89.2h0M428.4 120.0h0M435.2 128.0h0M451.8 110.3h0M463.8 130.8h0M429.7 102.7h0M439.5 111.9h0M455.9 131.6h0M439.9 94.2h0M459.4 94.2h0M431.6 98.6h0M431.8 122.2h0M435.2 106.6h0M425.6 125.6h0M457.6 100.5h0M449.5 121.1h0M432.2 114.1h0M433.4 98.9h0M464.6 103.5h0M425.5 105.5h0M437.1 105.0h0M450.1 95.7h0M428.5 103.7h0M458.8 95.7h0M425.4 124.7h0M458.7 101.8h0M427.0 91.4h0M466.0 88.6h0M447.9 125.9h0M429.9 95.7h0M427.5 129.7h0M423.0 113.8h0M438.4 123.5h0M428.7 126.3h0M426.0 101.7h0M455.8 106.9h0M457.4 104.8h0M430.4 130.6h0M436.2 121.6h0M439.6 119.6h0M437.4 101.6h0M438.2 129.1h0M452.4 130.7h0M429.2 101.5h0M447.1 120.9h0M434.7 98.5h0M448.6 109.4h0M429.4 116.7h0M426.3 127.2h0M437.1 101.3h0M443.4 131.2h0M424.8 129.3h0M430.1 111.4h0M454.5 128.5h0M424.1 127.9h0M464.9 125.1h0M422.2 88.7h0M424.0 98.9h0M441.6 126.7h0M436.1 91.4h0M460.2 118.1h0M438.8 94.4h0M450.3 97.3h0M457.0 106.8h0M444.9 125.5h0M432.4 126.6h0M466.1 110.8h0M438.5 94.9h0M425.7 124.0h0M430.3 94.1h0M428.8 126.8h0M454.2 89.2h0M461.6 130.2h0M443.7 107.2h0M466.2 106.4h0M466.8 104.1h0M446.0 127.7h0M427.6 115.7h0M435.7 95.2h0M425.1 103.8h0M441.5 91.6h0M440.7 103.9h0M430.7 99.6h0M427.1 112.3h0M425.9 97.5h0M430.1 129.6h0M435.2 100.4h0M460.2 111.1h0M454.9 119.1h0M446.2 101.1h0M452.0 124.2h0M457.3 128.8h0M452.3 117.7h0M445.4 107.1h0M444.9 117.9h0M423.3 104.9h0M422.5 100.2h0M458.1 126.8h0M456.3 118.7h0M425.8 119.6h0M452.6 105.0h0M436.5 119.1h0M444.3 122.4h0M431.0 126.9h0M424.9 124.3h0M466.2 116.0h0M461.8 108.7h0M435.1 121.6h0M430.9 130.5h0M448.0 119.6h0M425.8 95.9h0M427.5 118.1h0M454.9 115.9h0M433.8 104.8h0M425.6 115.9h0M425.1 99.9h0M453.1 116.4h0M428.3 96.3h0M464.0 107.3h0M451.8 96.1h0M428.3 129.5h0M439.2 122.9h0M422.6 122.7h0M430.9 125.1h0M430.3 90.0h0M446.1 93.0h0M453.9 93.6h0M429.0 107.1h0M459.0 91.2h0M425.7 117.9h0M423.5 97.9h0M448.0 109.1h0M466.9 124.1h0M436.3 107.4h0M462.6 95.6h0M449.9 100.1h0M452.1 121.0h0M451.4 127.5h0M432.3 96.8h0M441.4 93.5h0M448.4 124.2h0M464.9 111.1h0M430.7 88.7h0M430.7 119.0h0M448.2 91.9h0M456.7 101.1h0M452.5 120.9h0M439.5 92.5h0M466.5 115.0h0M426.7 96.6h0M458.8 130.9h0M456.2 120.8h0M460.8 88.9h0M422.7 111.5h0M460.2 95.5h0M430.4 91.3h0M463.2 116.7h0M465.1 97.6h0M448.3 88.4h0M424.6 90.7h0M463.0 105.5h0M430.7 124.4h0M438.7 115.1h0M459.2 120.7h0M461.2 95.5h0M449.7 125.1h0M450.9 88.8h0M447.1 96.0h0M453.4 111.5h0M444.4 122.4h0M461.1 119.6h0M448.4 94.2h0M452.9 122.6h0M423.7 119.3h0M456.4 118.0h0M460.1 123.1h0M428.4 97.7h0M436.4 124.6h0M456.9 92.4h0M454.3 122.0h0M423.4 98.5h0M460.9 108.7h0M424.5 130.0h0M435.6 93.4h0M422.3 95.6h0M459.8 90.3h0M447.4 115.2h0M422.8 103.8h0M436.8 123.5h0M443.3 127.0h0M457.9 126.4h0M427.2 99.9h0M440.6 121.6h0M466.1 103.2h0M447.8 93.0h0M429.4 131.6h0M464.2 100.5h0M449.4 130.7h0M439.3 104.3h0M443.2 97.8h0M429.9 120.4h0M463.6 120.6h0M457.5 99.1h0M432.5 94.5h0M458.6 89.2h0M430.7 121.5h0M438.1 92.6h0M461.7 92.2h0M444.6 118.5h0M431.6 129.7h0M460.2 116.7h0M423.7 88.6h0M453.2 114.3h0M449.1 93.3h0M449.9 96.2h0M458.7 97.0h0M428.7 100.0h0M430.5 99.5h0M443.2 125.7h0M431.7 132.0h0M428.4 114.6h0M427.1 95.9h0M442.6 101.3h0M446.6 118.5h0M431.6 122.3h0M465.1 97.7h0M465.2 127.9h0M459.5 101.3h0M426.1 120.9h0M464.2 113.9h0M466.3 127.9h0M466.8 92.4h0M452.0 101.1h0M466.1 99.1h0M422.7 103.8h0M439.0 120.0h0M435.2 101.2h0M453.8 131.1h0M427.9 98.2h0M446.0 130.2h0M456.4 99.9h0M440.3 100.9h0M458.2 91.8h0M425.7 97.1h0M443.4 110.1h0M451.1 110.7h0M456.8 109.2h0M430.2 90.1h0M463.6 103.9h0M455.5 96.8h0M440.0 125.4h0M455.3 115.7h0M433.9 117.1h0M438.9 105.3h0M426.1 96.5h0M435.2 119.1h0M427.7 128.9h0M465.7 92.2h0M423.4 114.9h0M465.4 103.3h0M435.9 113.3h0M463.6 114.2h0M465.5 127.1h0M464.2 108.4h0M434.4 89.2h0M424.7 121.4h0M438.6 88.6h0M464.4 103.6h0M466.0 112.9h0M465.7 125.7h0M430.5 92.3h0M423.2 109.5h0M460.9 122.6h0M460.0 118.4h0M465.4 90.1h0M448.8 104.7h0M461.9 109.1h0M423.2 129.1h0M454.0 95.0h0M463.4 94.2h0M455.1 126.1h0M452.2 103.7h0M431.3 119.9h0M434.8 106.5h0M427.3 120.8h0M450.1 128.4h0M422.4 100.1h0M441.7 130.7h0M447.0 97.7h0M438.4 105.2h0M441.8 106.4h0M437.7 125.2h0M429.3 108.2h0M453.7 97.8h0M428.7 109.8h0M430.5 112.9h0M459.7 94.8h0M432.0 128.1h0M447.6 127.5h0M448.4 130.3h0M467.3 116.2h0M451.8 102.6h0M466.9 101.2h0M457.0 113.8h0M453.9 99.7h0M431.2 117.9h0M433.7 115.0h0M434.0 106.2h0M455.5 114.2h0M425.2 89.4h0" stroke="#8c62d0" stroke-width="1.5" stroke-linecap="round" stroke-opacity="0.75" fill="none"/>
<path d="M464.5 114.8h0M428.2 121.2h0M425.0 114.7h0M422.1 91.5h0M431.3 97.5h0M456.0 125.6h0M462.1 93.3h0M446.6 125.1h0M440.8 117.1h0M456.5 108.3h0M422.9 106.8h0M445.1 131.9h0M451.9 88.2h0M455.3 97.7h0M423.7 96.6h0M461.4 108.7h0M428.5 102.0h0M457.3 92.0h0M465.7 101.4h0M423.8 130.9h0M462.0 122.4h0M440.8 105.9h0M433.8 120.6h0M462.2 128.0h0M460.9 89.0h0M440.8 95.6h0M424.9 93.8h0M454.2 130.6h0M440.2 116.1h0M445.4 89.9h0M462.8 123.1h0M458.8 91.9h0M445.0 91.1h0M440.1 127.9h0M452.0 102.4h0M433.4 122.6h0M454.4 93.4h0M459.4 109.5h0M461.6 104.3h0M454.3 114.7h0M440.0 90.3h0M442.1 93.7h0M457.2 93.6h0M431.2 101.2h0M436.5 111.8h0M427.2 108.6h0M450.6 116.0h0M461.7 112.5h0M429.7 96.0h0M437.0 128.3h0M457.7 90.2h0M451.8 96.7h0M455.4 99.8h0M445.7 116.4h0M445.8 122.4h0M465.5 131.9h0M443.0 103.6h0M463.0 97.7h0M436.9 98.5h0M466.4 88.8h0M458.5 88.5h0M442.8 104.8h0M447.7 115.9h0M445.8 116.4h0M454.3 106.8h0M457.1 109.2h0M429.7 97.1h0M443.8 108.0h0M459.6 109.2h0M448.8 130.8h0M435.2 88.4h0M455.4 122.6h0M448.3 123.8h0M427.4 90.7h0M449.5 103.6h0M443.7 115.7h0M430.4 105.2h0M463.4 111.6h0M433.6 122.5h0M430.1 127.5h0M457.8 113.3h0M429.8 126.9h0M466.8 119.8h0M425.1 96.5h0M448.2 117.6h0M432.5 116.0h0M438.5 124.2h0M460.2 100.3h0M461.2 104.3h0M422.6 117.3h0M423.3 115.0h0M439.6 96.0h0M461.4 127.5h0M464.2 113.4h0M425.8 111.7h0M463.6 97.1h0M455.7 119.6h0M455.4 113.2h0M447.1 106.5h0M427.4 101.5h0M439.6 102.1h0M434.8 124.9h0M447.4 119.2h0M450.0 114.0h0M426.5 101.0h0M437.1 105.8h0M446.5 124.4h0M424.1 113.1h0M460.0 127.3h0M442.3 95.7h0M434.3 102.1h0M433.4 130.3h0M457.0 121.2h0M454.3 97.6h0M444.6 125.8h0M454.4 95.5h0M458.6 108.8h0M462.0 89.1h0M452.6 125.4h0M424.7 120.7h0M434.6 127.5h0M457.2 101.4h0M460.3 123.8h0M449.6 113.4h0M426.9 107.1h0M437.9 120.7h0M424.8 108.3h0M443.5 126.2h0M444.4 120.4h0M453.4 106.4h0M461.3 115.4h0M425.8 95.2h0M456.4 122.6h0M463.3 124.9h0M439.9 127.0h0M460.2 124.1h0M462.5 131.9h0M438.4 100.0h0M427.1 130.5h0M422.4 110.3h0M460.9 95.5h0M454.6 109.7h0M422.7 97.0h0M453.8 128.1h0M442.6 124.6h0M427.0 111.1h0M423.3 100.7h0M422.7 108.8h0M431.7 108.7h0M456.0 115.7h0M439.3 117.7h0M428.1 110.8h0M466.3 113.5h0M437.4 96.9h0M437.9 124.2h0M434.3 118.5h0M457.6 118.1h0M442.8 111.8h0M425.5 110.8h0M422.3 94.1h0M444.0 92.5h0M429.8 114.4h0M454.9 89.9h0M440.2 117.9h0M441.2 120.8h0M463.5 121.4h0M432.4 89.0h0M455.3 99.9h0M423.9 100.3h0M426.7 102.2h0M422.7 102.4h0M461.4 101.6h0M424.2 101.1h0M433.9 98.9h0M459.9 108.2h0M456.1 122.6h0M445.0 118.3h0M454.8 110.6h0M465.4 110.0h0M425.9 104.3h0M462.0 100.3h0M455.0 91.6h0M463.2 128.9h0M424.3 102.9h0M429.0 131.6h0M454.3 100.2h0M461.0 115.0h0M445.1 94.0h0M442.4 121.6h0M450.1 91.3h0M440.5 120.2h0M437.9 99.2h0M427.7 101.5h0M428.2 102.7h0M428.8 102.1h0M457.0 125.2h0M463.9 108.6h0M453.9 100.6h0M451.8 126.4h0M452.7 124.4h0M426.8 130.3h0M442.4 105.0h0M456.0 118.6h0M450.1 101.0h0M453.9 89.5h0M423.0 119.5h0M435.0 107.1h0M434.9 118.7h0M462.6 123.4h0M438.1 101.9h0M462.7 88.5h0M425.2 105.7h0M459.8 131.5h0M462.0 125.4h0M437.3 111.6h0M447.2 123.1h0M434.3 89.3h0M439.5 124.3h0M466.8 105.6h0M461.6 118.2h0M424.6 131.5h0M464.1 128.8h0M435.1 113.7h0M423.2 112.0h0M448.0 131.8h0M441.1 130.3h0M454.4 116.1h0M434.8 102.6h0M446.4 106.8h0M435.4 106.2h0M449.5 94.9h0M431.0 105.3h0M436.7 94.7h0M422.1 120.8h0M450.5 89.4h0M431.6 89.6h0M442.4 98.7h0M424.8 128.2h0M438.2 132.2h0M459.2 108.0h0M462.4 92.4h0M446.3 91.3h0M467.0 100.5h0M465.6 89.3h0M440.6 91.5h0M449.2 107.1h0M457.5 98.9h0M438.8 114.3h0M428.4 127.5h0M429.5 129.5h0M429.1 124.2h0M461.2 104.4h0M453.3 128.1h0M458.0 127.7h0M430.3 121.0h0M434.0 125.7h0M463.6 105.6h0M462.7 102.4h0M439.5 106.1h0M442.5 120.7h0M423.9 113.0h0M439.8 106.6h0M437.5 97.1h0M444.4 110.1h0M457.8 110.2h0M453.8 120.3h0M439.7 123.6h0M440.3 128.1h0M424.7 125.0h0M422.3 116.9h0M456.0 121.7h0M423.6 122.0h0M465.4 128.5h0M426.2 100.3h0M451.2 114.2h0M457.4 97.6h0M424.6 118.3h0M465.8 118.6h0M453.2 96.4h0M429.9 119.9h0M430.1 100.8h0M458.2 110.0h0M425.4 115.2h0M439.3 96.3h0M444.5 129.4h0M429.7 102.7h0M442.6 108.3h0M431.2 92.2h0M436.0 114.7h0M422.8 118.4h0M455.4 95.4h0M428.9 95.8h0M459.7 120.3h0M461.8 122.5h0M447.3 100.6h0M461.8 94.0h0M423.1 110.4h0M454.3 117.8h0M460.5 97.3h0M424.7 128.4h0M434.7 108.0h0M466.4 100.7h0M436.7 96.0h0M432.6 89.1h0M441.5 119.9h0M425.2 93.4h0M425.4 113.1h0M426.3 96.3h0M461.1 117.3h0M463.7 124.5h0M446.9 94.8h0M438.6 120.1h0M465.7 96.3h0M454.8 124.6h0M465.0 123.0h0M461.8 122.9h0M459.7 106.6h0M444.7 94.5h0M465.7 97.3h0M464.4 91.8h0M465.0 109.4h0M461.3 109.0h0M467.3 128.6h0M432.3 121.8h0M462.4 115.0h0M431.5 101.2h0M424.0 126.6h0M454.7 115.2h0M427.8 124.5h0M455.1 123.2h0M450.6 120.0h0M462.4 97.7h0M429.8 100.6h0M444.9 109.7h0M450.8 105.2h0M439.1 92.7h0M446.4 99.6h0M427.6 94.4h0M423.9 110.2h0M446.1 91.9h0" stroke="#6a3cbc" stroke-width="1.2" stroke-linecap="round" stroke-opacity="0.85" fill="none"/>
<path d="M433.9 95.8h0M448.3 117.4h0M448.6 120.5h0M463.7 124.2h0M436.8 117.5h0M454.1 132.0h0M465.4 93.0h0M457.8 129.9h0M444.6 109.9h0M435.8 117.8h0M463.6 111.8h0M424.0 117.7h0M422.3 99.0h0M424.3 89.8h0M456.1 110.1h0M438.2 125.7h0M456.1 127.4h0M442.2 122.5h0M452.7 104.6h0M423.3 90.0h0M446.3 95.7h0M446.2 114.7h0M453.1 97.9h0M422.3 119.4h0M424.9 116.0h0M451.5 125.3h0M463.4 110.8h0M430.3 123.9h0M425.7 96.8h0M426.7 121.4h0M447.8 110.4h0M462.4 107.9h0M458.8 131.5h0M438.2 90.1h0M429.9 92.3h0M463.9 120.9h0M449.7 89.4h0M451.2 95.4h0M424.6 112.2h0M456.1 104.8h0M456.3 110.5h0M429.1 100.9h0M435.9 95.2h0M461.3 120.7h0M439.0 117.2h0M452.0 131.2h0M427.5 96.7h0M431.5 126.5h0M434.5 118.9h0M430.2 119.8h0M439.2 129.9h0M451.7 94.0h0M432.6 122.0h0M425.3 131.1h0M451.0 122.7h0M442.9 94.0h0M440.8 124.2h0M464.5 122.1h0M449.6 95.3h0M450.9 105.9h0M440.9 126.0h0M449.3 105.7h0M427.6 97.3h0M453.0 120.3h0M464.3 92.0h0M442.1 100.4h0M425.0 110.6h0M424.8 111.2h0M433.0 101.6h0M433.3 98.7h0M457.2 123.9h0M439.3 89.6h0M463.9 132.2h0M437.2 91.5h0M437.7 92.8h0M422.4 110.5h0M427.5 91.0h0M423.2 123.0h0M425.1 88.6h0M432.9 90.8h0M430.0 112.8h0M428.1 126.0h0M438.0 97.1h0M460.2 89.6h0M456.8 94.1h0M436.1 123.3h0M449.7 91.9h0M429.6 102.4h0M443.5 127.0h0M461.6 108.8h0M442.9 119.3h0M450.6 116.2h0M451.1 95.1h0M432.7 91.3h0M436.4 93.9h0M425.9 110.8h0M452.1 101.1h0M434.0 126.1h0M448.3 100.4h0M464.4 93.5h0M429.7 105.8h0M435.2 103.7h0M453.0 109.6h0M446.2 108.8h0M461.0 121.3h0M453.5 102.1h0M464.2 101.2h0M427.4 91.2h0M423.6 99.0h0M423.1 100.0h0M427.7 95.6h0M458.2 98.4h0M422.4 125.4h0M426.5 92.6h0M422.0 119.5h0M446.2 94.7h0M425.0 108.5h0M451.9 109.9h0M431.2 111.7h0M465.6 117.3h0M422.0 128.9h0M461.8 116.3h0M439.5 113.6h0M433.9 128.0h0M422.4 99.6h0M448.8 110.2h0M457.6 126.7h0M427.8 110.3h0M445.1 112.6h0M424.3 120.7h0M454.9 123.7h0M445.6 127.1h0M456.8 112.5h0M426.5 120.0h0M432.1 115.8h0M432.2 89.4h0M460.9 103.7h0M455.6 101.9h0M447.6 101.7h0M438.8 88.4h0M451.9 97.7h0M430.1 129.1h0M446.5 93.3h0M456.0 111.2h0M448.6 123.4h0M443.2 94.3h0M439.2 97.3h0M458.1 99.6h0M462.8 112.5h0M461.5 104.8h0M436.9 100.8h0M466.0 92.9h0M450.4 96.2h0M430.1 100.0h0M424.4 124.2h0M445.7 124.4h0M454.1 116.6h0M442.7 110.7h0M438.9 112.7h0M433.2 120.6h0M431.8 93.1h0M434.1 91.6h0M435.8 121.2h0M426.0 110.7h0M463.4 123.3h0M467.2 103.8h0M460.4 92.1h0M437.8 100.9h0M422.9 111.0h0M438.7 107.4h0" stroke="#48288e" stroke-width="1.0" stroke-linecap="round" stroke-opacity="0.9" fill="none"/>
<text x="22.33" y="11.00" font-size="16.77" font-weight="bold" textLength="11.43" lengthAdjust="spacingAndGlyphs">A</text>
<text x="214.56" y="11.60" font-size="17.70" font-weight="bold">B</text>
<text x="19.44" y="172.40" font-size="17.28" font-weight="bold" textLength="12.00" lengthAdjust="spacingAndGlyphs">C</text>
<text x="345.30" y="171.90" font-size="17.21" font-weight="bold">D</text>
<text x="19.76" y="431.70" font-size="16.75" font-weight="bold" textLength="9.89" lengthAdjust="spacingAndGlyphs">E</text>
<text x="198.62" y="431.70" font-size="17.97" font-weight="bold" textLength="9.46" lengthAdjust="spacingAndGlyphs">F</text>
<text x="125.31" y="16.80" font-size="10.62" textLength="49.20" lengthAdjust="spacingAndGlyphs">Cell: CL1-0</text>
<text x="0.19" y="27.40" font-size="10.20">[Glucose] (mmol/L)</text>
<text x="104.50" y="27.60" font-size="11.24" text-anchor="middle" textLength="14.73" lengthAdjust="spacingAndGlyphs">5.5</text>
<text x="148.60" y="27.50" font-size="11.24" text-anchor="middle" textLength="11.00" lengthAdjust="spacingAndGlyphs">11</text>
<text x="191.40" y="27.50" font-size="11.24" text-anchor="middle" textLength="11.79" lengthAdjust="spacingAndGlyphs">22</text>
<line x1="88.20" y1="29.60" x2="123.00" y2="29.60" stroke="#111" stroke-width="1.25"/>
<line x1="130.00" y1="29.60" x2="167.00" y2="29.60" stroke="#111" stroke-width="1.25"/>
<line x1="173.40" y1="29.60" x2="209.60" y2="29.60" stroke="#111" stroke-width="1.25"/>
<text x="68.52" y="39.50" font-size="9.97" textLength="17.62" lengthAdjust="spacingAndGlyphs">(%)</text>
<line x1="86.50" y1="134.10" x2="86.50" y2="46.70" stroke="#777" stroke-width="1.2"/>
<line x1="84.00" y1="133.60" x2="86.50" y2="133.60" stroke="#777" stroke-width="0.9"/>
<text x="81.50" y="137.60" font-size="10.00" text-anchor="end">0</text>
<line x1="84.00" y1="111.88" x2="86.50" y2="111.88" stroke="#777" stroke-width="0.9"/>
<text x="81.50" y="115.88" font-size="10.00" text-anchor="end">50</text>
<line x1="84.00" y1="90.15" x2="86.50" y2="90.15" stroke="#777" stroke-width="0.9"/>
<text x="81.50" y="94.15" font-size="10.00" text-anchor="end">100</text>
<line x1="84.00" y1="68.42" x2="86.50" y2="68.42" stroke="#777" stroke-width="0.9"/>
<text x="81.50" y="72.42" font-size="10.00" text-anchor="end">150</text>
<line x1="84.00" y1="46.70" x2="86.50" y2="46.70" stroke="#777" stroke-width="0.9"/>
<text x="81.50" y="50.70" font-size="10.00" text-anchor="end">200</text>
<line x1="84.00" y1="133.60" x2="215.00" y2="133.60" stroke="#aaa" stroke-width="1.2"/>
<line x1="106.50" y1="133.60" x2="106.50" y2="136.60" stroke="#777" stroke-width="0.9"/>
<line x1="128.20" y1="133.60" x2="128.20" y2="136.60" stroke="#777" stroke-width="0.9"/>
<line x1="149.60" y1="133.60" x2="149.60" y2="136.60" stroke="#777" stroke-width="0.9"/>
<line x1="171.30" y1="133.60" x2="171.30" y2="136.60" stroke="#777" stroke-width="0.9"/>
<line x1="192.90" y1="133.60" x2="192.90" y2="136.60" stroke="#777" stroke-width="0.9"/>
<line x1="214.50" y1="133.60" x2="214.50" y2="136.60" stroke="#777" stroke-width="0.9"/>
<rect x="87.70" y="90.15" width="8.00" height="43.45" fill="#1a68c6" stroke="#0c3678" stroke-width="0.6"/>
<line x1="91.70" y1="90.15" x2="91.70" y2="87.98" stroke="#1a1a1a" stroke-width="1.1"/>
<line x1="90.30" y1="87.98" x2="93.10" y2="87.98" stroke="#1a1a1a" stroke-width="1.0"/>
<rect x="95.70" y="90.15" width="8.00" height="43.45" fill="#14ae52" stroke="#075424" stroke-width="0.6"/>
<line x1="99.70" y1="90.15" x2="99.70" y2="88.41" stroke="#1a1a1a" stroke-width="1.1"/>
<line x1="98.30" y1="88.41" x2="101.10" y2="88.41" stroke="#1a1a1a" stroke-width="1.0"/>
<rect x="109.20" y="63.65" width="8.00" height="69.95" fill="#1a68c6" stroke="#0c3678" stroke-width="0.6"/>
<line x1="113.20" y1="63.65" x2="113.20" y2="61.04" stroke="#1a1a1a" stroke-width="1.1"/>
<line x1="111.80" y1="61.04" x2="114.60" y2="61.04" stroke="#1a1a1a" stroke-width="1.0"/>
<rect x="117.20" y="77.12" width="8.00" height="56.48" fill="#14ae52" stroke="#075424" stroke-width="0.6"/>
<line x1="121.20" y1="77.12" x2="121.20" y2="75.38" stroke="#1a1a1a" stroke-width="1.1"/>
<line x1="119.80" y1="75.38" x2="122.60" y2="75.38" stroke="#1a1a1a" stroke-width="1.0"/>
<rect x="131.00" y="90.15" width="8.00" height="43.45" fill="#1a68c6" stroke="#0c3678" stroke-width="0.6"/>
<line x1="135.00" y1="90.15" x2="135.00" y2="87.54" stroke="#1a1a1a" stroke-width="1.1"/>
<line x1="133.60" y1="87.54" x2="136.40" y2="87.54" stroke="#1a1a1a" stroke-width="1.0"/>
<rect x="139.00" y="90.15" width="8.00" height="43.45" fill="#14ae52" stroke="#075424" stroke-width="0.6"/>
<line x1="143.00" y1="90.15" x2="143.00" y2="88.41" stroke="#1a1a1a" stroke-width="1.1"/>
<line x1="141.60" y1="88.41" x2="144.40" y2="88.41" stroke="#1a1a1a" stroke-width="1.0"/>
<rect x="152.30" y="66.25" width="8.00" height="67.35" fill="#1a68c6" stroke="#0c3678" stroke-width="0.6"/>
<line x1="156.30" y1="66.25" x2="156.30" y2="62.34" stroke="#1a1a1a" stroke-width="1.1"/>
<line x1="154.90" y1="62.34" x2="157.70" y2="62.34" stroke="#1a1a1a" stroke-width="1.0"/>
<rect x="160.30" y="76.25" width="8.00" height="57.35" fill="#14ae52" stroke="#075424" stroke-width="0.6"/>
<line x1="164.30" y1="76.25" x2="164.30" y2="74.51" stroke="#1a1a1a" stroke-width="1.1"/>
<line x1="162.90" y1="74.51" x2="165.70" y2="74.51" stroke="#1a1a1a" stroke-width="1.0"/>
<rect x="174.20" y="90.15" width="8.00" height="43.45" fill="#1a68c6" stroke="#0c3678" stroke-width="0.6"/>
<line x1="178.20" y1="90.15" x2="178.20" y2="87.98" stroke="#1a1a1a" stroke-width="1.1"/>
<line x1="176.80" y1="87.98" x2="179.60" y2="87.98" stroke="#1a1a1a" stroke-width="1.0"/>
<rect x="182.20" y="90.15" width="8.00" height="43.45" fill="#14ae52" stroke="#075424" stroke-width="0.6"/>
<line x1="186.20" y1="90.15" x2="186.20" y2="88.41" stroke="#1a1a1a" stroke-width="1.1"/>
<line x1="184.80" y1="88.41" x2="187.60" y2="88.41" stroke="#1a1a1a" stroke-width="1.0"/>
<rect x="195.60" y="65.38" width="8.00" height="68.22" fill="#1a68c6" stroke="#0c3678" stroke-width="0.6"/>
<line x1="199.60" y1="65.38" x2="199.60" y2="62.78" stroke="#1a1a1a" stroke-width="1.1"/>
<line x1="198.20" y1="62.78" x2="201.00" y2="62.78" stroke="#1a1a1a" stroke-width="1.0"/>
<rect x="203.60" y="74.94" width="8.00" height="58.66" fill="#14ae52" stroke="#075424" stroke-width="0.6"/>
<line x1="207.60" y1="74.94" x2="207.60" y2="73.20" stroke="#1a1a1a" stroke-width="1.1"/>
<line x1="206.20" y1="73.20" x2="209.00" y2="73.20" stroke="#1a1a1a" stroke-width="1.0"/>
<path d="M106.40,44.80 L106.40,42.20 L195.20,42.20 L195.20,44.80 M149.50,42.20 L149.50,40.20" fill="none" stroke="#222" stroke-width="1.0"/>
<text x="137.90" y="39.30" font-size="8.02" textLength="24.19" lengthAdjust="spacingAndGlyphs"><tspan font-style="italic">P</tspan> = NS</text>
<path d="M86.70,59.40 L86.70,56.40 L125.80,56.40 L125.80,59.40 M106.40,56.40 L106.40,53.90" fill="none" stroke="#222" stroke-width="1.0"/>
<text x="88.00" y="53.50" font-size="8.29" textLength="33.71" lengthAdjust="spacingAndGlyphs"><tspan font-style="italic">P</tspan> &lt; 0.001</text>
<path d="M128.50,59.40 L128.50,56.40 L170.20,56.40 L170.20,59.40 M149.50,56.40 L149.50,53.90" fill="none" stroke="#222" stroke-width="1.0"/>
<text x="131.70" y="53.50" font-size="8.61" textLength="35.02" lengthAdjust="spacingAndGlyphs"><tspan font-style="italic">P</tspan> &lt; 0.001</text>
<path d="M172.90,59.40 L172.90,56.40 L214.60,56.40 L214.60,59.40 M195.20,56.40 L195.20,53.90" fill="none" stroke="#222" stroke-width="1.0"/>
<text x="175.60" y="53.50" font-size="7.95" textLength="32.31" lengthAdjust="spacingAndGlyphs"><tspan font-style="italic">P</tspan> &lt; 0.001</text>
<text x="64.00" y="134.00" font-size="11.30" textLength="85.89" lengthAdjust="spacingAndGlyphs" transform="rotate(-90 64.00 134.00)">Migration/invasion</text>
<text x="31.20" y="146.60" font-size="10.56" textLength="54.25" lengthAdjust="spacingAndGlyphs">ALDOA-OE:</text>
<text x="95.70" y="146.60" font-size="11.24" text-anchor="middle" textLength="3.53" lengthAdjust="spacingAndGlyphs">-</text>
<text x="117.20" y="146.60" font-size="11.24" text-anchor="middle" textLength="6.19" lengthAdjust="spacingAndGlyphs">+</text>
<text x="139.00" y="146.60" font-size="11.24" text-anchor="middle" textLength="3.53" lengthAdjust="spacingAndGlyphs">-</text>
<text x="160.30" y="146.60" font-size="11.24" text-anchor="middle" textLength="6.19" lengthAdjust="spacingAndGlyphs">+</text>
<text x="182.20" y="146.60" font-size="11.24" text-anchor="middle" textLength="3.53" lengthAdjust="spacingAndGlyphs">-</text>
<text x="203.60" y="146.60" font-size="11.24" text-anchor="middle" textLength="6.19" lengthAdjust="spacingAndGlyphs">+</text>
<text x="239.91" y="28.80" font-size="9.49" textLength="12.44" lengthAdjust="spacingAndGlyphs">VC</text>
<text x="353.80" y="28.80" font-size="9.28" textLength="29.69" lengthAdjust="spacingAndGlyphs">ALDOA</text>
<line x1="223.00" y1="32.20" x2="268.50" y2="32.20" stroke="#111" stroke-width="1.3"/>
<line x1="271.50" y1="32.20" x2="467.00" y2="32.20" stroke="#111" stroke-width="1.3"/>
<text x="246.70" y="41.20" font-size="8.93" text-anchor="middle" textLength="5.23" lengthAdjust="spacingAndGlyphs">0</text>
<text x="298.00" y="41.20" font-size="8.93" text-anchor="middle" textLength="5.23" lengthAdjust="spacingAndGlyphs">0</text>
<text x="347.50" y="41.20" font-size="8.93" text-anchor="middle" textLength="10.45" lengthAdjust="spacingAndGlyphs">60</text>
<text x="397.50" y="41.20" font-size="8.93" text-anchor="middle" textLength="15.68" lengthAdjust="spacingAndGlyphs">120</text>
<text x="446.80" y="41.20" font-size="8.93" text-anchor="middle" textLength="15.68" lengthAdjust="spacingAndGlyphs">250</text>
<text x="472.00" y="38.40" font-size="8.90" textLength="24.74" lengthAdjust="spacingAndGlyphs">[4-DG]</text>
<text x="470.80" y="46.80" font-size="8.80" textLength="30.60" lengthAdjust="spacingAndGlyphs">(µmol/L)</text>
<text x="475.80" y="69.80" font-size="9.12" textLength="40.63" lengthAdjust="spacingAndGlyphs">Cell:CL1-0</text>
<text x="475.80" y="113.50" font-size="9.12" textLength="42.54" lengthAdjust="spacingAndGlyphs">Cell:H1355</text>
<text x="46.61" y="184.50" font-size="12.41" textLength="20.17" lengthAdjust="spacingAndGlyphs">OE:</text>
<text x="70.69" y="184.50" font-size="11.63" textLength="15.24" lengthAdjust="spacingAndGlyphs">VC</text>
<line x1="71.00" y1="186.00" x2="85.80" y2="186.00" stroke="#111" stroke-width="1.25"/>
<text x="118.50" y="184.30" font-size="11.20" textLength="35.81" lengthAdjust="spacingAndGlyphs">ALDOA</text>
<line x1="91.00" y1="186.00" x2="174.20" y2="186.00" stroke="#111" stroke-width="1.25"/>
<text x="40.10" y="270.20" font-size="11.66" textLength="93.52" lengthAdjust="spacingAndGlyphs" transform="rotate(-90 40.10 270.20)">ALDOA activity (%)</text>
<line x1="64.50" y1="280.00" x2="64.50" y2="191.60" stroke="#777" stroke-width="1.2"/>
<line x1="62.00" y1="279.50" x2="64.50" y2="279.50" stroke="#777" stroke-width="0.9"/>
<text x="61.10" y="283.74" font-size="10.60" text-anchor="end">0</text>
<line x1="62.00" y1="250.20" x2="64.50" y2="250.20" stroke="#777" stroke-width="0.9"/>
<text x="61.10" y="254.44" font-size="10.60" text-anchor="end">100</text>
<line x1="62.00" y1="220.90" x2="64.50" y2="220.90" stroke="#777" stroke-width="0.9"/>
<text x="61.10" y="225.14" font-size="10.60" text-anchor="end">200</text>
<line x1="62.00" y1="191.60" x2="64.50" y2="191.60" stroke="#777" stroke-width="0.9"/>
<text x="61.10" y="195.84" font-size="10.60" text-anchor="end">300</text>
<line x1="62.00" y1="279.50" x2="176.00" y2="279.50" stroke="#777" stroke-width="1.2"/>
<line x1="87.00" y1="279.50" x2="87.00" y2="282.50" stroke="#777" stroke-width="0.9"/>
<line x1="109.40" y1="279.50" x2="109.40" y2="282.50" stroke="#777" stroke-width="0.9"/>
<line x1="131.80" y1="279.50" x2="131.80" y2="282.50" stroke="#777" stroke-width="0.9"/>
<line x1="154.20" y1="279.50" x2="154.20" y2="282.50" stroke="#777" stroke-width="0.9"/>
<line x1="176.00" y1="279.50" x2="176.00" y2="282.50" stroke="#777" stroke-width="0.9"/>
<rect x="70.40" y="250.20" width="11.50" height="29.30" fill="#000" stroke="#000" stroke-width="0.6"/>
<line x1="76.15" y1="250.20" x2="76.15" y2="247.27" stroke="#1a1a1a" stroke-width="1.1"/>
<line x1="74.75" y1="247.27" x2="77.55" y2="247.27" stroke="#1a1a1a" stroke-width="1.0"/>
<rect x="92.90" y="232.33" width="11.50" height="47.17" fill="#000" stroke="#000" stroke-width="0.6"/>
<line x1="98.65" y1="232.33" x2="98.65" y2="229.10" stroke="#1a1a1a" stroke-width="1.1"/>
<line x1="97.25" y1="229.10" x2="100.05" y2="229.10" stroke="#1a1a1a" stroke-width="1.0"/>
<rect x="115.00" y="244.34" width="11.50" height="35.16" fill="#000" stroke="#000" stroke-width="0.6"/>
<line x1="120.75" y1="244.34" x2="120.75" y2="240.24" stroke="#1a1a1a" stroke-width="1.1"/>
<line x1="119.35" y1="240.24" x2="122.15" y2="240.24" stroke="#1a1a1a" stroke-width="1.0"/>
<rect x="137.30" y="252.54" width="11.50" height="26.96" fill="#000" stroke="#000" stroke-width="0.6"/>
<line x1="143.05" y1="252.54" x2="143.05" y2="250.20" stroke="#1a1a1a" stroke-width="1.1"/>
<line x1="141.65" y1="250.20" x2="144.45" y2="250.20" stroke="#1a1a1a" stroke-width="1.0"/>
<rect x="159.80" y="267.78" width="11.50" height="11.72" fill="#000" stroke="#000" stroke-width="0.6"/>
<line x1="165.55" y1="267.78" x2="165.55" y2="265.44" stroke="#1a1a1a" stroke-width="1.1"/>
<line x1="164.15" y1="265.44" x2="166.95" y2="265.44" stroke="#1a1a1a" stroke-width="1.0"/>
<path d="M74.70,223.50 L74.70,219.90 L98.60,219.90 L98.60,223.50" fill="none" stroke="#222" stroke-width="1.0"/>
<text x="70.40" y="217.80" font-size="9.08" textLength="36.92" lengthAdjust="spacingAndGlyphs"><tspan font-style="italic">P</tspan> &lt; 0.001</text>
<path d="M90.60,209.40 L90.60,206.60 L173.40,206.60 L173.40,209.40 M133.80,206.60 L133.80,204.40" fill="none" stroke="#222" stroke-width="1.0"/>
<text x="113.60" y="200.00" font-size="8.88" textLength="36.12" lengthAdjust="spacingAndGlyphs"><tspan font-style="italic">P</tspan> &lt; 0.001</text>
<text x="38.60" y="383.20" font-size="11.55" textLength="108.37" lengthAdjust="spacingAndGlyphs" transform="rotate(-90 38.60 383.20)">Migration/Invasion (%)</text>
<line x1="64.40" y1="383.50" x2="64.40" y2="295.10" stroke="#777" stroke-width="1.2"/>
<line x1="61.90" y1="383.00" x2="64.40" y2="383.00" stroke="#777" stroke-width="0.9"/>
<text x="61.00" y="387.24" font-size="10.60" text-anchor="end">0</text>
<line x1="61.90" y1="353.70" x2="64.40" y2="353.70" stroke="#777" stroke-width="0.9"/>
<text x="61.00" y="357.94" font-size="10.60" text-anchor="end">100</text>
<line x1="61.90" y1="324.40" x2="64.40" y2="324.40" stroke="#777" stroke-width="0.9"/>
<text x="61.00" y="328.64" font-size="10.60" text-anchor="end">200</text>
<line x1="61.90" y1="295.10" x2="64.40" y2="295.10" stroke="#777" stroke-width="0.9"/>
<text x="61.00" y="299.34" font-size="10.60" text-anchor="end">300</text>
<line x1="61.90" y1="383.00" x2="176.00" y2="383.00" stroke="#777" stroke-width="1.2"/>
<line x1="86.30" y1="383.00" x2="86.30" y2="386.00" stroke="#777" stroke-width="0.9"/>
<line x1="108.70" y1="383.00" x2="108.70" y2="386.00" stroke="#777" stroke-width="0.9"/>
<line x1="131.10" y1="383.00" x2="131.10" y2="386.00" stroke="#777" stroke-width="0.9"/>
<line x1="153.50" y1="383.00" x2="153.50" y2="386.00" stroke="#777" stroke-width="0.9"/>
<line x1="175.90" y1="383.00" x2="175.90" y2="386.00" stroke="#777" stroke-width="0.9"/>
<rect x="67.60" y="353.70" width="7.70" height="29.30" fill="#1a68c6" stroke="#0c3678" stroke-width="0.6"/>
<line x1="71.45" y1="353.70" x2="71.45" y2="351.06" stroke="#1a1a1a" stroke-width="1.1"/>
<line x1="70.05" y1="351.06" x2="72.85" y2="351.06" stroke="#1a1a1a" stroke-width="1.0"/>
<rect x="75.30" y="353.70" width="7.70" height="29.30" fill="#14ae52" stroke="#075424" stroke-width="0.6"/>
<line x1="79.15" y1="353.70" x2="79.15" y2="352.53" stroke="#1a1a1a" stroke-width="1.1"/>
<line x1="77.75" y1="352.53" x2="80.55" y2="352.53" stroke="#1a1a1a" stroke-width="1.0"/>
<rect x="90.00" y="327.33" width="7.70" height="55.67" fill="#1a68c6" stroke="#0c3678" stroke-width="0.6"/>
<line x1="93.85" y1="327.33" x2="93.85" y2="325.28" stroke="#1a1a1a" stroke-width="1.1"/>
<line x1="92.45" y1="325.28" x2="95.25" y2="325.28" stroke="#1a1a1a" stroke-width="1.0"/>
<rect x="97.70" y="334.07" width="7.70" height="48.93" fill="#14ae52" stroke="#075424" stroke-width="0.6"/>
<line x1="101.55" y1="334.07" x2="101.55" y2="332.31" stroke="#1a1a1a" stroke-width="1.1"/>
<line x1="100.15" y1="332.31" x2="102.95" y2="332.31" stroke="#1a1a1a" stroke-width="1.0"/>
<rect x="112.40" y="329.09" width="7.70" height="53.91" fill="#1a68c6" stroke="#0c3678" stroke-width="0.6"/>
<line x1="116.25" y1="329.09" x2="116.25" y2="326.45" stroke="#1a1a1a" stroke-width="1.1"/>
<line x1="114.85" y1="326.45" x2="117.65" y2="326.45" stroke="#1a1a1a" stroke-width="1.0"/>
<rect x="120.10" y="334.36" width="7.70" height="48.64" fill="#14ae52" stroke="#075424" stroke-width="0.6"/>
<line x1="123.95" y1="334.36" x2="123.95" y2="332.60" stroke="#1a1a1a" stroke-width="1.1"/>
<line x1="122.55" y1="332.60" x2="125.35" y2="332.60" stroke="#1a1a1a" stroke-width="1.0"/>
<rect x="134.80" y="329.97" width="7.70" height="53.03" fill="#1a68c6" stroke="#0c3678" stroke-width="0.6"/>
<line x1="138.65" y1="329.97" x2="138.65" y2="327.92" stroke="#1a1a1a" stroke-width="1.1"/>
<line x1="137.25" y1="327.92" x2="140.05" y2="327.92" stroke="#1a1a1a" stroke-width="1.0"/>
<rect x="142.50" y="338.46" width="7.70" height="44.54" fill="#14ae52" stroke="#075424" stroke-width="0.6"/>
<line x1="146.35" y1="338.46" x2="146.35" y2="337.00" stroke="#1a1a1a" stroke-width="1.1"/>
<line x1="144.95" y1="337.00" x2="147.75" y2="337.00" stroke="#1a1a1a" stroke-width="1.0"/>
<rect x="157.20" y="332.31" width="7.70" height="50.69" fill="#1a68c6" stroke="#0c3678" stroke-width="0.6"/>
<line x1="161.05" y1="332.31" x2="161.05" y2="329.67" stroke="#1a1a1a" stroke-width="1.1"/>
<line x1="159.65" y1="329.67" x2="162.45" y2="329.67" stroke="#1a1a1a" stroke-width="1.0"/>
<rect x="164.90" y="341.69" width="7.70" height="41.31" fill="#14ae52" stroke="#075424" stroke-width="0.6"/>
<line x1="168.75" y1="341.69" x2="168.75" y2="339.93" stroke="#1a1a1a" stroke-width="1.1"/>
<line x1="167.35" y1="339.93" x2="170.15" y2="339.93" stroke="#1a1a1a" stroke-width="1.0"/>
<path d="M67.30,324.10 L67.30,321.30 L105.40,321.30 L105.40,324.10 M86.50,321.30 L86.50,319.10" fill="none" stroke="#222" stroke-width="1.0"/>
<text x="67.00" y="316.00" font-size="9.06" textLength="36.82" lengthAdjust="spacingAndGlyphs"><tspan font-style="italic">P</tspan> &lt; 0.001</text>
<path d="M89.40,306.60 L89.40,303.80 L172.40,303.80 L172.40,306.60 M131.50,303.80 L131.50,301.60" fill="none" stroke="#222" stroke-width="1.0"/>
<text x="117.70" y="298.30" font-size="9.18" textLength="27.69" lengthAdjust="spacingAndGlyphs"><tspan font-style="italic">P</tspan> = NS</text>
<text x="75.00" y="396.60" font-size="11.24" text-anchor="middle" textLength="5.89" lengthAdjust="spacingAndGlyphs">0</text>
<text x="97.20" y="396.60" font-size="11.24" text-anchor="middle" textLength="5.89" lengthAdjust="spacingAndGlyphs">0</text>
<text x="119.50" y="396.60" font-size="11.24" text-anchor="middle" textLength="11.79" lengthAdjust="spacingAndGlyphs">60</text>
<text x="142.00" y="396.60" font-size="11.24" text-anchor="middle" textLength="17.68" lengthAdjust="spacingAndGlyphs">120</text>
<text x="165.50" y="396.60" font-size="11.24" text-anchor="middle" textLength="17.68" lengthAdjust="spacingAndGlyphs">250</text>
<text x="84.66" y="410.20" font-size="11.19" textLength="72.97" lengthAdjust="spacingAndGlyphs">[4-DG] (µmol/L)</text>
<text x="226.90" y="180.00" font-size="11.50" textLength="13.89" lengthAdjust="spacingAndGlyphs">VC</text>
<line x1="224.60" y1="182.40" x2="242.30" y2="182.40" stroke="#111" stroke-width="1.25"/>
<text x="268.50" y="179.70" font-size="10.69" textLength="34.20" lengthAdjust="spacingAndGlyphs">ALDOA</text>
<line x1="245.80" y1="181.60" x2="319.70" y2="181.60" stroke="#111" stroke-width="1.25"/>
<text x="206.34" y="192.20" font-size="9.66" textLength="17.07" lengthAdjust="spacingAndGlyphs">(%)</text>
<text x="194.50" y="266.00" font-size="11.35" textLength="71.39" lengthAdjust="spacingAndGlyphs" transform="rotate(-90 194.50 266.00)">ALDOA activity</text>
<line x1="224.20" y1="274.80" x2="224.20" y2="199.60" stroke="#777" stroke-width="1.2"/>
<line x1="221.70" y1="274.30" x2="224.20" y2="274.30" stroke="#777" stroke-width="0.9"/>
<text x="220.40" y="278.18" font-size="9.70" text-anchor="end">0</text>
<line x1="221.70" y1="249.40" x2="224.20" y2="249.40" stroke="#777" stroke-width="0.9"/>
<text x="220.40" y="253.28" font-size="9.70" text-anchor="end">100</text>
<line x1="221.70" y1="224.50" x2="224.20" y2="224.50" stroke="#777" stroke-width="0.9"/>
<text x="220.40" y="228.38" font-size="9.70" text-anchor="end">200</text>
<line x1="221.70" y1="199.60" x2="224.20" y2="199.60" stroke="#777" stroke-width="0.9"/>
<text x="220.40" y="203.48" font-size="9.70" text-anchor="end">300</text>
<line x1="221.70" y1="274.30" x2="321.50" y2="274.30" stroke="#777" stroke-width="1.2"/>
<line x1="244.20" y1="274.30" x2="244.20" y2="278.30" stroke="#777" stroke-width="0.9"/>
<line x1="263.90" y1="274.30" x2="263.90" y2="278.30" stroke="#777" stroke-width="0.9"/>
<line x1="283.60" y1="274.30" x2="283.60" y2="278.30" stroke="#777" stroke-width="0.9"/>
<line x1="303.30" y1="274.30" x2="303.30" y2="278.30" stroke="#777" stroke-width="0.9"/>
<line x1="321.50" y1="274.30" x2="321.50" y2="278.30" stroke="#777" stroke-width="0.9"/>
<rect x="229.20" y="249.40" width="9.80" height="24.90" fill="#000" stroke="#000" stroke-width="0.6"/>
<line x1="234.10" y1="249.40" x2="234.10" y2="246.91" stroke="#1a1a1a" stroke-width="1.1"/>
<line x1="232.70" y1="246.91" x2="235.50" y2="246.91" stroke="#1a1a1a" stroke-width="1.0"/>
<rect x="248.80" y="222.26" width="9.80" height="52.04" fill="#000" stroke="#000" stroke-width="0.6"/>
<line x1="253.70" y1="222.26" x2="253.70" y2="219.77" stroke="#1a1a1a" stroke-width="1.1"/>
<line x1="252.30" y1="219.77" x2="255.10" y2="219.77" stroke="#1a1a1a" stroke-width="1.0"/>
<rect x="268.50" y="234.46" width="9.80" height="39.84" fill="#000" stroke="#000" stroke-width="0.6"/>
<line x1="273.40" y1="234.46" x2="273.40" y2="231.22" stroke="#1a1a1a" stroke-width="1.1"/>
<line x1="272.00" y1="231.22" x2="274.80" y2="231.22" stroke="#1a1a1a" stroke-width="1.0"/>
<rect x="288.50" y="248.65" width="9.80" height="25.65" fill="#000" stroke="#000" stroke-width="0.6"/>
<line x1="293.40" y1="248.65" x2="293.40" y2="245.91" stroke="#1a1a1a" stroke-width="1.1"/>
<line x1="292.00" y1="245.91" x2="294.80" y2="245.91" stroke="#1a1a1a" stroke-width="1.0"/>
<rect x="308.40" y="261.60" width="9.80" height="12.70" fill="#000" stroke="#000" stroke-width="0.6"/>
<line x1="313.30" y1="261.60" x2="313.30" y2="258.86" stroke="#1a1a1a" stroke-width="1.1"/>
<line x1="311.90" y1="258.86" x2="314.70" y2="258.86" stroke="#1a1a1a" stroke-width="1.0"/>
<path d="M233.30,213.10 L233.30,210.30 L253.80,210.30 L253.80,213.10" fill="none" stroke="#222" stroke-width="1.0"/>
<text x="227.50" y="207.60" font-size="8.37" textLength="34.01" lengthAdjust="spacingAndGlyphs"><tspan font-style="italic">P</tspan> &lt; 0.001</text>
<path d="M245.80,199.40 L245.80,196.60 L319.70,196.60 L319.70,199.40 M282.80,196.60 L282.80,194.60" fill="none" stroke="#222" stroke-width="1.0"/>
<text x="263.80" y="192.00" font-size="8.24" textLength="33.51" lengthAdjust="spacingAndGlyphs"><tspan font-style="italic">P</tspan> &lt; 0.001</text>
<text x="205.85" y="301.50" font-size="9.54" textLength="16.86" lengthAdjust="spacingAndGlyphs">(%)</text>
<text x="192.50" y="382.50" font-size="11.23" textLength="85.95" lengthAdjust="spacingAndGlyphs" transform="rotate(-90 192.50 382.50)">Migration/Invasion</text>
<line x1="222.70" y1="384.00" x2="222.70" y2="309.25" stroke="#777" stroke-width="1.2"/>
<line x1="220.20" y1="383.50" x2="222.70" y2="383.50" stroke="#777" stroke-width="0.9"/>
<text x="218.90" y="387.38" font-size="9.70" text-anchor="end">0</text>
<line x1="220.20" y1="358.75" x2="222.70" y2="358.75" stroke="#777" stroke-width="0.9"/>
<text x="218.90" y="362.63" font-size="9.70" text-anchor="end">100</text>
<line x1="220.20" y1="334.00" x2="222.70" y2="334.00" stroke="#777" stroke-width="0.9"/>
<text x="218.90" y="337.88" font-size="9.70" text-anchor="end">200</text>
<line x1="220.20" y1="309.25" x2="222.70" y2="309.25" stroke="#777" stroke-width="0.9"/>
<text x="218.90" y="313.13" font-size="9.70" text-anchor="end">300</text>
<line x1="220.20" y1="383.50" x2="324.00" y2="383.50" stroke="#777" stroke-width="1.2"/>
<line x1="243.00" y1="383.50" x2="243.00" y2="389.00" stroke="#777" stroke-width="0.9"/>
<line x1="263.80" y1="383.50" x2="263.80" y2="389.00" stroke="#777" stroke-width="0.9"/>
<line x1="284.40" y1="383.50" x2="284.40" y2="389.00" stroke="#777" stroke-width="0.9"/>
<line x1="305.00" y1="383.50" x2="305.00" y2="389.00" stroke="#777" stroke-width="0.9"/>
<line x1="324.00" y1="383.50" x2="324.00" y2="389.00" stroke="#777" stroke-width="0.9"/>
<rect x="225.00" y="358.75" width="7.60" height="24.75" fill="#1a68c6" stroke="#0c3678" stroke-width="0.6"/>
<line x1="228.80" y1="358.75" x2="228.80" y2="357.26" stroke="#1a1a1a" stroke-width="1.1"/>
<line x1="227.40" y1="357.26" x2="230.20" y2="357.26" stroke="#1a1a1a" stroke-width="1.0"/>
<rect x="232.60" y="358.75" width="7.60" height="24.75" fill="#14ae52" stroke="#075424" stroke-width="0.6"/>
<line x1="236.40" y1="358.75" x2="236.40" y2="357.51" stroke="#1a1a1a" stroke-width="1.1"/>
<line x1="235.00" y1="357.51" x2="237.80" y2="357.51" stroke="#1a1a1a" stroke-width="1.0"/>
<rect x="245.60" y="318.65" width="7.60" height="64.84" fill="#1a68c6" stroke="#0c3678" stroke-width="0.6"/>
<line x1="249.40" y1="318.65" x2="249.40" y2="317.17" stroke="#1a1a1a" stroke-width="1.1"/>
<line x1="248.00" y1="317.17" x2="250.80" y2="317.17" stroke="#1a1a1a" stroke-width="1.0"/>
<rect x="253.20" y="342.66" width="7.60" height="40.84" fill="#14ae52" stroke="#075424" stroke-width="0.6"/>
<line x1="257.00" y1="342.66" x2="257.00" y2="341.18" stroke="#1a1a1a" stroke-width="1.1"/>
<line x1="255.60" y1="341.18" x2="258.40" y2="341.18" stroke="#1a1a1a" stroke-width="1.0"/>
<rect x="266.80" y="320.63" width="7.60" height="62.87" fill="#1a68c6" stroke="#0c3678" stroke-width="0.6"/>
<line x1="270.60" y1="320.63" x2="270.60" y2="319.40" stroke="#1a1a1a" stroke-width="1.1"/>
<line x1="269.20" y1="319.40" x2="272.00" y2="319.40" stroke="#1a1a1a" stroke-width="1.0"/>
<rect x="274.40" y="343.40" width="7.60" height="40.09" fill="#14ae52" stroke="#075424" stroke-width="0.6"/>
<line x1="278.20" y1="343.40" x2="278.20" y2="341.92" stroke="#1a1a1a" stroke-width="1.1"/>
<line x1="276.80" y1="341.92" x2="279.60" y2="341.92" stroke="#1a1a1a" stroke-width="1.0"/>
<rect x="287.40" y="322.86" width="7.60" height="60.64" fill="#1a68c6" stroke="#0c3678" stroke-width="0.6"/>
<line x1="291.20" y1="322.86" x2="291.20" y2="321.87" stroke="#1a1a1a" stroke-width="1.1"/>
<line x1="289.80" y1="321.87" x2="292.60" y2="321.87" stroke="#1a1a1a" stroke-width="1.0"/>
<rect x="295.00" y="344.39" width="7.60" height="39.10" fill="#14ae52" stroke="#075424" stroke-width="0.6"/>
<line x1="298.80" y1="344.39" x2="298.80" y2="342.66" stroke="#1a1a1a" stroke-width="1.1"/>
<line x1="297.40" y1="342.66" x2="300.20" y2="342.66" stroke="#1a1a1a" stroke-width="1.0"/>
<rect x="308.20" y="332.76" width="7.60" height="50.74" fill="#1a68c6" stroke="#0c3678" stroke-width="0.6"/>
<line x1="312.00" y1="332.76" x2="312.00" y2="331.77" stroke="#1a1a1a" stroke-width="1.1"/>
<line x1="310.60" y1="331.77" x2="313.40" y2="331.77" stroke="#1a1a1a" stroke-width="1.0"/>
<rect x="315.80" y="348.11" width="7.60" height="35.39" fill="#14ae52" stroke="#075424" stroke-width="0.6"/>
<line x1="319.60" y1="348.11" x2="319.60" y2="346.38" stroke="#1a1a1a" stroke-width="1.1"/>
<line x1="318.20" y1="346.38" x2="321.00" y2="346.38" stroke="#1a1a1a" stroke-width="1.0"/>
<path d="M225.00,315.40 L225.00,312.80 L261.20,312.80 L261.20,315.40 M242.70,312.80 L242.70,310.80" fill="none" stroke="#222" stroke-width="1.0"/>
<text x="228.00" y="309.80" font-size="8.74" textLength="35.52" lengthAdjust="spacingAndGlyphs"><tspan font-style="italic">P</tspan> &lt; 0.001</text>
<path d="M242.40,303.10 L242.40,300.50 L324.30,300.50 L324.30,303.10 M282.00,300.50 L282.00,298.50" fill="none" stroke="#222" stroke-width="1.0"/>
<text x="267.30" y="296.40" font-size="8.42" textLength="25.39" lengthAdjust="spacingAndGlyphs"><tspan font-style="italic">P</tspan> = NS</text>
<text x="233.80" y="395.20" font-size="11.02" text-anchor="middle" textLength="5.78" lengthAdjust="spacingAndGlyphs">0</text>
<text x="253.50" y="395.20" font-size="11.02" text-anchor="middle" textLength="5.78" lengthAdjust="spacingAndGlyphs">0</text>
<text x="272.80" y="395.20" font-size="11.02" text-anchor="middle" textLength="11.57" lengthAdjust="spacingAndGlyphs">60</text>
<text x="293.40" y="395.20" font-size="11.02" text-anchor="middle" textLength="17.35" lengthAdjust="spacingAndGlyphs">120</text>
<text x="314.60" y="395.20" font-size="11.02" text-anchor="middle" textLength="17.35" lengthAdjust="spacingAndGlyphs">250</text>
<text x="235.85" y="406.20" font-size="11.30" textLength="73.68" lengthAdjust="spacingAndGlyphs">[4-DG] (µmol/L)</text>
<text x="424.48" y="194.30" font-size="10.93" textLength="51.00" lengthAdjust="spacingAndGlyphs">Cell:H1299</text>
<text x="383.14" y="201.00" font-size="9.72" textLength="17.18" lengthAdjust="spacingAndGlyphs">(%)</text>
<text x="374.20" y="285.90" font-size="11.79" textLength="74.19" lengthAdjust="spacingAndGlyphs" transform="rotate(-90 374.20 285.90)">ALDOA activity</text>
<line x1="396.80" y1="285.40" x2="396.80" y2="209.90" stroke="#777" stroke-width="1.2"/>
<line x1="394.30" y1="284.90" x2="396.80" y2="284.90" stroke="#777" stroke-width="0.9"/>
<text x="393.60" y="288.66" font-size="9.40" text-anchor="end">0</text>
<line x1="394.30" y1="259.90" x2="396.80" y2="259.90" stroke="#777" stroke-width="0.9"/>
<text x="393.60" y="263.66" font-size="9.40" text-anchor="end">50</text>
<line x1="394.30" y1="234.90" x2="396.80" y2="234.90" stroke="#777" stroke-width="0.9"/>
<text x="393.60" y="238.66" font-size="9.40" text-anchor="end">100</text>
<line x1="394.30" y1="209.90" x2="396.80" y2="209.90" stroke="#777" stroke-width="0.9"/>
<text x="393.60" y="213.66" font-size="9.40" text-anchor="end">150</text>
<line x1="394.30" y1="284.90" x2="500.00" y2="284.90" stroke="#777" stroke-width="1.2"/>
<line x1="422.70" y1="284.90" x2="422.70" y2="288.70" stroke="#777" stroke-width="0.9"/>
<line x1="448.50" y1="284.90" x2="448.50" y2="288.70" stroke="#777" stroke-width="0.9"/>
<line x1="474.20" y1="284.90" x2="474.20" y2="288.70" stroke="#777" stroke-width="0.9"/>
<line x1="500.00" y1="284.90" x2="500.00" y2="288.70" stroke="#777" stroke-width="0.9"/>
<rect x="403.50" y="234.90" width="13.30" height="50.00" fill="#000" stroke="#000" stroke-width="0.6"/>
<line x1="410.15" y1="234.90" x2="410.15" y2="232.90" stroke="#1a1a1a" stroke-width="1.1"/>
<line x1="408.75" y1="232.90" x2="411.55" y2="232.90" stroke="#1a1a1a" stroke-width="1.0"/>
<rect x="428.80" y="243.90" width="13.30" height="41.00" fill="#000" stroke="#000" stroke-width="0.6"/>
<line x1="435.45" y1="243.90" x2="435.45" y2="241.40" stroke="#1a1a1a" stroke-width="1.1"/>
<line x1="434.05" y1="241.40" x2="436.85" y2="241.40" stroke="#1a1a1a" stroke-width="1.0"/>
<rect x="454.80" y="262.90" width="13.30" height="22.00" fill="#000" stroke="#000" stroke-width="0.6"/>
<line x1="461.45" y1="262.90" x2="461.45" y2="259.40" stroke="#1a1a1a" stroke-width="1.1"/>
<line x1="460.05" y1="259.40" x2="462.85" y2="259.40" stroke="#1a1a1a" stroke-width="1.0"/>
<rect x="480.40" y="274.40" width="13.30" height="10.50" fill="#000" stroke="#000" stroke-width="0.6"/>
<line x1="487.05" y1="274.40" x2="487.05" y2="272.40" stroke="#1a1a1a" stroke-width="1.1"/>
<line x1="485.65" y1="272.40" x2="488.45" y2="272.40" stroke="#1a1a1a" stroke-width="1.0"/>
<path d="M410,225.2 L410,222 L474,222 L474,248.7" fill="none" stroke="#222" stroke-width="1.0"/>
<path d="M442.7,222 L442.7,219.8" fill="none" stroke="#222" stroke-width="1.0"/>
<path d="M462.00,251.80 L462.00,248.80 L487.90,248.80 L487.90,251.80" fill="none" stroke="#222" stroke-width="1.0"/>
<text x="425.00" y="216.40" font-size="8.29" textLength="33.71" lengthAdjust="spacingAndGlyphs"><tspan font-style="italic">P</tspan> &lt; 0.001</text>
<text x="378.59" y="300.80" font-size="8.98" textLength="15.88" lengthAdjust="spacingAndGlyphs">(%)</text>
<text x="374.00" y="388.40" font-size="11.75" textLength="89.95" lengthAdjust="spacingAndGlyphs" transform="rotate(-90 374.00 388.40)">Migration/Invasion</text>
<line x1="396.30" y1="383.80" x2="396.30" y2="308.83" stroke="#777" stroke-width="1.2"/>
<line x1="393.80" y1="383.30" x2="396.30" y2="383.30" stroke="#777" stroke-width="0.9"/>
<text x="392.90" y="387.02" font-size="9.30" text-anchor="end">0</text>
<line x1="393.80" y1="358.48" x2="396.30" y2="358.48" stroke="#777" stroke-width="0.9"/>
<text x="392.90" y="362.20" font-size="9.30" text-anchor="end">50</text>
<line x1="393.80" y1="333.65" x2="396.30" y2="333.65" stroke="#777" stroke-width="0.9"/>
<text x="392.90" y="337.37" font-size="9.30" text-anchor="end">100</text>
<line x1="393.80" y1="308.83" x2="396.30" y2="308.83" stroke="#777" stroke-width="0.9"/>
<text x="392.90" y="312.55" font-size="9.30" text-anchor="end">150</text>
<line x1="393.80" y1="383.30" x2="501.00" y2="383.30" stroke="#777" stroke-width="1.2"/>
<line x1="422.30" y1="383.30" x2="422.30" y2="386.80" stroke="#777" stroke-width="0.9"/>
<line x1="448.80" y1="383.30" x2="448.80" y2="386.80" stroke="#777" stroke-width="0.9"/>
<line x1="475.00" y1="383.30" x2="475.00" y2="386.80" stroke="#777" stroke-width="0.9"/>
<line x1="501.00" y1="383.30" x2="501.00" y2="386.80" stroke="#777" stroke-width="0.9"/>
<rect x="401.00" y="333.15" width="8.80" height="50.15" fill="#1a68c6" stroke="#0c3678" stroke-width="0.6"/>
<line x1="405.40" y1="333.15" x2="405.40" y2="331.66" stroke="#1a1a1a" stroke-width="1.1"/>
<line x1="404.00" y1="331.66" x2="406.80" y2="331.66" stroke="#1a1a1a" stroke-width="1.0"/>
<rect x="409.80" y="333.15" width="8.80" height="50.15" fill="#14ae52" stroke="#075424" stroke-width="0.6"/>
<line x1="414.20" y1="333.15" x2="414.20" y2="330.67" stroke="#1a1a1a" stroke-width="1.1"/>
<line x1="412.80" y1="330.67" x2="415.60" y2="330.67" stroke="#1a1a1a" stroke-width="1.0"/>
<rect x="427.40" y="335.64" width="8.80" height="47.66" fill="#1a68c6" stroke="#0c3678" stroke-width="0.6"/>
<line x1="431.80" y1="335.64" x2="431.80" y2="333.15" stroke="#1a1a1a" stroke-width="1.1"/>
<line x1="430.40" y1="333.15" x2="433.20" y2="333.15" stroke="#1a1a1a" stroke-width="1.0"/>
<rect x="436.20" y="336.13" width="8.80" height="47.17" fill="#14ae52" stroke="#075424" stroke-width="0.6"/>
<line x1="440.60" y1="336.13" x2="440.60" y2="334.15" stroke="#1a1a1a" stroke-width="1.1"/>
<line x1="439.20" y1="334.15" x2="442.00" y2="334.15" stroke="#1a1a1a" stroke-width="1.0"/>
<rect x="453.50" y="337.13" width="8.80" height="46.17" fill="#1a68c6" stroke="#0c3678" stroke-width="0.6"/>
<line x1="457.90" y1="337.13" x2="457.90" y2="334.15" stroke="#1a1a1a" stroke-width="1.1"/>
<line x1="456.50" y1="334.15" x2="459.30" y2="334.15" stroke="#1a1a1a" stroke-width="1.0"/>
<rect x="462.30" y="337.13" width="8.80" height="46.17" fill="#14ae52" stroke="#075424" stroke-width="0.6"/>
<line x1="466.70" y1="337.13" x2="466.70" y2="334.15" stroke="#1a1a1a" stroke-width="1.1"/>
<line x1="465.30" y1="334.15" x2="468.10" y2="334.15" stroke="#1a1a1a" stroke-width="1.0"/>
<rect x="480.00" y="342.59" width="8.80" height="40.71" fill="#1a68c6" stroke="#0c3678" stroke-width="0.6"/>
<line x1="484.40" y1="342.59" x2="484.40" y2="340.10" stroke="#1a1a1a" stroke-width="1.1"/>
<line x1="483.00" y1="340.10" x2="485.80" y2="340.10" stroke="#1a1a1a" stroke-width="1.0"/>
<rect x="488.80" y="337.13" width="8.80" height="46.17" fill="#14ae52" stroke="#075424" stroke-width="0.6"/>
<line x1="493.20" y1="337.13" x2="493.20" y2="334.64" stroke="#1a1a1a" stroke-width="1.1"/>
<line x1="491.80" y1="334.64" x2="494.60" y2="334.64" stroke="#1a1a1a" stroke-width="1.0"/>
<path d="M399.20,322.40 L399.20,319.60 L499.60,319.60 L499.60,322.40 M449.50,319.60 L449.50,317.60" fill="none" stroke="#222" stroke-width="1.0"/>
<text x="437.30" y="312.80" font-size="8.19" textLength="24.69" lengthAdjust="spacingAndGlyphs"><tspan font-style="italic">P</tspan> = NS</text>
<text x="410.30" y="399.50" font-size="11.24" text-anchor="middle" textLength="5.89" lengthAdjust="spacingAndGlyphs">0</text>
<text x="436.20" y="399.50" font-size="11.24" text-anchor="middle" textLength="11.79" lengthAdjust="spacingAndGlyphs">60</text>
<text x="462.00" y="399.50" font-size="11.24" text-anchor="middle" textLength="17.68" lengthAdjust="spacingAndGlyphs">120</text>
<text x="486.50" y="399.50" font-size="11.24" text-anchor="middle" textLength="17.68" lengthAdjust="spacingAndGlyphs">250</text>
<text x="418.05" y="410.60" font-size="11.29" textLength="73.58" lengthAdjust="spacingAndGlyphs">[4-DG] (µmol/L)</text>
<text x="50.66" y="438.00" font-size="9.42" textLength="16.64" lengthAdjust="spacingAndGlyphs">(%)</text>
<text x="87.48" y="447.80" font-size="11.03" textLength="52.05" lengthAdjust="spacingAndGlyphs">Cell: CL1-0</text>
<text x="33.90" y="528.00" font-size="11.14" textLength="70.09" lengthAdjust="spacingAndGlyphs" transform="rotate(-90 33.90 528.00)">ALDOA activity</text>
<line x1="60.70" y1="530.90" x2="60.70" y2="445.71" stroke="#777" stroke-width="1.2"/>
<line x1="58.20" y1="530.40" x2="60.70" y2="530.40" stroke="#777" stroke-width="0.9"/>
<text x="56.70" y="534.72" font-size="10.80" text-anchor="end">0</text>
<line x1="58.20" y1="502.17" x2="60.70" y2="502.17" stroke="#777" stroke-width="0.9"/>
<text x="56.70" y="506.49" font-size="10.80" text-anchor="end">100</text>
<line x1="58.20" y1="473.94" x2="60.70" y2="473.94" stroke="#777" stroke-width="0.9"/>
<text x="56.70" y="478.26" font-size="10.80" text-anchor="end">200</text>
<line x1="58.20" y1="445.71" x2="60.70" y2="445.71" stroke="#777" stroke-width="0.9"/>
<text x="56.70" y="450.03" font-size="10.80" text-anchor="end">300</text>
<line x1="58.20" y1="530.40" x2="174.00" y2="530.40" stroke="#777" stroke-width="1.2"/>
<line x1="84.00" y1="530.40" x2="84.00" y2="533.40" stroke="#777" stroke-width="0.9"/>
<line x1="106.50" y1="530.40" x2="106.50" y2="533.40" stroke="#777" stroke-width="0.9"/>
<line x1="129.00" y1="530.40" x2="129.00" y2="533.40" stroke="#777" stroke-width="0.9"/>
<line x1="151.50" y1="530.40" x2="151.50" y2="533.40" stroke="#777" stroke-width="0.9"/>
<line x1="174.00" y1="530.40" x2="174.00" y2="533.40" stroke="#777" stroke-width="0.9"/>
<rect x="66.50" y="502.17" width="11.50" height="28.23" fill="#000" stroke="#000" stroke-width="0.6"/>
<line x1="72.25" y1="502.17" x2="72.25" y2="499.91" stroke="#1a1a1a" stroke-width="1.1"/>
<line x1="70.85" y1="499.91" x2="73.65" y2="499.91" stroke="#1a1a1a" stroke-width="1.0"/>
<rect x="89.20" y="501.04" width="11.50" height="29.36" fill="#000" stroke="#000" stroke-width="0.6"/>
<line x1="94.95" y1="501.04" x2="94.95" y2="498.78" stroke="#1a1a1a" stroke-width="1.1"/>
<line x1="93.55" y1="498.78" x2="96.35" y2="498.78" stroke="#1a1a1a" stroke-width="1.0"/>
<rect x="111.50" y="495.96" width="11.50" height="34.44" fill="#000" stroke="#000" stroke-width="0.6"/>
<line x1="117.25" y1="495.96" x2="117.25" y2="493.98" stroke="#1a1a1a" stroke-width="1.1"/>
<line x1="115.85" y1="493.98" x2="118.65" y2="493.98" stroke="#1a1a1a" stroke-width="1.0"/>
<rect x="134.20" y="500.48" width="11.50" height="29.92" fill="#000" stroke="#000" stroke-width="0.6"/>
<line x1="139.95" y1="500.48" x2="139.95" y2="498.22" stroke="#1a1a1a" stroke-width="1.1"/>
<line x1="138.55" y1="498.22" x2="141.35" y2="498.22" stroke="#1a1a1a" stroke-width="1.0"/>
<rect x="157.00" y="477.89" width="11.50" height="52.51" fill="#000" stroke="#000" stroke-width="0.6"/>
<line x1="162.75" y1="477.89" x2="162.75" y2="475.63" stroke="#1a1a1a" stroke-width="1.1"/>
<line x1="161.35" y1="475.63" x2="164.15" y2="475.63" stroke="#1a1a1a" stroke-width="1.0"/>
<path d="M65.40,487.90 L65.40,485.50 L148.50,485.50 L148.50,487.90 M107.00,485.50 L107.00,483.10" fill="none" stroke="#222" stroke-width="1.0"/>
<text x="96.00" y="480.60" font-size="9.65" textLength="24.03" lengthAdjust="spacingAndGlyphs"><tspan font-style="italic">P</tspan>=NS</text>
<path d="M107.00,468.70 L107.00,464.70 L163.50,464.70 L163.50,468.70" fill="none" stroke="#222" stroke-width="1.0"/>
<text x="118.50" y="462.60" font-size="10.00" textLength="38.04" lengthAdjust="spacingAndGlyphs"><tspan font-style="italic">P</tspan>&lt; 0.001</text>
<text x="53.06" y="541.80" font-size="9.42" textLength="16.64" lengthAdjust="spacingAndGlyphs">(%)</text>
<text x="35.40" y="629.60" font-size="11.11" textLength="84.49" lengthAdjust="spacingAndGlyphs" transform="rotate(-90 35.40 629.60)">Migration/invasion</text>
<line x1="61.30" y1="631.00" x2="61.30" y2="545.81" stroke="#777" stroke-width="1.2"/>
<line x1="58.80" y1="630.50" x2="61.30" y2="630.50" stroke="#777" stroke-width="0.9"/>
<text x="57.90" y="634.82" font-size="10.80" text-anchor="end">0</text>
<line x1="58.80" y1="602.27" x2="61.30" y2="602.27" stroke="#777" stroke-width="0.9"/>
<text x="57.90" y="606.59" font-size="10.80" text-anchor="end">100</text>
<line x1="58.80" y1="574.04" x2="61.30" y2="574.04" stroke="#777" stroke-width="0.9"/>
<text x="57.90" y="578.36" font-size="10.80" text-anchor="end">200</text>
<line x1="58.80" y1="545.81" x2="61.30" y2="545.81" stroke="#777" stroke-width="0.9"/>
<text x="57.90" y="550.13" font-size="10.80" text-anchor="end">300</text>
<line x1="58.80" y1="630.50" x2="175.50" y2="630.50" stroke="#777" stroke-width="1.2"/>
<line x1="84.60" y1="630.50" x2="84.60" y2="633.50" stroke="#777" stroke-width="0.9"/>
<line x1="107.40" y1="630.50" x2="107.40" y2="633.50" stroke="#777" stroke-width="0.9"/>
<line x1="130.20" y1="630.50" x2="130.20" y2="633.50" stroke="#777" stroke-width="0.9"/>
<line x1="153.00" y1="630.50" x2="153.00" y2="633.50" stroke="#777" stroke-width="0.9"/>
<line x1="175.50" y1="630.50" x2="175.50" y2="633.50" stroke="#777" stroke-width="0.9"/>
<rect x="65.00" y="602.27" width="7.90" height="28.23" fill="#1a68c6" stroke="#0c3678" stroke-width="0.6"/>
<line x1="68.95" y1="602.27" x2="68.95" y2="597.75" stroke="#1a1a1a" stroke-width="1.1"/>
<line x1="67.55" y1="597.75" x2="70.35" y2="597.75" stroke="#1a1a1a" stroke-width="1.0"/>
<rect x="72.90" y="602.27" width="7.90" height="28.23" fill="#14ae52" stroke="#075424" stroke-width="0.6"/>
<line x1="76.85" y1="602.27" x2="76.85" y2="599.73" stroke="#1a1a1a" stroke-width="1.1"/>
<line x1="75.45" y1="599.73" x2="78.25" y2="599.73" stroke="#1a1a1a" stroke-width="1.0"/>
<rect x="88.20" y="577.43" width="7.90" height="53.07" fill="#1a68c6" stroke="#0c3678" stroke-width="0.6"/>
<line x1="92.15" y1="577.43" x2="92.15" y2="576.02" stroke="#1a1a1a" stroke-width="1.1"/>
<line x1="90.75" y1="576.02" x2="93.55" y2="576.02" stroke="#1a1a1a" stroke-width="1.0"/>
<rect x="96.10" y="590.70" width="7.90" height="39.80" fill="#14ae52" stroke="#075424" stroke-width="0.6"/>
<line x1="100.05" y1="590.70" x2="100.05" y2="587.59" stroke="#1a1a1a" stroke-width="1.1"/>
<line x1="98.65" y1="587.59" x2="101.45" y2="587.59" stroke="#1a1a1a" stroke-width="1.0"/>
<rect x="110.80" y="582.51" width="7.90" height="47.99" fill="#1a68c6" stroke="#0c3678" stroke-width="0.6"/>
<line x1="114.75" y1="582.51" x2="114.75" y2="580.25" stroke="#1a1a1a" stroke-width="1.1"/>
<line x1="113.35" y1="580.25" x2="116.15" y2="580.25" stroke="#1a1a1a" stroke-width="1.0"/>
<rect x="118.70" y="591.54" width="7.90" height="38.96" fill="#14ae52" stroke="#075424" stroke-width="0.6"/>
<line x1="122.65" y1="591.54" x2="122.65" y2="589.00" stroke="#1a1a1a" stroke-width="1.1"/>
<line x1="121.25" y1="589.00" x2="124.05" y2="589.00" stroke="#1a1a1a" stroke-width="1.0"/>
<rect x="133.40" y="587.31" width="7.90" height="43.19" fill="#1a68c6" stroke="#0c3678" stroke-width="0.6"/>
<line x1="137.35" y1="587.31" x2="137.35" y2="585.61" stroke="#1a1a1a" stroke-width="1.1"/>
<line x1="135.95" y1="585.61" x2="138.75" y2="585.61" stroke="#1a1a1a" stroke-width="1.0"/>
<rect x="141.30" y="595.49" width="7.90" height="35.01" fill="#14ae52" stroke="#075424" stroke-width="0.6"/>
<line x1="145.25" y1="595.49" x2="145.25" y2="592.11" stroke="#1a1a1a" stroke-width="1.1"/>
<line x1="143.85" y1="592.11" x2="146.65" y2="592.11" stroke="#1a1a1a" stroke-width="1.0"/>
<rect x="156.50" y="579.12" width="7.90" height="51.38" fill="#1a68c6" stroke="#0c3678" stroke-width="0.6"/>
<line x1="160.45" y1="579.12" x2="160.45" y2="576.86" stroke="#1a1a1a" stroke-width="1.1"/>
<line x1="159.05" y1="576.86" x2="161.85" y2="576.86" stroke="#1a1a1a" stroke-width="1.0"/>
<rect x="164.40" y="585.05" width="7.90" height="45.45" fill="#14ae52" stroke="#075424" stroke-width="0.6"/>
<line x1="168.35" y1="585.05" x2="168.35" y2="583.07" stroke="#1a1a1a" stroke-width="1.1"/>
<line x1="166.95" y1="583.07" x2="169.75" y2="583.07" stroke="#1a1a1a" stroke-width="1.0"/>
<path d="M64.60,574.90 L64.60,572.10 L105.60,572.10 L105.60,574.90 M86.00,572.10 L86.00,570.10" fill="none" stroke="#222" stroke-width="1.0"/>
<text x="66.00" y="567.40" font-size="9.11" textLength="37.02" lengthAdjust="spacingAndGlyphs"><tspan font-style="italic">P</tspan> &lt; 0.001</text>
<path d="M88.20,557.90 L88.20,555.10 L174.70,555.10 L174.70,557.90 M131.50,555.10 L131.50,553.10" fill="none" stroke="#222" stroke-width="1.0"/>
<text x="117.70" y="552.50" font-size="9.18" textLength="27.69" lengthAdjust="spacingAndGlyphs"><tspan font-style="italic">P</tspan> = NS</text>
<text x="65.69" y="645.40" font-size="11.39" textLength="14.93" lengthAdjust="spacingAndGlyphs">VC</text>
<text x="98.73" y="636.70" font-size="11.20" textLength="25.01" lengthAdjust="spacingAndGlyphs" text-anchor="end" transform="rotate(-90 98.73 636.70)">D33A</text>
<text x="120.53" y="636.70" font-size="11.20" textLength="30.57" lengthAdjust="spacingAndGlyphs" text-anchor="end" transform="rotate(-90 120.53 636.70)">H361Y</text>
<text x="144.13" y="636.70" font-size="11.20" textLength="30.02" lengthAdjust="spacingAndGlyphs" text-anchor="end" transform="rotate(-90 144.13 636.70)">Y363S</text>
<text x="168.03" y="636.70" font-size="11.20" textLength="10.00" lengthAdjust="spacingAndGlyphs" text-anchor="end" transform="rotate(-90 168.03 636.70)">wt</text>
<line x1="87.70" y1="669.40" x2="173.30" y2="669.40" stroke="#111" stroke-width="1.25"/>
<text x="115.60" y="680.40" font-size="10.54" textLength="33.70" lengthAdjust="spacingAndGlyphs">ALDOA</text>
<text x="261.34" y="447.20" font-size="11.84" textLength="55.27" lengthAdjust="spacingAndGlyphs">Cell:H1355</text>
<text x="232.04" y="464.60" font-size="9.72" textLength="17.18" lengthAdjust="spacingAndGlyphs">(%)</text>
<text x="214.90" y="543.75" font-size="11.52" textLength="72.49" lengthAdjust="spacingAndGlyphs" transform="rotate(-90 214.90 543.75)">ALDOA activity</text>
<line x1="244.60" y1="552.30" x2="244.60" y2="474.10" stroke="#777" stroke-width="1.2"/>
<line x1="242.10" y1="551.80" x2="244.60" y2="551.80" stroke="#777" stroke-width="0.9"/>
<text x="240.00" y="555.80" font-size="10.00" text-anchor="end">0</text>
<line x1="242.10" y1="525.90" x2="244.60" y2="525.90" stroke="#777" stroke-width="0.9"/>
<text x="240.00" y="529.90" font-size="10.00" text-anchor="end">100</text>
<line x1="242.10" y1="500.00" x2="244.60" y2="500.00" stroke="#777" stroke-width="0.9"/>
<text x="240.00" y="504.00" font-size="10.00" text-anchor="end">200</text>
<line x1="242.10" y1="474.10" x2="244.60" y2="474.10" stroke="#777" stroke-width="0.9"/>
<text x="240.00" y="478.10" font-size="10.00" text-anchor="end">300</text>
<line x1="242.10" y1="551.80" x2="352.00" y2="551.80" stroke="#777" stroke-width="1.2"/>
<line x1="265.20" y1="551.80" x2="265.20" y2="555.60" stroke="#777" stroke-width="0.9"/>
<line x1="286.90" y1="551.80" x2="286.90" y2="555.60" stroke="#777" stroke-width="0.9"/>
<line x1="308.60" y1="551.80" x2="308.60" y2="555.60" stroke="#777" stroke-width="0.9"/>
<line x1="330.30" y1="551.80" x2="330.30" y2="555.60" stroke="#777" stroke-width="0.9"/>
<line x1="352.00" y1="551.80" x2="352.00" y2="555.60" stroke="#777" stroke-width="0.9"/>
<rect x="250.40" y="525.90" width="10.40" height="25.90" fill="#000" stroke="#000" stroke-width="0.6"/>
<line x1="255.60" y1="525.90" x2="255.60" y2="522.79" stroke="#1a1a1a" stroke-width="1.1"/>
<line x1="254.20" y1="522.79" x2="257.00" y2="522.79" stroke="#1a1a1a" stroke-width="1.0"/>
<rect x="271.60" y="497.41" width="10.40" height="54.39" fill="#000" stroke="#000" stroke-width="0.6"/>
<line x1="276.80" y1="497.41" x2="276.80" y2="490.93" stroke="#1a1a1a" stroke-width="1.1"/>
<line x1="275.40" y1="490.93" x2="278.20" y2="490.93" stroke="#1a1a1a" stroke-width="1.0"/>
<rect x="293.00" y="524.86" width="10.40" height="26.94" fill="#000" stroke="#000" stroke-width="0.6"/>
<line x1="298.20" y1="524.86" x2="298.20" y2="521.76" stroke="#1a1a1a" stroke-width="1.1"/>
<line x1="296.80" y1="521.76" x2="299.60" y2="521.76" stroke="#1a1a1a" stroke-width="1.0"/>
<rect x="314.30" y="516.06" width="10.40" height="35.74" fill="#000" stroke="#000" stroke-width="0.6"/>
<line x1="319.50" y1="516.06" x2="319.50" y2="510.88" stroke="#1a1a1a" stroke-width="1.1"/>
<line x1="318.10" y1="510.88" x2="320.90" y2="510.88" stroke="#1a1a1a" stroke-width="1.0"/>
<rect x="335.80" y="523.31" width="10.40" height="28.49" fill="#000" stroke="#000" stroke-width="0.6"/>
<line x1="341.00" y1="523.31" x2="341.00" y2="519.68" stroke="#1a1a1a" stroke-width="1.1"/>
<line x1="339.60" y1="519.68" x2="342.40" y2="519.68" stroke="#1a1a1a" stroke-width="1.0"/>
<path d="M255.80,487.00 L255.80,484.00 L277.40,484.00 L277.40,487.00" fill="none" stroke="#222" stroke-width="1.0"/>
<text x="248.00" y="480.60" font-size="8.76" textLength="35.62" lengthAdjust="spacingAndGlyphs"><tspan font-style="italic">P</tspan> &lt; 0.001</text>
<path d="M277.40,470.10 L277.40,467.10 L322.00,467.10 L322.00,470.10" fill="none" stroke="#222" stroke-width="1.0"/>
<text x="283.40" y="464.30" font-size="9.20" textLength="37.42" lengthAdjust="spacingAndGlyphs"><tspan font-style="italic">P</tspan> &lt; 0.001</text>
<path d="M290.80,501.00 L290.80,498.60 L352.00,498.60 L352.00,501.00 M321.20,498.60 L321.20,496.40" fill="none" stroke="#222" stroke-width="1.0"/>
<text x="307.00" y="492.00" font-size="9.15" textLength="27.59" lengthAdjust="spacingAndGlyphs"><tspan font-style="italic">P</tspan> = NS</text>
<text x="248.69" y="564.30" font-size="12.18" textLength="15.97" lengthAdjust="spacingAndGlyphs">VC</text>
<text x="280.97" y="558.00" font-size="11.02" textLength="10.40" lengthAdjust="spacingAndGlyphs" text-anchor="end" transform="rotate(-90 280.97 558.00)">wt</text>
<text x="302.57" y="558.00" font-size="11.02" textLength="26.01" lengthAdjust="spacingAndGlyphs" text-anchor="end" transform="rotate(-90 302.57 558.00)">D33A</text>
<text x="323.37" y="558.00" font-size="11.02" textLength="31.80" lengthAdjust="spacingAndGlyphs" text-anchor="end" transform="rotate(-90 323.37 558.00)">H361Y</text>
<text x="345.17" y="558.00" font-size="11.02" textLength="31.22" lengthAdjust="spacingAndGlyphs" text-anchor="end" transform="rotate(-90 345.17 558.00)">Y363S</text>
<line x1="265.00" y1="592.80" x2="355.40" y2="592.80" stroke="#111" stroke-width="1.25"/>
<text x="295.40" y="604.20" font-size="11.57" textLength="37.01" lengthAdjust="spacingAndGlyphs">ALDOA</text>
<text x="426.49" y="455.30" font-size="10.12">Cell:H1355</text>
<text x="394.52" y="471.60" font-size="9.91" textLength="17.51" lengthAdjust="spacingAndGlyphs">(%)</text>
<text x="381.90" y="546.60" font-size="10.10" textLength="77.34" lengthAdjust="spacingAndGlyphs" transform="rotate(-90 381.90 546.60)">Migration/Invasion</text>
<line x1="407.50" y1="549.90" x2="407.50" y2="481.75" stroke="#777" stroke-width="1.2"/>
<line x1="405.00" y1="549.40" x2="407.50" y2="549.40" stroke="#777" stroke-width="0.9"/>
<text x="403.90" y="553.28" font-size="9.70" text-anchor="end">0</text>
<line x1="405.00" y1="526.85" x2="407.50" y2="526.85" stroke="#777" stroke-width="0.9"/>
<text x="403.90" y="530.73" font-size="9.70" text-anchor="end">100</text>
<line x1="405.00" y1="504.30" x2="407.50" y2="504.30" stroke="#777" stroke-width="0.9"/>
<text x="403.90" y="508.18" font-size="9.70" text-anchor="end">200</text>
<line x1="405.00" y1="481.75" x2="407.50" y2="481.75" stroke="#777" stroke-width="0.9"/>
<text x="403.90" y="485.63" font-size="9.70" text-anchor="end">300</text>
<line x1="405.00" y1="549.40" x2="506.00" y2="549.40" stroke="#777" stroke-width="1.2"/>
<line x1="427.50" y1="549.40" x2="427.50" y2="552.90" stroke="#777" stroke-width="0.9"/>
<line x1="447.00" y1="549.40" x2="447.00" y2="552.90" stroke="#777" stroke-width="0.9"/>
<line x1="466.60" y1="549.40" x2="466.60" y2="552.90" stroke="#777" stroke-width="0.9"/>
<line x1="486.20" y1="549.40" x2="486.20" y2="552.90" stroke="#777" stroke-width="0.9"/>
<line x1="506.00" y1="549.40" x2="506.00" y2="552.90" stroke="#777" stroke-width="0.9"/>
<rect x="411.00" y="526.85" width="6.80" height="22.55" fill="#1a68c6" stroke="#0c3678" stroke-width="0.6"/>
<line x1="414.40" y1="526.85" x2="414.40" y2="524.14" stroke="#1a1a1a" stroke-width="1.1"/>
<line x1="413.00" y1="524.14" x2="415.80" y2="524.14" stroke="#1a1a1a" stroke-width="1.0"/>
<rect x="417.80" y="526.85" width="6.80" height="22.55" fill="#14ae52" stroke="#075424" stroke-width="0.6"/>
<line x1="421.20" y1="526.85" x2="421.20" y2="525.05" stroke="#1a1a1a" stroke-width="1.1"/>
<line x1="419.80" y1="525.05" x2="422.60" y2="525.05" stroke="#1a1a1a" stroke-width="1.0"/>
<rect x="430.30" y="488.51" width="6.80" height="60.89" fill="#1a68c6" stroke="#0c3678" stroke-width="0.6"/>
<line x1="433.70" y1="488.51" x2="433.70" y2="487.16" stroke="#1a1a1a" stroke-width="1.1"/>
<line x1="432.30" y1="487.16" x2="435.10" y2="487.16" stroke="#1a1a1a" stroke-width="1.0"/>
<rect x="437.10" y="505.43" width="6.80" height="43.97" fill="#14ae52" stroke="#075424" stroke-width="0.6"/>
<line x1="440.50" y1="505.43" x2="440.50" y2="504.07" stroke="#1a1a1a" stroke-width="1.1"/>
<line x1="439.10" y1="504.07" x2="441.90" y2="504.07" stroke="#1a1a1a" stroke-width="1.0"/>
<rect x="449.70" y="496.63" width="6.80" height="52.77" fill="#1a68c6" stroke="#0c3678" stroke-width="0.6"/>
<line x1="453.10" y1="496.63" x2="453.10" y2="494.83" stroke="#1a1a1a" stroke-width="1.1"/>
<line x1="451.70" y1="494.83" x2="454.50" y2="494.83" stroke="#1a1a1a" stroke-width="1.0"/>
<rect x="456.50" y="509.94" width="6.80" height="39.46" fill="#14ae52" stroke="#075424" stroke-width="0.6"/>
<line x1="459.90" y1="509.94" x2="459.90" y2="508.13" stroke="#1a1a1a" stroke-width="1.1"/>
<line x1="458.50" y1="508.13" x2="461.30" y2="508.13" stroke="#1a1a1a" stroke-width="1.0"/>
<rect x="469.40" y="489.87" width="6.80" height="59.53" fill="#1a68c6" stroke="#0c3678" stroke-width="0.6"/>
<line x1="472.80" y1="489.87" x2="472.80" y2="488.29" stroke="#1a1a1a" stroke-width="1.1"/>
<line x1="471.40" y1="488.29" x2="474.20" y2="488.29" stroke="#1a1a1a" stroke-width="1.0"/>
<rect x="476.20" y="508.58" width="6.80" height="40.82" fill="#14ae52" stroke="#075424" stroke-width="0.6"/>
<line x1="479.60" y1="508.58" x2="479.60" y2="507.01" stroke="#1a1a1a" stroke-width="1.1"/>
<line x1="478.20" y1="507.01" x2="481.00" y2="507.01" stroke="#1a1a1a" stroke-width="1.0"/>
<rect x="488.90" y="503.62" width="6.80" height="45.78" fill="#1a68c6" stroke="#0c3678" stroke-width="0.6"/>
<line x1="492.30" y1="503.62" x2="492.30" y2="502.50" stroke="#1a1a1a" stroke-width="1.1"/>
<line x1="490.90" y1="502.50" x2="493.70" y2="502.50" stroke="#1a1a1a" stroke-width="1.0"/>
<rect x="495.70" y="511.52" width="6.80" height="37.88" fill="#14ae52" stroke="#075424" stroke-width="0.6"/>
<line x1="499.10" y1="511.52" x2="499.10" y2="508.81" stroke="#1a1a1a" stroke-width="1.1"/>
<line x1="497.70" y1="508.81" x2="500.50" y2="508.81" stroke="#1a1a1a" stroke-width="1.0"/>
<path d="M427.00,470.10 L427.00,467.60 L503.70,467.60 L503.70,470.10 M465.40,467.60 L465.40,465.60" fill="none" stroke="#222" stroke-width="1.0"/>
<text x="451.20" y="464.40" font-size="8.29" textLength="24.99" lengthAdjust="spacingAndGlyphs"><tspan font-style="italic">P</tspan> = NS</text>
<path d="M410.50,485.10 L410.50,482.60 L444.50,482.60 L444.50,485.10 M430.00,482.60 L430.00,480.60" fill="none" stroke="#222" stroke-width="1.0"/>
<text x="411.20" y="479.90" font-size="8.20" textLength="33.31" lengthAdjust="spacingAndGlyphs"><tspan font-style="italic">P</tspan> &lt; 0.001</text>
<text x="410.90" y="561.30" font-size="10.66" textLength="14.51" lengthAdjust="spacingAndGlyphs">VC</text>
<text x="441.65" y="552.70" font-size="10.70" textLength="9.30" lengthAdjust="spacingAndGlyphs" text-anchor="end" transform="rotate(-90 441.65 552.70)">wt</text>
<text x="460.95" y="552.70" font-size="10.70" textLength="23.26" lengthAdjust="spacingAndGlyphs" text-anchor="end" transform="rotate(-90 460.95 552.70)">D33A</text>
<text x="479.55" y="552.70" font-size="10.70" textLength="28.43" lengthAdjust="spacingAndGlyphs" text-anchor="end" transform="rotate(-90 479.55 552.70)">H361Y</text>
<text x="499.25" y="552.70" font-size="10.70" textLength="27.92" lengthAdjust="spacingAndGlyphs" text-anchor="end" transform="rotate(-90 499.25 552.70)">Y363S</text>
<line x1="425.40" y1="585.40" x2="506.80" y2="585.40" stroke="#111" stroke-width="1.25"/>
<text x="452.50" y="596.60" font-size="9.61" textLength="34.30" lengthAdjust="spacingAndGlyphs">ALDOA</text>
</svg>
</body></html>
